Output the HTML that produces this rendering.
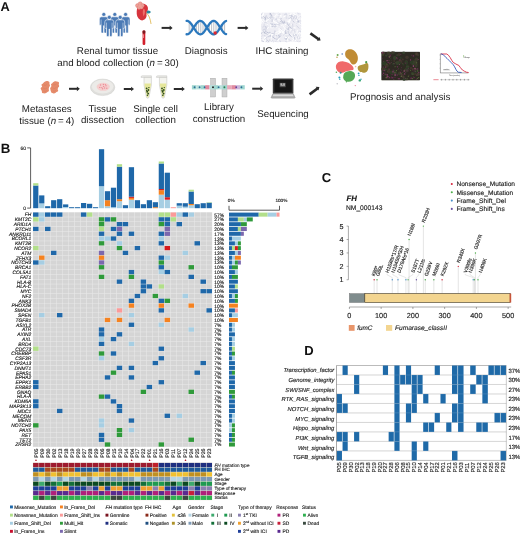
<!DOCTYPE html>
<html lang="en"><head><meta charset="utf-8"><title>Figure</title>
<style>html,body{margin:0;padding:0;background:#fff}svg{display:block}</style>
</head><body>
<svg width="520" height="535" viewBox="0 0 520 535" font-family='"Liberation Sans", sans-serif' text-rendering="geometricPrecision">
<rect x="0.00" y="0.00" width="520.00" height="535.00" fill="#ffffff"/>
<g id="panelA">
<text x="0.60" y="11.30" font-size="12.8" text-anchor="start" font-weight="bold" font-style="normal" fill="#111">A</text>
<g fill="#4b7ab5" stroke="#ffffff" stroke-width="0.55" stroke-linejoin="round">
<path d="M99.40 18.90 Q99.40 16.80 101.50 16.80 H106.10 Q108.20 16.80 108.20 18.90 V24.70 Q107.35 25.70 106.50 24.70 V32.50 Q105.30 33.70 104.05 32.50 V25.70 H103.55 V32.50 Q102.30 33.70 101.10 32.50 V24.70 Q100.25 25.70 99.40 24.70 Z"/>
<circle cx="103.80" cy="14.40" r="1.95"/>
</g>
<path d="M101.10 19.50 V24.90 M106.50 19.50 V24.90" stroke="#ffffff" stroke-width="0.45" fill="none"/>
<g fill="#4b7ab5" stroke="#ffffff" stroke-width="0.55" stroke-linejoin="round">
<path d="M110.40 18.90 Q110.40 16.80 112.50 16.80 H117.10 Q119.20 16.80 119.20 18.90 V24.70 Q118.35 25.70 117.50 24.70 V32.50 Q116.30 33.70 115.05 32.50 V25.70 H114.55 V32.50 Q113.30 33.70 112.10 32.50 V24.70 Q111.25 25.70 110.40 24.70 Z"/>
<circle cx="114.80" cy="14.40" r="1.95"/>
</g>
<path d="M112.10 19.50 V24.90 M117.50 19.50 V24.90" stroke="#ffffff" stroke-width="0.45" fill="none"/>
<g fill="#4b7ab5" stroke="#ffffff" stroke-width="0.55" stroke-linejoin="round">
<path d="M121.20 18.90 Q121.20 16.80 123.30 16.80 H127.90 Q130.00 16.80 130.00 18.90 V24.70 Q129.15 25.70 128.30 24.70 V32.50 Q127.10 33.70 125.85 32.50 V25.70 H125.35 V32.50 Q124.10 33.70 122.90 32.50 V24.70 Q122.05 25.70 121.20 24.70 Z"/>
<circle cx="125.60" cy="14.40" r="1.95"/>
</g>
<path d="M122.90 19.50 V24.90 M128.30 19.50 V24.90" stroke="#ffffff" stroke-width="0.45" fill="none"/>
<g fill="#4b7ab5" stroke="#ffffff" stroke-width="0.55" stroke-linejoin="round">
<path d="M104.77 21.99 Q104.77 19.83 106.93 19.83 H111.67 Q113.83 19.83 113.83 21.99 V27.97 Q112.96 29.00 112.08 27.97 V36.00 Q110.84 37.24 109.56 36.00 V29.00 H109.04 V36.00 Q107.75 37.24 106.52 36.00 V27.97 Q105.64 29.00 104.77 27.97 Z"/>
<circle cx="109.30" cy="17.36" r="2.01"/>
</g>
<path d="M106.52 22.61 V28.17 M112.08 22.61 V28.17" stroke="#ffffff" stroke-width="0.45" fill="none"/>
<g fill="#4b7ab5" stroke="#ffffff" stroke-width="0.55" stroke-linejoin="round">
<path d="M115.67 21.99 Q115.67 19.83 117.83 19.83 H122.57 Q124.73 19.83 124.73 21.99 V27.97 Q123.86 29.00 122.98 27.97 V36.00 Q121.75 37.24 120.46 36.00 V29.00 H119.94 V36.00 Q118.66 37.24 117.42 36.00 V27.97 Q116.54 29.00 115.67 27.97 Z"/>
<circle cx="120.20" cy="17.36" r="2.01"/>
</g>
<path d="M117.42 22.61 V28.17 M122.98 22.61 V28.17" stroke="#ffffff" stroke-width="0.45" fill="none"/>
<path d="M146.2 10.6 C149.6 9.8 151.4 11.4 150.6 12.6 C149.6 13.8 147.6 13.6 146.2 13.8 Z" fill="#2a8aa0"/>
<path d="M146.4 13.0 C148.8 14.6 150.2 18.4 151.0 23.6" fill="none" stroke="#e4c26a" stroke-width="1.0" stroke-linecap="round"/>
<path d="M140.0 4.5 C144.0 2.5 148.6 5.0 147.9 9.5 C147.5 11.0 146.3 11.6 146.3 12.8 C146.3 14.5 147.1 15.6 146.1 17.6 C145.0 20.0 142.5 21.0 140.5 20.0 C137.5 18.5 136.4 15.0 136.7 11.5 C137.0 8.0 137.5 5.5 140.0 4.5 Z" fill="#d6343c"/>
<path d="M143.6 8.6 C145.6 9.6 145.2 13.8 143.6 16.4 C142.6 14.6 142.4 10.6 143.6 8.6 Z" fill="#ee6f6a"/>
<g fill="#eda097" stroke="#d9706a" stroke-width="0.35">
<circle cx="137.6" cy="5.6" r="2.1"/>
<circle cx="140.2" cy="3.9" r="2.1"/>
<circle cx="142.4" cy="5.6" r="1.9"/>
<circle cx="139.0" cy="7.6" r="1.9"/>
<circle cx="141.4" cy="7.4" r="1.7"/>
</g>
<circle cx="140.0" cy="5.8" r="1.6" fill="#eda097"/>
<rect x="142.60" y="30.40" width="2.70" height="14.60" fill="#d3202c" rx="1.2"/>
<rect x="142.60" y="30.40" width="2.70" height="3.20" fill="#7a1a1f" rx="0.6"/>
<rect x="143.30" y="34.40" width="0.70" height="3.60" fill="#f4b6b6"/>
<line x1="161.60" y1="27.90" x2="170.20" y2="27.90" stroke="#2b2b2b" stroke-width="2.0"/>
<path d="M172.60 27.90 L169.70 30.25 L169.70 25.55 Z" fill="#2b2b2b"/>
<line x1="189.2" y1="22.38" x2="189.2" y2="32.82" stroke="#b4bac2" stroke-width="0.9"/>
<line x1="191.2" y1="24.54" x2="191.2" y2="30.66" stroke="#b4bac2" stroke-width="0.9"/>
<line x1="196.4" y1="24.15" x2="196.4" y2="31.05" stroke="#b4bac2" stroke-width="0.9"/>
<line x1="198.6" y1="22.03" x2="198.6" y2="33.17" stroke="#b4bac2" stroke-width="0.9"/>
<line x1="200.8" y1="21.55" x2="200.8" y2="33.65" stroke="#b4bac2" stroke-width="0.9"/>
<line x1="203.0" y1="22.82" x2="203.0" y2="32.38" stroke="#b4bac2" stroke-width="0.9"/>
<line x1="205.0" y1="25.22" x2="205.0" y2="29.98" stroke="#b4bac2" stroke-width="0.9"/>
<line x1="209.4" y1="24.54" x2="209.4" y2="30.66" stroke="#b4bac2" stroke-width="0.9"/>
<line x1="211.6" y1="22.23" x2="211.6" y2="32.97" stroke="#b4bac2" stroke-width="0.9"/>
<line x1="213.8" y1="21.51" x2="213.8" y2="33.69" stroke="#b4bac2" stroke-width="0.9"/>
<line x1="216.0" y1="22.55" x2="216.0" y2="32.65" stroke="#b4bac2" stroke-width="0.9"/>
<line x1="218.2" y1="25.08" x2="218.2" y2="30.12" stroke="#b4bac2" stroke-width="0.9"/>
<line x1="222.6" y1="24.67" x2="222.6" y2="30.53" stroke="#b4bac2" stroke-width="0.9"/>
<line x1="224.6" y1="22.46" x2="224.6" y2="32.74" stroke="#b4bac2" stroke-width="0.9"/>
<polyline points="186.60,34.27 187.10,34.30 187.60,34.23 188.10,34.08 188.60,33.83 189.10,33.49 189.60,33.08 190.10,32.58 190.60,32.02 191.10,31.40 191.60,30.72 192.10,30.00 192.60,29.24 193.10,28.47 193.60,27.68 194.10,26.89 194.60,26.11 195.10,25.35 195.60,24.62 196.10,23.94 196.60,23.30 197.10,22.72 197.60,22.22 198.10,21.78 198.60,21.43 199.10,21.17 199.60,20.99 200.10,20.91 200.60,20.92 201.10,21.02 201.60,21.21 202.10,21.50 202.60,21.86 203.10,22.31 203.60,22.83 204.10,23.42 204.60,24.07 205.10,24.76 205.60,25.50 206.10,26.26 206.60,27.05 207.10,27.84 207.60,28.62 208.10,29.40 208.60,30.15 209.10,30.86 209.60,31.53 210.10,32.14 210.60,32.69 211.10,33.17 211.60,33.57 212.10,33.88 212.60,34.11 213.10,34.25 213.60,34.30 214.10,34.25 214.60,34.11 215.10,33.88 215.60,33.57 216.10,33.17 216.60,32.69 217.10,32.14 217.60,31.53 218.10,30.86 218.60,30.15 219.10,29.40 219.60,28.62 220.10,27.84 220.60,27.05 221.10,26.26 221.60,25.50 222.10,24.76 222.60,24.07 223.10,23.42 223.60,22.83 224.10,22.31 224.60,21.86 225.10,21.50 225.60,21.21 226.10,21.02" fill="none" stroke="#2b78bd" stroke-width="2.3" stroke-linecap="round"/>
<polyline points="186.60,20.93 187.10,20.90 187.60,20.97 188.10,21.12 188.60,21.37 189.10,21.71 189.60,22.12 190.10,22.62 190.60,23.18 191.10,23.80 191.60,24.48 192.10,25.20 192.60,25.96 193.10,26.73 193.60,27.52 194.10,28.31 194.60,29.09 195.10,29.85 195.60,30.58 196.10,31.26 196.60,31.90 197.10,32.48 197.60,32.98 198.10,33.42 198.60,33.77 199.10,34.03 199.60,34.21 200.10,34.29 200.60,34.28 201.10,34.18 201.60,33.99 202.10,33.70 202.60,33.34 203.10,32.89 203.60,32.37 204.10,31.78 204.60,31.13 205.10,30.44 205.60,29.70 206.10,28.94 206.60,28.15 207.10,27.36 207.60,26.58 208.10,25.80 208.60,25.05 209.10,24.34 209.60,23.67 210.10,23.06 210.60,22.51 211.10,22.03 211.60,21.63 212.10,21.32 212.60,21.09 213.10,20.95 213.60,20.90 214.10,20.95 214.60,21.09 215.10,21.32 215.60,21.63 216.10,22.03 216.60,22.51 217.10,23.06 217.60,23.67 218.10,24.34 218.60,25.05 219.10,25.80 219.60,26.58 220.10,27.36 220.60,28.15 221.10,28.94 221.60,29.70 222.10,30.44 222.60,31.13 223.10,31.78 223.60,32.37 224.10,32.89 224.60,33.34 225.10,33.70 225.60,33.99 226.10,34.18" fill="none" stroke="#2b78bd" stroke-width="2.3" stroke-linecap="round"/>
<circle cx="215.2" cy="33.0" r="1.7" fill="#e0282e"/>
<line x1="237.60" y1="27.90" x2="246.00" y2="27.90" stroke="#2b2b2b" stroke-width="2.0"/>
<path d="M248.40 27.90 L245.50 30.25 L245.50 25.55 Z" fill="#2b2b2b"/>
<defs><clipPath id="ihc"><rect x="261.0" y="12.4" width="40.2" height="29.8" rx="1.5"/></clipPath></defs>
<g clip-path="url(#ihc)">
<rect x="261.00" y="12.40" width="40.20" height="29.80" fill="#eeeef4"/>
<line x1="273.6" y1="16.3" x2="272.8" y2="17.8" stroke="#ffffff" stroke-width="0.9"/>
<line x1="264.0" y1="29.7" x2="261.9" y2="30.3" stroke="#c7cadb" stroke-width="0.5"/>
<line x1="278.2" y1="13.8" x2="281.0" y2="14.6" stroke="#c7cadb" stroke-width="0.5"/>
<line x1="299.8" y1="31.1" x2="299.4" y2="32.7" stroke="#ffffff" stroke-width="0.9"/>
<line x1="262.1" y1="18.5" x2="261.7" y2="20.3" stroke="#ffffff" stroke-width="0.9"/>
<line x1="266.1" y1="15.3" x2="268.5" y2="18.8" stroke="#aab0c8" stroke-width="0.5"/>
<line x1="264.3" y1="29.3" x2="265.8" y2="30.3" stroke="#c7cadb" stroke-width="0.5"/>
<line x1="283.7" y1="30.8" x2="283.7" y2="34.1" stroke="#ffffff" stroke-width="0.9"/>
<line x1="279.6" y1="40.2" x2="280.5" y2="42.3" stroke="#aab0c8" stroke-width="0.5"/>
<line x1="289.4" y1="19.2" x2="288.6" y2="22.4" stroke="#ffffff" stroke-width="0.9"/>
<line x1="290.6" y1="20.5" x2="288.8" y2="20.6" stroke="#ffffff" stroke-width="0.9"/>
<line x1="266.9" y1="22.2" x2="264.1" y2="22.8" stroke="#c7cadb" stroke-width="0.5"/>
<line x1="292.1" y1="29.4" x2="289.8" y2="30.3" stroke="#ffffff" stroke-width="0.9"/>
<line x1="285.0" y1="29.6" x2="285.6" y2="34.0" stroke="#a0a6c0" stroke-width="0.5"/>
<line x1="279.9" y1="32.2" x2="283.8" y2="32.9" stroke="#f8f8fb" stroke-width="0.9"/>
<line x1="272.0" y1="23.6" x2="271.2" y2="24.8" stroke="#f8f8fb" stroke-width="0.9"/>
<line x1="274.9" y1="30.5" x2="275.0" y2="32.7" stroke="#a0a6c0" stroke-width="0.5"/>
<line x1="265.4" y1="19.3" x2="267.0" y2="23.5" stroke="#c7cadb" stroke-width="0.5"/>
<line x1="267.0" y1="24.1" x2="268.2" y2="25.5" stroke="#ffffff" stroke-width="0.9"/>
<line x1="296.3" y1="20.2" x2="297.0" y2="22.8" stroke="#ffffff" stroke-width="0.9"/>
<line x1="300.2" y1="16.3" x2="302.1" y2="17.5" stroke="#d3d5e2" stroke-width="0.5"/>
<line x1="260.5" y1="37.4" x2="262.5" y2="38.7" stroke="#aab0c8" stroke-width="0.5"/>
<line x1="277.6" y1="23.0" x2="276.6" y2="27.8" stroke="#ffffff" stroke-width="0.9"/>
<line x1="299.9" y1="31.9" x2="297.8" y2="34.1" stroke="#ffffff" stroke-width="0.9"/>
<line x1="276.5" y1="24.0" x2="280.0" y2="25.1" stroke="#b9bdd0" stroke-width="0.5"/>
<line x1="268.0" y1="42.1" x2="268.3" y2="43.9" stroke="#b9bdd0" stroke-width="0.5"/>
<line x1="264.3" y1="29.2" x2="263.7" y2="34.0" stroke="#b9bdd0" stroke-width="0.5"/>
<line x1="263.0" y1="18.0" x2="264.3" y2="21.5" stroke="#ffffff" stroke-width="0.9"/>
<line x1="285.3" y1="26.3" x2="288.2" y2="27.4" stroke="#f8f8fb" stroke-width="0.9"/>
<line x1="280.2" y1="21.3" x2="283.9" y2="23.1" stroke="#a0a6c0" stroke-width="0.5"/>
<line x1="280.1" y1="33.1" x2="280.0" y2="35.2" stroke="#ffffff" stroke-width="0.9"/>
<line x1="275.2" y1="33.0" x2="271.2" y2="34.1" stroke="#a0a6c0" stroke-width="0.5"/>
<line x1="301.1" y1="38.4" x2="299.7" y2="40.3" stroke="#ffffff" stroke-width="0.9"/>
<line x1="298.1" y1="22.6" x2="300.7" y2="24.8" stroke="#ffffff" stroke-width="0.9"/>
<line x1="273.8" y1="18.5" x2="269.7" y2="21.3" stroke="#d3d5e2" stroke-width="0.5"/>
<line x1="293.9" y1="37.0" x2="292.3" y2="38.6" stroke="#ffffff" stroke-width="0.9"/>
<line x1="280.7" y1="34.3" x2="276.5" y2="34.4" stroke="#f8f8fb" stroke-width="0.9"/>
<line x1="270.9" y1="33.1" x2="267.9" y2="33.5" stroke="#ffffff" stroke-width="0.9"/>
<line x1="300.1" y1="22.9" x2="301.8" y2="24.3" stroke="#d3d5e2" stroke-width="0.5"/>
<line x1="274.2" y1="26.6" x2="270.6" y2="26.7" stroke="#b9bdd0" stroke-width="0.5"/>
<line x1="280.1" y1="31.8" x2="278.8" y2="32.8" stroke="#c7cadb" stroke-width="0.5"/>
<line x1="298.2" y1="35.9" x2="296.0" y2="38.1" stroke="#aab0c8" stroke-width="0.5"/>
<line x1="278.2" y1="31.3" x2="282.9" y2="32.6" stroke="#ffffff" stroke-width="0.9"/>
<line x1="279.5" y1="34.6" x2="281.4" y2="35.2" stroke="#aab0c8" stroke-width="0.5"/>
<line x1="261.2" y1="29.9" x2="261.6" y2="33.7" stroke="#f8f8fb" stroke-width="0.9"/>
<line x1="287.6" y1="22.5" x2="287.3" y2="24.3" stroke="#b9bdd0" stroke-width="0.5"/>
<line x1="293.6" y1="34.1" x2="297.5" y2="35.4" stroke="#aab0c8" stroke-width="0.5"/>
<line x1="278.2" y1="38.6" x2="276.4" y2="39.7" stroke="#a0a6c0" stroke-width="0.5"/>
<line x1="268.9" y1="27.1" x2="267.0" y2="28.9" stroke="#ffffff" stroke-width="0.9"/>
<line x1="277.6" y1="15.7" x2="275.0" y2="16.4" stroke="#f8f8fb" stroke-width="0.9"/>
<line x1="287.8" y1="36.9" x2="287.6" y2="41.2" stroke="#ffffff" stroke-width="0.9"/>
<line x1="265.5" y1="16.3" x2="265.3" y2="20.8" stroke="#aab0c8" stroke-width="0.5"/>
<line x1="285.6" y1="35.7" x2="287.3" y2="36.5" stroke="#c7cadb" stroke-width="0.5"/>
<line x1="283.4" y1="21.7" x2="283.2" y2="25.1" stroke="#c7cadb" stroke-width="0.5"/>
<line x1="297.1" y1="13.4" x2="298.4" y2="14.2" stroke="#c7cadb" stroke-width="0.5"/>
<line x1="281.3" y1="29.0" x2="277.9" y2="32.2" stroke="#f8f8fb" stroke-width="0.9"/>
<line x1="273.7" y1="41.8" x2="273.0" y2="43.8" stroke="#a0a6c0" stroke-width="0.5"/>
<line x1="279.0" y1="28.1" x2="279.3" y2="32.9" stroke="#ffffff" stroke-width="0.9"/>
<line x1="296.8" y1="40.8" x2="299.2" y2="43.3" stroke="#d3d5e2" stroke-width="0.5"/>
<line x1="295.3" y1="15.9" x2="298.1" y2="17.0" stroke="#c7cadb" stroke-width="0.5"/>
<line x1="288.2" y1="24.9" x2="290.1" y2="26.4" stroke="#c7cadb" stroke-width="0.5"/>
<line x1="297.7" y1="16.4" x2="295.3" y2="19.3" stroke="#aab0c8" stroke-width="0.5"/>
<line x1="270.6" y1="15.9" x2="271.0" y2="19.9" stroke="#c7cadb" stroke-width="0.5"/>
<line x1="276.7" y1="26.7" x2="272.3" y2="26.8" stroke="#aab0c8" stroke-width="0.5"/>
<line x1="289.7" y1="42.4" x2="290.5" y2="45.2" stroke="#ffffff" stroke-width="0.9"/>
<line x1="273.4" y1="34.0" x2="276.8" y2="34.2" stroke="#f8f8fb" stroke-width="0.9"/>
<line x1="289.5" y1="23.5" x2="289.4" y2="26.0" stroke="#c7cadb" stroke-width="0.5"/>
<line x1="264.7" y1="40.1" x2="268.2" y2="43.1" stroke="#c7cadb" stroke-width="0.5"/>
<line x1="271.2" y1="12.8" x2="269.3" y2="14.3" stroke="#aab0c8" stroke-width="0.5"/>
<line x1="294.4" y1="37.9" x2="291.9" y2="42.0" stroke="#ffffff" stroke-width="0.9"/>
<line x1="266.3" y1="40.1" x2="265.4" y2="43.9" stroke="#c7cadb" stroke-width="0.5"/>
<line x1="271.7" y1="36.4" x2="275.6" y2="38.9" stroke="#a0a6c0" stroke-width="0.5"/>
<line x1="299.4" y1="31.3" x2="298.0" y2="32.3" stroke="#d3d5e2" stroke-width="0.5"/>
<line x1="262.8" y1="38.3" x2="263.2" y2="40.9" stroke="#ffffff" stroke-width="0.9"/>
<line x1="277.5" y1="40.0" x2="277.0" y2="41.4" stroke="#d3d5e2" stroke-width="0.5"/>
<line x1="299.4" y1="41.6" x2="300.8" y2="43.1" stroke="#a0a6c0" stroke-width="0.5"/>
<line x1="286.4" y1="28.1" x2="288.8" y2="29.9" stroke="#aab0c8" stroke-width="0.5"/>
<line x1="271.4" y1="36.5" x2="269.8" y2="36.5" stroke="#b9bdd0" stroke-width="0.5"/>
<line x1="290.8" y1="28.7" x2="293.4" y2="30.4" stroke="#f8f8fb" stroke-width="0.9"/>
<line x1="264.5" y1="37.0" x2="265.1" y2="40.1" stroke="#ffffff" stroke-width="0.9"/>
<line x1="300.8" y1="21.1" x2="302.5" y2="22.5" stroke="#d3d5e2" stroke-width="0.5"/>
<line x1="295.0" y1="33.5" x2="293.8" y2="36.1" stroke="#ffffff" stroke-width="0.9"/>
<line x1="301.2" y1="37.5" x2="304.9" y2="37.7" stroke="#a0a6c0" stroke-width="0.5"/>
<line x1="278.1" y1="13.3" x2="276.7" y2="15.7" stroke="#ffffff" stroke-width="0.9"/>
<line x1="288.2" y1="20.3" x2="289.9" y2="22.0" stroke="#f8f8fb" stroke-width="0.9"/>
<line x1="267.8" y1="19.9" x2="270.5" y2="20.0" stroke="#ffffff" stroke-width="0.9"/>
<line x1="300.9" y1="28.6" x2="304.4" y2="31.9" stroke="#a0a6c0" stroke-width="0.5"/>
<line x1="269.2" y1="17.3" x2="270.0" y2="18.8" stroke="#a0a6c0" stroke-width="0.5"/>
<line x1="281.1" y1="17.8" x2="281.1" y2="19.2" stroke="#a0a6c0" stroke-width="0.5"/>
<line x1="294.3" y1="16.1" x2="293.6" y2="18.8" stroke="#a0a6c0" stroke-width="0.5"/>
<line x1="272.8" y1="18.8" x2="271.9" y2="22.0" stroke="#aab0c8" stroke-width="0.5"/>
<line x1="287.6" y1="33.8" x2="285.0" y2="34.8" stroke="#ffffff" stroke-width="0.9"/>
<line x1="290.3" y1="26.9" x2="292.5" y2="29.7" stroke="#aab0c8" stroke-width="0.5"/>
<line x1="261.8" y1="37.5" x2="258.4" y2="38.7" stroke="#ffffff" stroke-width="0.9"/>
<line x1="265.9" y1="27.8" x2="265.8" y2="32.2" stroke="#b9bdd0" stroke-width="0.5"/>
<line x1="294.7" y1="29.7" x2="291.1" y2="31.0" stroke="#d3d5e2" stroke-width="0.5"/>
<line x1="263.6" y1="12.9" x2="261.5" y2="17.3" stroke="#ffffff" stroke-width="0.9"/>
<line x1="295.1" y1="28.9" x2="293.7" y2="32.3" stroke="#d3d5e2" stroke-width="0.5"/>
<line x1="280.6" y1="11.7" x2="277.3" y2="14.1" stroke="#ffffff" stroke-width="0.9"/>
<line x1="297.7" y1="14.5" x2="297.4" y2="18.5" stroke="#f8f8fb" stroke-width="0.9"/>
<line x1="270.6" y1="13.9" x2="273.3" y2="16.9" stroke="#d3d5e2" stroke-width="0.5"/>
<line x1="269.7" y1="31.7" x2="270.2" y2="36.2" stroke="#c7cadb" stroke-width="0.5"/>
<line x1="280.1" y1="32.8" x2="277.4" y2="35.2" stroke="#d3d5e2" stroke-width="0.5"/>
<line x1="263.3" y1="16.2" x2="266.1" y2="19.1" stroke="#a0a6c0" stroke-width="0.5"/>
<line x1="286.1" y1="15.7" x2="286.3" y2="18.9" stroke="#c7cadb" stroke-width="0.5"/>
<line x1="289.1" y1="32.5" x2="291.1" y2="35.1" stroke="#f8f8fb" stroke-width="0.9"/>
<line x1="279.6" y1="35.4" x2="276.2" y2="35.5" stroke="#a0a6c0" stroke-width="0.5"/>
<line x1="301.1" y1="40.6" x2="304.1" y2="40.8" stroke="#ffffff" stroke-width="0.9"/>
<line x1="300.7" y1="25.5" x2="302.1" y2="27.1" stroke="#d3d5e2" stroke-width="0.5"/>
<line x1="263.1" y1="14.4" x2="261.5" y2="16.1" stroke="#ffffff" stroke-width="0.9"/>
<line x1="265.6" y1="37.0" x2="265.4" y2="41.6" stroke="#ffffff" stroke-width="0.9"/>
<line x1="269.7" y1="39.4" x2="269.8" y2="40.9" stroke="#b9bdd0" stroke-width="0.5"/>
<line x1="299.9" y1="32.7" x2="301.1" y2="36.6" stroke="#ffffff" stroke-width="0.9"/>
<line x1="274.4" y1="21.4" x2="273.2" y2="22.1" stroke="#ffffff" stroke-width="0.9"/>
<line x1="295.2" y1="15.3" x2="291.4" y2="16.2" stroke="#a0a6c0" stroke-width="0.5"/>
<line x1="270.6" y1="13.6" x2="272.2" y2="17.9" stroke="#c7cadb" stroke-width="0.5"/>
<line x1="275.1" y1="24.9" x2="276.2" y2="26.1" stroke="#c7cadb" stroke-width="0.5"/>
<line x1="262.2" y1="32.1" x2="261.4" y2="33.9" stroke="#a0a6c0" stroke-width="0.5"/>
<line x1="278.3" y1="21.4" x2="275.1" y2="24.1" stroke="#ffffff" stroke-width="0.9"/>
<line x1="297.1" y1="36.8" x2="295.3" y2="41.1" stroke="#ffffff" stroke-width="0.9"/>
<line x1="283.1" y1="33.9" x2="287.1" y2="34.5" stroke="#f8f8fb" stroke-width="0.9"/>
<line x1="285.8" y1="15.9" x2="282.9" y2="17.2" stroke="#ffffff" stroke-width="0.9"/>
<line x1="265.3" y1="26.2" x2="266.5" y2="28.4" stroke="#a0a6c0" stroke-width="0.5"/>
<line x1="277.1" y1="19.0" x2="277.3" y2="22.8" stroke="#c7cadb" stroke-width="0.5"/>
<line x1="267.0" y1="16.6" x2="270.7" y2="19.4" stroke="#f8f8fb" stroke-width="0.9"/>
<line x1="283.1" y1="25.6" x2="285.2" y2="29.2" stroke="#ffffff" stroke-width="0.9"/>
<line x1="265.9" y1="17.6" x2="268.4" y2="18.3" stroke="#c7cadb" stroke-width="0.5"/>
<line x1="273.4" y1="23.0" x2="271.7" y2="24.2" stroke="#b9bdd0" stroke-width="0.5"/>
<line x1="291.5" y1="24.4" x2="292.4" y2="27.6" stroke="#ffffff" stroke-width="0.9"/>
<line x1="271.4" y1="34.9" x2="271.4" y2="38.4" stroke="#ffffff" stroke-width="0.9"/>
<line x1="265.3" y1="27.2" x2="263.5" y2="31.3" stroke="#d3d5e2" stroke-width="0.5"/>
<line x1="263.9" y1="39.4" x2="265.2" y2="42.9" stroke="#ffffff" stroke-width="0.9"/>
<line x1="300.1" y1="37.9" x2="298.7" y2="38.5" stroke="#b9bdd0" stroke-width="0.5"/>
<line x1="277.9" y1="35.3" x2="273.9" y2="38.1" stroke="#f8f8fb" stroke-width="0.9"/>
<line x1="260.0" y1="23.7" x2="255.8" y2="24.7" stroke="#f8f8fb" stroke-width="0.9"/>
<line x1="300.8" y1="19.3" x2="302.7" y2="20.0" stroke="#ffffff" stroke-width="0.9"/>
<line x1="300.8" y1="15.0" x2="297.5" y2="17.0" stroke="#f8f8fb" stroke-width="0.9"/>
<line x1="263.6" y1="35.7" x2="265.4" y2="35.7" stroke="#b9bdd0" stroke-width="0.5"/>
<line x1="287.1" y1="21.0" x2="289.2" y2="21.9" stroke="#ffffff" stroke-width="0.9"/>
<line x1="289.3" y1="15.1" x2="292.5" y2="15.8" stroke="#d3d5e2" stroke-width="0.5"/>
<line x1="276.3" y1="18.5" x2="275.9" y2="19.9" stroke="#a0a6c0" stroke-width="0.5"/>
<line x1="301.8" y1="20.2" x2="304.3" y2="23.9" stroke="#d3d5e2" stroke-width="0.5"/>
<line x1="280.0" y1="18.9" x2="283.4" y2="22.3" stroke="#a0a6c0" stroke-width="0.5"/>
<line x1="262.3" y1="17.6" x2="258.8" y2="18.9" stroke="#c7cadb" stroke-width="0.5"/>
<line x1="270.8" y1="32.3" x2="268.6" y2="32.8" stroke="#b9bdd0" stroke-width="0.5"/>
<line x1="289.2" y1="33.9" x2="290.4" y2="36.4" stroke="#b9bdd0" stroke-width="0.5"/>
<line x1="293.5" y1="34.5" x2="293.4" y2="36.7" stroke="#d3d5e2" stroke-width="0.5"/>
<line x1="273.1" y1="37.0" x2="274.7" y2="38.5" stroke="#a0a6c0" stroke-width="0.5"/>
<line x1="264.6" y1="30.9" x2="263.0" y2="35.3" stroke="#f8f8fb" stroke-width="0.9"/>
<line x1="277.5" y1="32.2" x2="275.6" y2="32.5" stroke="#ffffff" stroke-width="0.9"/>
<line x1="262.3" y1="12.3" x2="261.4" y2="15.1" stroke="#b9bdd0" stroke-width="0.5"/>
<line x1="267.7" y1="25.5" x2="266.2" y2="27.5" stroke="#c7cadb" stroke-width="0.5"/>
<line x1="301.9" y1="40.5" x2="303.0" y2="42.3" stroke="#ffffff" stroke-width="0.9"/>
<line x1="291.3" y1="12.6" x2="290.0" y2="15.0" stroke="#ffffff" stroke-width="0.9"/>
<line x1="301.4" y1="25.3" x2="303.0" y2="25.9" stroke="#c7cadb" stroke-width="0.5"/>
<line x1="274.8" y1="41.2" x2="279.3" y2="43.1" stroke="#d3d5e2" stroke-width="0.5"/>
<line x1="276.0" y1="35.4" x2="278.4" y2="39.0" stroke="#c7cadb" stroke-width="0.5"/>
<line x1="262.1" y1="26.3" x2="263.9" y2="30.6" stroke="#d3d5e2" stroke-width="0.5"/>
<line x1="273.6" y1="34.5" x2="273.9" y2="38.1" stroke="#d3d5e2" stroke-width="0.5"/>
<line x1="294.1" y1="35.4" x2="295.6" y2="35.6" stroke="#c7cadb" stroke-width="0.5"/>
<line x1="293.7" y1="13.5" x2="295.1" y2="14.5" stroke="#ffffff" stroke-width="0.9"/>
<line x1="275.2" y1="22.0" x2="273.7" y2="22.2" stroke="#ffffff" stroke-width="0.9"/>
<line x1="298.8" y1="20.8" x2="296.5" y2="23.5" stroke="#c7cadb" stroke-width="0.5"/>
<line x1="261.0" y1="18.8" x2="261.4" y2="23.7" stroke="#ffffff" stroke-width="0.9"/>
<line x1="293.2" y1="39.9" x2="291.6" y2="41.0" stroke="#f8f8fb" stroke-width="0.9"/>
<line x1="267.7" y1="36.5" x2="264.7" y2="39.7" stroke="#aab0c8" stroke-width="0.5"/>
<line x1="285.5" y1="21.8" x2="287.0" y2="24.0" stroke="#c7cadb" stroke-width="0.5"/>
<line x1="281.5" y1="23.7" x2="284.0" y2="25.1" stroke="#b9bdd0" stroke-width="0.5"/>
<line x1="280.2" y1="28.5" x2="282.8" y2="29.9" stroke="#c7cadb" stroke-width="0.5"/>
<line x1="301.5" y1="19.8" x2="303.2" y2="20.3" stroke="#f8f8fb" stroke-width="0.9"/>
<line x1="301.5" y1="41.7" x2="303.1" y2="42.7" stroke="#f8f8fb" stroke-width="0.9"/>
<line x1="286.1" y1="32.5" x2="282.9" y2="35.7" stroke="#c7cadb" stroke-width="0.5"/>
<line x1="292.7" y1="20.7" x2="294.3" y2="22.5" stroke="#a0a6c0" stroke-width="0.5"/>
<line x1="291.0" y1="17.8" x2="292.6" y2="19.4" stroke="#aab0c8" stroke-width="0.5"/>
<line x1="271.8" y1="39.7" x2="273.2" y2="40.6" stroke="#a0a6c0" stroke-width="0.5"/>
<line x1="301.7" y1="27.3" x2="304.9" y2="30.2" stroke="#f8f8fb" stroke-width="0.9"/>
<line x1="301.6" y1="14.8" x2="302.0" y2="19.1" stroke="#f8f8fb" stroke-width="0.9"/>
<line x1="298.4" y1="12.9" x2="299.5" y2="14.3" stroke="#d3d5e2" stroke-width="0.5"/>
<line x1="285.2" y1="37.3" x2="286.6" y2="38.2" stroke="#ffffff" stroke-width="0.9"/>
<line x1="296.4" y1="25.5" x2="299.3" y2="28.6" stroke="#b9bdd0" stroke-width="0.5"/>
<line x1="264.4" y1="30.1" x2="263.6" y2="32.1" stroke="#ffffff" stroke-width="0.9"/>
<line x1="274.3" y1="13.0" x2="272.7" y2="13.0" stroke="#d3d5e2" stroke-width="0.5"/>
<line x1="294.2" y1="37.0" x2="295.0" y2="39.6" stroke="#a0a6c0" stroke-width="0.5"/>
<line x1="263.3" y1="12.6" x2="263.3" y2="15.7" stroke="#ffffff" stroke-width="0.9"/>
<line x1="264.3" y1="23.9" x2="263.7" y2="27.5" stroke="#c7cadb" stroke-width="0.5"/>
<line x1="287.4" y1="23.9" x2="290.7" y2="27.7" stroke="#a0a6c0" stroke-width="0.5"/>
<line x1="277.5" y1="13.2" x2="274.4" y2="16.5" stroke="#ffffff" stroke-width="0.9"/>
<line x1="277.5" y1="38.4" x2="274.8" y2="38.4" stroke="#d3d5e2" stroke-width="0.5"/>
<line x1="276.4" y1="24.2" x2="273.5" y2="24.7" stroke="#aab0c8" stroke-width="0.5"/>
<line x1="277.8" y1="37.0" x2="279.1" y2="41.4" stroke="#f8f8fb" stroke-width="0.9"/>
<line x1="292.5" y1="15.6" x2="294.4" y2="15.9" stroke="#ffffff" stroke-width="0.9"/>
<line x1="263.7" y1="30.9" x2="265.0" y2="33.8" stroke="#aab0c8" stroke-width="0.5"/>
<line x1="274.6" y1="16.6" x2="276.0" y2="17.5" stroke="#ffffff" stroke-width="0.9"/>
<line x1="280.6" y1="36.5" x2="278.5" y2="36.8" stroke="#aab0c8" stroke-width="0.5"/>
<line x1="295.2" y1="12.9" x2="292.7" y2="13.6" stroke="#ffffff" stroke-width="0.9"/>
<line x1="263.6" y1="33.7" x2="261.1" y2="37.5" stroke="#d3d5e2" stroke-width="0.5"/>
<line x1="286.1" y1="30.7" x2="288.6" y2="32.4" stroke="#d3d5e2" stroke-width="0.5"/>
<line x1="261.8" y1="40.7" x2="264.1" y2="42.0" stroke="#aab0c8" stroke-width="0.5"/>
<line x1="270.4" y1="34.1" x2="268.9" y2="34.6" stroke="#ffffff" stroke-width="0.9"/>
<line x1="295.4" y1="32.4" x2="294.1" y2="34.7" stroke="#ffffff" stroke-width="0.9"/>
<line x1="285.2" y1="28.7" x2="284.2" y2="31.0" stroke="#ffffff" stroke-width="0.9"/>
<line x1="272.9" y1="19.3" x2="273.9" y2="21.9" stroke="#ffffff" stroke-width="0.9"/>
<line x1="278.4" y1="12.3" x2="277.3" y2="15.3" stroke="#d3d5e2" stroke-width="0.5"/>
<line x1="278.8" y1="30.8" x2="275.0" y2="33.2" stroke="#f8f8fb" stroke-width="0.9"/>
<line x1="276.8" y1="13.7" x2="278.0" y2="16.1" stroke="#f8f8fb" stroke-width="0.9"/>
<line x1="281.2" y1="32.0" x2="283.0" y2="32.2" stroke="#ffffff" stroke-width="0.9"/>
<line x1="292.7" y1="27.5" x2="295.8" y2="28.0" stroke="#ffffff" stroke-width="0.9"/>
<line x1="287.4" y1="35.9" x2="289.0" y2="36.0" stroke="#c7cadb" stroke-width="0.5"/>
<line x1="268.1" y1="42.0" x2="268.3" y2="46.9" stroke="#aab0c8" stroke-width="0.5"/>
<line x1="288.8" y1="34.0" x2="292.2" y2="36.8" stroke="#a0a6c0" stroke-width="0.5"/>
<line x1="266.7" y1="39.4" x2="269.5" y2="42.7" stroke="#aab0c8" stroke-width="0.5"/>
<line x1="270.7" y1="41.5" x2="270.9" y2="45.0" stroke="#ffffff" stroke-width="0.9"/>
<line x1="270.0" y1="23.1" x2="272.3" y2="24.8" stroke="#a0a6c0" stroke-width="0.5"/>
<line x1="288.5" y1="39.4" x2="292.2" y2="41.5" stroke="#c7cadb" stroke-width="0.5"/>
<line x1="292.3" y1="13.1" x2="287.9" y2="15.2" stroke="#f8f8fb" stroke-width="0.9"/>
<line x1="283.3" y1="29.6" x2="281.7" y2="30.2" stroke="#ffffff" stroke-width="0.9"/>
<line x1="286.5" y1="23.8" x2="284.6" y2="25.2" stroke="#ffffff" stroke-width="0.9"/>
<line x1="284.2" y1="22.8" x2="282.0" y2="24.8" stroke="#aab0c8" stroke-width="0.5"/>
<line x1="285.8" y1="41.3" x2="287.8" y2="43.9" stroke="#a0a6c0" stroke-width="0.5"/>
<line x1="286.8" y1="42.1" x2="285.8" y2="45.8" stroke="#ffffff" stroke-width="0.9"/>
<line x1="290.8" y1="34.8" x2="292.7" y2="36.3" stroke="#ffffff" stroke-width="0.9"/>
<line x1="277.5" y1="22.9" x2="280.7" y2="23.4" stroke="#b9bdd0" stroke-width="0.5"/>
<line x1="260.9" y1="11.7" x2="261.7" y2="13.3" stroke="#ffffff" stroke-width="0.9"/>
<line x1="282.4" y1="24.4" x2="283.5" y2="25.9" stroke="#ffffff" stroke-width="0.9"/>
<line x1="286.2" y1="26.3" x2="290.6" y2="28.3" stroke="#d3d5e2" stroke-width="0.5"/>
<line x1="289.7" y1="25.6" x2="291.6" y2="26.0" stroke="#a0a6c0" stroke-width="0.5"/>
<line x1="276.9" y1="19.8" x2="280.6" y2="19.9" stroke="#ffffff" stroke-width="0.9"/>
<line x1="297.5" y1="30.0" x2="296.6" y2="33.5" stroke="#ffffff" stroke-width="0.9"/>
<line x1="290.8" y1="19.3" x2="289.3" y2="19.8" stroke="#ffffff" stroke-width="0.9"/>
<line x1="261.1" y1="17.4" x2="265.2" y2="19.6" stroke="#c7cadb" stroke-width="0.5"/>
<line x1="260.5" y1="28.7" x2="258.6" y2="29.0" stroke="#d3d5e2" stroke-width="0.5"/>
<line x1="281.8" y1="31.5" x2="280.5" y2="34.1" stroke="#aab0c8" stroke-width="0.5"/>
<line x1="281.4" y1="13.6" x2="279.4" y2="18.2" stroke="#f8f8fb" stroke-width="0.9"/>
<line x1="290.0" y1="11.8" x2="286.4" y2="13.7" stroke="#f8f8fb" stroke-width="0.9"/>
<line x1="263.4" y1="31.9" x2="267.6" y2="34.5" stroke="#a0a6c0" stroke-width="0.5"/>
<line x1="269.8" y1="12.8" x2="271.8" y2="16.4" stroke="#a0a6c0" stroke-width="0.5"/>
<line x1="289.9" y1="19.8" x2="289.4" y2="22.8" stroke="#ffffff" stroke-width="0.9"/>
<line x1="300.8" y1="20.8" x2="296.3" y2="21.8" stroke="#c7cadb" stroke-width="0.5"/>
<line x1="297.0" y1="12.1" x2="298.5" y2="13.7" stroke="#d3d5e2" stroke-width="0.5"/>
<line x1="299.7" y1="34.7" x2="302.0" y2="38.6" stroke="#ffffff" stroke-width="0.9"/>
<line x1="285.3" y1="23.4" x2="281.0" y2="25.5" stroke="#ffffff" stroke-width="0.9"/>
<line x1="279.7" y1="37.6" x2="277.1" y2="41.3" stroke="#ffffff" stroke-width="0.9"/>
<line x1="300.1" y1="18.8" x2="296.2" y2="20.4" stroke="#ffffff" stroke-width="0.9"/>
<line x1="286.2" y1="14.0" x2="284.3" y2="14.5" stroke="#b9bdd0" stroke-width="0.5"/>
<line x1="264.7" y1="30.9" x2="269.0" y2="33.3" stroke="#b9bdd0" stroke-width="0.5"/>
<line x1="261.3" y1="15.9" x2="260.6" y2="17.3" stroke="#c7cadb" stroke-width="0.5"/>
<line x1="290.9" y1="13.6" x2="290.2" y2="16.2" stroke="#ffffff" stroke-width="0.9"/>
<line x1="297.4" y1="13.6" x2="293.1" y2="15.5" stroke="#ffffff" stroke-width="0.9"/>
<line x1="264.5" y1="18.0" x2="265.9" y2="18.5" stroke="#c7cadb" stroke-width="0.5"/>
<line x1="294.7" y1="31.2" x2="295.7" y2="32.6" stroke="#c7cadb" stroke-width="0.5"/>
<line x1="293.3" y1="31.6" x2="294.8" y2="33.7" stroke="#a0a6c0" stroke-width="0.5"/>
<line x1="260.9" y1="19.6" x2="263.4" y2="22.6" stroke="#ffffff" stroke-width="0.9"/>
<line x1="298.2" y1="35.4" x2="297.3" y2="38.4" stroke="#a0a6c0" stroke-width="0.5"/>
<line x1="286.0" y1="12.6" x2="286.8" y2="15.4" stroke="#c7cadb" stroke-width="0.5"/>
<line x1="274.6" y1="33.4" x2="274.3" y2="35.6" stroke="#c7cadb" stroke-width="0.5"/>
<line x1="284.1" y1="20.5" x2="284.8" y2="23.7" stroke="#a0a6c0" stroke-width="0.5"/>
<line x1="292.0" y1="41.9" x2="295.2" y2="42.0" stroke="#f8f8fb" stroke-width="0.9"/>
<line x1="289.2" y1="37.2" x2="285.7" y2="37.5" stroke="#ffffff" stroke-width="0.9"/>
<line x1="270.9" y1="40.9" x2="272.3" y2="42.6" stroke="#d3d5e2" stroke-width="0.5"/>
<line x1="280.9" y1="15.0" x2="280.2" y2="16.5" stroke="#ffffff" stroke-width="0.9"/>
<line x1="293.1" y1="31.1" x2="294.3" y2="33.6" stroke="#ffffff" stroke-width="0.9"/>
<line x1="297.5" y1="34.7" x2="298.4" y2="38.3" stroke="#ffffff" stroke-width="0.9"/>
<line x1="268.7" y1="19.8" x2="265.6" y2="20.7" stroke="#ffffff" stroke-width="0.9"/>
<line x1="301.3" y1="31.2" x2="299.4" y2="31.5" stroke="#b9bdd0" stroke-width="0.5"/>
<line x1="274.6" y1="21.7" x2="278.6" y2="23.8" stroke="#ffffff" stroke-width="0.9"/>
<line x1="291.2" y1="16.9" x2="292.0" y2="21.0" stroke="#d3d5e2" stroke-width="0.5"/>
<line x1="265.3" y1="25.9" x2="263.2" y2="26.7" stroke="#d3d5e2" stroke-width="0.5"/>
<line x1="271.2" y1="35.0" x2="268.1" y2="36.9" stroke="#aab0c8" stroke-width="0.5"/>
<line x1="300.9" y1="34.0" x2="300.1" y2="36.5" stroke="#d3d5e2" stroke-width="0.5"/>
<line x1="273.8" y1="17.5" x2="269.8" y2="17.8" stroke="#c7cadb" stroke-width="0.5"/>
<line x1="266.9" y1="32.0" x2="268.5" y2="33.1" stroke="#aab0c8" stroke-width="0.5"/>
<line x1="293.4" y1="34.3" x2="293.8" y2="36.4" stroke="#c7cadb" stroke-width="0.5"/>
<line x1="271.8" y1="39.0" x2="272.0" y2="40.5" stroke="#ffffff" stroke-width="0.9"/>
<line x1="289.1" y1="27.1" x2="287.9" y2="29.9" stroke="#aab0c8" stroke-width="0.5"/>
<line x1="270.8" y1="34.5" x2="273.1" y2="34.5" stroke="#ffffff" stroke-width="0.9"/>
<line x1="289.4" y1="29.8" x2="287.5" y2="33.8" stroke="#d3d5e2" stroke-width="0.5"/>
<line x1="288.5" y1="31.5" x2="288.9" y2="34.0" stroke="#c7cadb" stroke-width="0.5"/>
<line x1="297.6" y1="19.1" x2="298.8" y2="22.9" stroke="#aab0c8" stroke-width="0.5"/>
<line x1="270.5" y1="24.7" x2="271.0" y2="28.3" stroke="#ffffff" stroke-width="0.9"/>
<line x1="281.8" y1="32.1" x2="277.5" y2="33.9" stroke="#ffffff" stroke-width="0.9"/>
<line x1="292.7" y1="23.6" x2="292.8" y2="28.6" stroke="#b9bdd0" stroke-width="0.5"/>
<line x1="270.6" y1="18.4" x2="267.5" y2="22.1" stroke="#d3d5e2" stroke-width="0.5"/>
<line x1="281.8" y1="14.7" x2="281.0" y2="18.0" stroke="#f8f8fb" stroke-width="0.9"/>
<line x1="281.5" y1="31.4" x2="278.7" y2="33.1" stroke="#ffffff" stroke-width="0.9"/>
<line x1="291.2" y1="25.8" x2="289.1" y2="25.8" stroke="#ffffff" stroke-width="0.9"/>
<line x1="292.0" y1="15.4" x2="289.4" y2="15.5" stroke="#b9bdd0" stroke-width="0.5"/>
<line x1="270.6" y1="23.4" x2="272.2" y2="23.8" stroke="#ffffff" stroke-width="0.9"/>
<line x1="286.4" y1="32.5" x2="286.0" y2="34.3" stroke="#a0a6c0" stroke-width="0.5"/>
<line x1="291.1" y1="40.7" x2="291.0" y2="42.9" stroke="#ffffff" stroke-width="0.9"/>
<line x1="279.4" y1="16.7" x2="277.8" y2="17.1" stroke="#d3d5e2" stroke-width="0.5"/>
<line x1="279.7" y1="29.0" x2="283.4" y2="32.2" stroke="#ffffff" stroke-width="0.9"/>
<line x1="288.0" y1="37.4" x2="285.7" y2="39.1" stroke="#a0a6c0" stroke-width="0.5"/>
<line x1="291.9" y1="31.7" x2="289.5" y2="33.7" stroke="#d3d5e2" stroke-width="0.5"/>
<line x1="271.2" y1="23.3" x2="273.3" y2="25.4" stroke="#aab0c8" stroke-width="0.5"/>
<line x1="280.2" y1="36.6" x2="278.1" y2="38.2" stroke="#a0a6c0" stroke-width="0.5"/>
<line x1="273.5" y1="26.6" x2="272.8" y2="28.2" stroke="#ffffff" stroke-width="0.9"/>
<line x1="266.4" y1="21.0" x2="267.0" y2="22.6" stroke="#ffffff" stroke-width="0.9"/>
<line x1="292.9" y1="16.0" x2="289.8" y2="17.8" stroke="#b9bdd0" stroke-width="0.5"/>
<line x1="287.6" y1="18.1" x2="290.0" y2="18.7" stroke="#c7cadb" stroke-width="0.5"/>
<line x1="284.3" y1="38.1" x2="286.8" y2="39.7" stroke="#aab0c8" stroke-width="0.5"/>
</g>
<line x1="310.40" y1="33.40" x2="318.64" y2="39.22" stroke="#2b2b2b" stroke-width="2.6"/>
<path d="M320.60 40.60 L316.88 40.85 L319.59 37.01 Z" fill="#2b2b2b"/>
<text x="117.50" y="54.20" font-size="9.75" text-anchor="middle" font-weight="normal" font-style="normal" fill="#1c1c1c">Renal tumor tissue</text>
<text x="118.0" y="65.9" font-size="9.75" text-anchor="middle" fill="#1c1c1c">and blood collection (<tspan font-style="italic">n</tspan>&#8201;=&#8201;30)</text>
<text x="206.20" y="54.20" font-size="9.75" text-anchor="middle" font-weight="normal" font-style="normal" fill="#1c1c1c">Diagnosis</text>
<text x="282.00" y="54.20" font-size="9.75" text-anchor="middle" font-weight="normal" font-style="normal" fill="#1c1c1c">IHC staining</text>
<g fill="#e58b6b">
<path d="M43.0 83.6 C44.6 80.6 48.4 80.2 49.2 82.8 C50.4 85.0 48.8 87.0 48.6 89.6 C48.2 92.4 45.4 94.4 43.2 93.0 C40.8 91.6 41.4 88.4 42.0 86.8 C42.2 85.6 42.4 84.6 43.0 83.6 Z"/>
<path d="M52.4 83.0 C54.2 80.4 58.0 80.6 58.6 83.4 C59.4 85.8 57.8 87.6 57.4 90.0 C56.8 92.8 54.0 94.4 52.0 92.8 C49.8 91.2 50.6 88.4 51.2 86.6 C51.6 85.2 51.8 84.0 52.4 83.0 Z"/>
<circle cx="42.8" cy="85.0" r="1.3"/>
<circle cx="42.0" cy="88.6" r="1.3"/>
<circle cx="43.2" cy="92.0" r="1.3"/>
<circle cx="48.2" cy="82.6" r="1.2"/>
<circle cx="48.6" cy="85.6" r="1.2"/>
<circle cx="47.6" cy="90.4" r="1.3"/>
<circle cx="52.2" cy="84.6" r="1.2"/>
<circle cx="51.6" cy="88.4" r="1.3"/>
<circle cx="52.6" cy="91.8" r="1.3"/>
<circle cx="57.8" cy="83.0" r="1.2"/>
<circle cx="58.0" cy="86.0" r="1.2"/>
<circle cx="56.8" cy="90.6" r="1.3"/>
</g>
<g fill="none" stroke="#d4765a" stroke-width="0.4">
<path d="M44.0 85.0 q1.6 1.0 3.2 -0.6 M43.4 88.4 q1.8 1.2 3.8 -0.4 M44.2 91.2 q1.2 0.6 2.6 -0.6 M53.4 84.6 q1.6 1.0 3.2 -0.6 M52.6 88.0 q1.8 1.2 3.8 -0.4 M53.2 91.0 q1.2 0.6 2.6 -0.6"/>
</g>
<line x1="69.00" y1="88.80" x2="77.40" y2="88.80" stroke="#2b2b2b" stroke-width="2.0"/>
<path d="M79.80 88.80 L76.90 91.15 L76.90 86.45 Z" fill="#2b2b2b"/>
<ellipse cx="102.6" cy="87.3" rx="12.2" ry="8.3" fill="#dfdfdc" stroke="#cbcbc8" stroke-width="0.4"/>
<ellipse cx="102.6" cy="86.6" rx="10.8" ry="6.9" fill="#ecebe8"/>
<ellipse cx="103.2" cy="86.8" rx="6.6" ry="4.0" fill="#f7c6c6" opacity="0.75"/>
<circle cx="100.6" cy="85.0" r="0.7" fill="#ee8f98"/>
<circle cx="103.4" cy="84.4" r="0.7" fill="#ee8f98"/>
<circle cx="106.0" cy="85.8" r="0.7" fill="#ee8f98"/>
<circle cx="101.8" cy="87.6" r="0.7" fill="#ee8f98"/>
<circle cx="104.6" cy="88.0" r="0.7" fill="#ee8f98"/>
<circle cx="99.8" cy="87.4" r="0.7" fill="#ee8f98"/>
<circle cx="106.8" cy="88.2" r="0.7" fill="#ee8f98"/>
<circle cx="103.6" cy="86.4" r="0.7" fill="#ee8f98"/>
<circle cx="102.6" cy="88.8" r="0.7" fill="#ee8f98"/>
<circle cx="105.4" cy="84.6" r="0.7" fill="#ee8f98"/>
<line x1="123.80" y1="89.00" x2="131.60" y2="89.00" stroke="#2b2b2b" stroke-width="2.0"/>
<path d="M134.00 89.00 L131.10 91.35 L131.10 86.65 Z" fill="#2b2b2b"/>
<path d="M141.0 77.2 q0 -1.4 1.4 -1.4 h9.0 v1.6 h-10.4 Z" fill="#ededea" stroke="#bdbdb9" stroke-width="0.45"/>
<path d="M144.0 77.4 h7.4 v7.6 l-2.5 12.6 q-1.2 1.2 -2.4 0 l-2.5 -12.6 Z" fill="#f4f4ef" stroke="#bdbdb9" stroke-width="0.5"/>
<path d="M144.5 83.6 h6.4 v1.4 l-2.4 12.0 q-0.8 0.8 -1.6 0 l-2.4 -12.0 Z" fill="#e6e79a"/>
<circle cx="146.6" cy="88.4" r="0.9" fill="#2b4a1f"/>
<circle cx="148.4" cy="90.0" r="0.9" fill="#2b4a1f"/>
<circle cx="147.2" cy="91.8" r="1.0" fill="#2b4a1f"/>
<circle cx="148.2" cy="93.6" r="0.9" fill="#2b4a1f"/>
<circle cx="147.4" cy="95.2" r="0.8" fill="#2b4a1f"/>
<circle cx="148.9" cy="87.6" r="0.7" fill="#2b4a1f"/>
<circle cx="146.7" cy="90.4" r="0.7" fill="#2b4a1f"/>
<path d="M156.4 77.2 q0 -1.4 1.4 -1.4 h9.0 v1.6 h-10.4 Z" fill="#ededea" stroke="#bdbdb9" stroke-width="0.45"/>
<path d="M159.4 77.4 h7.4 v7.6 l-2.5 12.6 q-1.2 1.2 -2.4 0 l-2.5 -12.6 Z" fill="#f4f4ef" stroke="#bdbdb9" stroke-width="0.5"/>
<path d="M159.9 83.6 h6.4 v1.4 l-2.4 12.0 q-0.8 0.8 -1.6 0 l-2.4 -12.0 Z" fill="#e6e79a"/>
<circle cx="162.0" cy="88.4" r="0.9" fill="#2b4a1f"/>
<circle cx="163.8" cy="90.0" r="0.9" fill="#2b4a1f"/>
<circle cx="162.6" cy="91.8" r="1.0" fill="#2b4a1f"/>
<circle cx="163.6" cy="93.6" r="0.9" fill="#2b4a1f"/>
<circle cx="162.8" cy="95.2" r="0.8" fill="#2b4a1f"/>
<circle cx="164.3" cy="87.6" r="0.7" fill="#2b4a1f"/>
<circle cx="162.1" cy="90.4" r="0.7" fill="#2b4a1f"/>
<line x1="173.80" y1="89.00" x2="182.40" y2="89.00" stroke="#2b2b2b" stroke-width="2.0"/>
<path d="M184.80 89.00 L181.90 91.35 L181.90 86.65 Z" fill="#2b2b2b"/>
<rect x="210.60" y="78.20" width="5.00" height="18.80" fill="#cfcfcf" stroke="#a3a3a3" stroke-width="0.4"/>
<rect x="222.00" y="78.20" width="5.00" height="18.80" fill="#cfcfcf" stroke="#a3a3a3" stroke-width="0.4"/>
<rect x="191.90" y="85.20" width="4.45" height="4.20" fill="#9fd6cf"/>
<rect x="196.30" y="85.20" width="4.45" height="4.20" fill="#b9e0dc"/>
<rect x="200.70" y="85.20" width="4.45" height="4.20" fill="#9fd6cf"/>
<rect x="205.10" y="85.20" width="4.45" height="4.20" fill="#e08aa0"/>
<rect x="209.50" y="85.20" width="4.45" height="4.20" fill="#b9e0dc"/>
<rect x="213.90" y="85.20" width="4.45" height="4.20" fill="#9fd6cf"/>
<rect x="218.30" y="85.20" width="4.45" height="4.20" fill="#b9e0dc"/>
<rect x="222.70" y="85.20" width="4.45" height="4.20" fill="#9fd6cf"/>
<rect x="227.10" y="85.20" width="4.45" height="4.20" fill="#e8a7b9"/>
<rect x="231.50" y="85.20" width="4.45" height="4.20" fill="#e08aa0"/>
<rect x="235.90" y="85.20" width="4.45" height="4.20" fill="#c8b6da"/>
<rect x="240.30" y="85.20" width="4.45" height="4.20" fill="#9fd6cf"/>
<circle cx="194.6" cy="87.3" r="0.95" fill="#2a6f97"/>
<circle cx="199.6" cy="87.3" r="0.95" fill="#2a6f97"/>
<circle cx="204.6" cy="87.3" r="0.95" fill="#2a6f97"/>
<circle cx="213.0" cy="87.3" r="0.95" fill="#1a1a1a"/>
<circle cx="218.6" cy="87.3" r="0.95" fill="#2a6f97"/>
<circle cx="224.4" cy="87.3" r="0.95" fill="#2e7d4f"/>
<circle cx="236.2" cy="87.3" r="0.95" fill="#6a3d9a"/>
<circle cx="241.4" cy="87.3" r="0.95" fill="#2a6f97"/>
<line x1="252.20" y1="88.70" x2="260.80" y2="88.70" stroke="#2b2b2b" stroke-width="2.0"/>
<path d="M263.20 88.70 L260.30 91.05 L260.30 86.35 Z" fill="#2b2b2b"/>
<rect x="272.80" y="78.40" width="20.60" height="15.40" fill="#3a3a3a" rx="0.9"/>
<rect x="274.40" y="79.80" width="17.40" height="12.40" fill="#161616"/>
<rect x="279.60" y="82.80" width="6.20" height="4.40" fill="#4a4a4a"/>
<rect x="280.40" y="83.50" width="2.00" height="1.20" fill="#e6e6e6"/>
<rect x="283.00" y="83.50" width="2.00" height="1.20" fill="#cfcfcf"/>
<rect x="280.40" y="85.30" width="4.60" height="0.80" fill="#bdbdbd"/>
<path d="M272.4 93.8 h21.4 l1.5 3.4 q0 1.2 -1.2 1.2 h-22.0 q-1.2 0 -1.2 -1.2 Z" fill="#a9a9a9"/>
<path d="M273.4 94.5 h19.4 l0.8 1.8 h-21.0 Z" fill="#dcdcdc"/>
<line x1="309.60" y1="94.40" x2="317.48" y2="88.45" stroke="#2b2b2b" stroke-width="2.6"/>
<path d="M319.40 87.00 L318.50 90.62 L315.67 86.87 Z" fill="#2b2b2b"/>
<text x="46.80" y="111.70" font-size="9.75" text-anchor="middle" font-weight="normal" font-style="normal" fill="#1c1c1c">Metastases</text>
<text x="46.8" y="123.8" font-size="9.75" text-anchor="middle" fill="#1c1c1c">tissue (<tspan font-style="italic">n</tspan>&#8201;=&#8201;4)</text>
<text x="102.60" y="112.00" font-size="9.75" text-anchor="middle" font-weight="normal" font-style="normal" fill="#1c1c1c">Tissue</text>
<text x="102.60" y="123.40" font-size="9.75" text-anchor="middle" font-weight="normal" font-style="normal" fill="#1c1c1c">dissection</text>
<text x="155.60" y="112.00" font-size="9.75" text-anchor="middle" font-weight="normal" font-style="normal" fill="#1c1c1c">Single cell</text>
<text x="155.60" y="123.40" font-size="9.75" text-anchor="middle" font-weight="normal" font-style="normal" fill="#1c1c1c">collection</text>
<text x="219.00" y="109.80" font-size="9.75" text-anchor="middle" font-weight="normal" font-style="normal" fill="#1c1c1c">Library</text>
<text x="219.00" y="121.60" font-size="9.75" text-anchor="middle" font-weight="normal" font-style="normal" fill="#1c1c1c">construction</text>
<text x="283.00" y="117.00" font-size="9.75" text-anchor="middle" font-weight="normal" font-style="normal" fill="#1c1c1c">Sequencing</text>
<g stroke="none">
<path d="M345.6 51.4 C347.6 48.6 351.6 48.8 354.0 50.6 C357.0 52.8 358.6 57.0 357.6 60.6 C357.0 63.0 355.4 64.8 353.2 64.6 C351.4 64.4 350.6 62.6 349.8 61.0 C348.8 59.4 347.2 58.8 346.2 57.6 C345.0 56.0 344.8 53.0 345.6 51.4 Z" fill="#c08c35"/>
<path d="M336.0 65.6 C336.6 62.6 340.0 61.0 343.6 61.4 C347.0 61.6 350.0 63.2 352.0 65.4 C353.6 67.0 354.2 69.0 353.0 70.0 C350.6 70.6 347.6 70.6 345.6 71.6 C343.6 72.8 341.6 73.6 339.6 72.6 C337.0 71.4 335.4 68.4 336.0 65.6 Z" fill="#f06a6a"/>
<path d="M344.0 73.6 C345.6 71.0 349.6 70.4 352.4 71.4 C355.0 72.4 355.6 75.4 354.6 78.0 C353.6 80.6 350.6 82.2 347.6 81.8 C345.0 81.4 343.2 79.6 343.2 77.2 C343.2 75.8 343.4 74.6 344.0 73.6 Z" fill="#55a855"/>
<path d="M358.0 66.6 C359.6 64.6 362.6 65.0 364.6 64.0 C366.0 62.8 367.6 62.6 368.2 64.0 C368.8 66.6 368.4 70.0 367.0 71.6 C365.0 73.4 361.6 73.0 359.6 71.6 C357.8 70.4 357.2 68.0 358.0 66.6 Z" fill="#b0963c"/>
<circle cx="366.2" cy="62.2" r="1.1" fill="#4a9a4a"/>
<circle cx="337.6" cy="55.0" r="1.0" fill="#6aa84f"/>
<circle cx="337.0" cy="57.2" r="0.7" fill="#c08c35"/>
<circle cx="342.2" cy="54.0" r="0.8" fill="#5a7fb8"/>
<circle cx="340.6" cy="72.8" r="1.0" fill="#3a8a8a"/>
<circle cx="336.4" cy="72.2" r="0.8" fill="#55a855"/>
<circle cx="339.4" cy="77.4" r="1.0" fill="#2aa0b8"/>
<circle cx="339.8" cy="79.2" r="0.7" fill="#2aa0b8"/>
<circle cx="358.6" cy="73.4" r="0.9" fill="#2aa0b8"/>
<circle cx="358.9" cy="75.4" r="0.7" fill="#2aa0b8"/>
<circle cx="359.8" cy="80.4" r="1.2" fill="#3aa87a"/>
<circle cx="361.0" cy="79.2" r="0.7" fill="#2aa0b8"/>
<circle cx="355.3" cy="85.6" r="0.7" fill="#e88aa0"/>
<circle cx="337.2" cy="83.8" r="0.7" fill="#bdbdc4"/>
<circle cx="346.4" cy="81.8" r="0.7" fill="#55a855"/>
<circle cx="355.6" cy="66.6" r="0.8" fill="#f4b8a8"/>
</g>
<defs><clipPath id="fl"><rect x="381.2" y="51.6" width="38.8" height="29.0" rx="0.8"/></clipPath><filter id="b1" x="-5%" y="-5%" width="110%" height="110%"><feGaussianBlur stdDeviation="0.35"/></filter></defs>
<g filter="url(#b1)"><g clip-path="url(#fl)">
<rect x="381.20" y="51.60" width="38.80" height="29.00" fill="#2d2a24"/>
<circle cx="389.7" cy="63.4" r="1.04" fill="#463a30"/>
<circle cx="415.0" cy="69.1" r="1.74" fill="#3a3a2a"/>
<circle cx="415.1" cy="74.0" r="1.08" fill="#40342c"/>
<circle cx="407.6" cy="66.9" r="1.74" fill="#36402c"/>
<circle cx="386.3" cy="55.6" r="1.13" fill="#36402c"/>
<circle cx="387.2" cy="65.9" r="1.48" fill="#3a3a2a"/>
<circle cx="415.5" cy="71.6" r="1.50" fill="#2f3a28"/>
<circle cx="402.0" cy="76.0" r="1.02" fill="#3a3a2a"/>
<circle cx="393.9" cy="71.5" r="1.73" fill="#36402c"/>
<circle cx="413.1" cy="62.7" r="2.20" fill="#36402c"/>
<circle cx="407.0" cy="57.3" r="1.69" fill="#40342c"/>
<circle cx="383.1" cy="69.1" r="1.93" fill="#40342c"/>
<circle cx="385.5" cy="65.7" r="0.85" fill="#2f3a28"/>
<circle cx="408.6" cy="69.5" r="0.93" fill="#40342c"/>
<circle cx="406.4" cy="61.8" r="1.58" fill="#463a30"/>
<circle cx="415.8" cy="60.2" r="1.39" fill="#40342c"/>
<circle cx="402.5" cy="75.1" r="1.30" fill="#40342c"/>
<circle cx="400.3" cy="61.5" r="2.02" fill="#40342c"/>
<circle cx="394.8" cy="58.0" r="1.91" fill="#36402c"/>
<circle cx="394.2" cy="61.1" r="0.98" fill="#40342c"/>
<circle cx="418.0" cy="54.8" r="1.36" fill="#3a3a2a"/>
<circle cx="402.5" cy="63.5" r="0.87" fill="#463a30"/>
<circle cx="393.1" cy="52.6" r="1.95" fill="#2f3a28"/>
<circle cx="399.6" cy="73.4" r="1.90" fill="#3a3a2a"/>
<circle cx="415.7" cy="69.2" r="1.01" fill="#463a30"/>
<circle cx="406.9" cy="71.3" r="1.10" fill="#3a3a2a"/>
<circle cx="406.7" cy="64.9" r="0.94" fill="#2f3a28"/>
<circle cx="388.7" cy="53.4" r="2.08" fill="#3a3a2a"/>
<circle cx="406.3" cy="62.5" r="1.90" fill="#2f3a28"/>
<circle cx="402.8" cy="59.5" r="1.06" fill="#40342c"/>
<circle cx="383.3" cy="53.0" r="1.70" fill="#463a30"/>
<circle cx="416.6" cy="53.9" r="1.53" fill="#463a30"/>
<circle cx="412.5" cy="73.6" r="1.61" fill="#36402c"/>
<circle cx="416.0" cy="64.6" r="1.75" fill="#3a3a2a"/>
<circle cx="404.0" cy="79.6" r="1.47" fill="#2f3a28"/>
<circle cx="397.3" cy="55.2" r="1.10" fill="#36402c"/>
<circle cx="387.6" cy="52.8" r="0.81" fill="#3a3a2a"/>
<circle cx="406.8" cy="79.4" r="1.11" fill="#3a3a2a"/>
<circle cx="386.5" cy="65.3" r="1.81" fill="#40342c"/>
<circle cx="391.0" cy="72.5" r="2.09" fill="#2f3a28"/>
<circle cx="395.5" cy="72.9" r="1.82" fill="#2f3a28"/>
<circle cx="385.1" cy="69.6" r="1.44" fill="#36402c"/>
<circle cx="416.5" cy="59.4" r="1.80" fill="#3a3a2a"/>
<circle cx="382.4" cy="52.8" r="0.91" fill="#463a30"/>
<circle cx="393.5" cy="72.4" r="2.14" fill="#2f3a28"/>
<circle cx="412.9" cy="69.1" r="1.31" fill="#40342c"/>
<circle cx="403.3" cy="64.4" r="1.00" fill="#2f3a28"/>
<circle cx="411.5" cy="62.4" r="1.68" fill="#2f3a28"/>
<circle cx="397.5" cy="63.0" r="2.12" fill="#36402c"/>
<circle cx="411.0" cy="67.9" r="1.19" fill="#40342c"/>
<circle cx="405.0" cy="70.2" r="1.26" fill="#463a30"/>
<circle cx="404.4" cy="79.2" r="1.64" fill="#2f3a28"/>
<circle cx="393.4" cy="64.1" r="1.33" fill="#2f3a28"/>
<circle cx="407.3" cy="68.9" r="1.93" fill="#2f3a28"/>
<circle cx="392.5" cy="52.4" r="1.18" fill="#40342c"/>
<circle cx="387.8" cy="77.6" r="1.20" fill="#3a3a2a"/>
<circle cx="387.2" cy="76.8" r="1.01" fill="#463a30"/>
<circle cx="418.1" cy="74.2" r="1.76" fill="#463a30"/>
<circle cx="415.8" cy="61.9" r="1.56" fill="#3a3a2a"/>
<circle cx="399.9" cy="62.9" r="1.23" fill="#2f3a28"/>
<circle cx="384.1" cy="63.2" r="2.10" fill="#2f3a28"/>
<circle cx="403.7" cy="52.7" r="1.44" fill="#36402c"/>
<circle cx="385.2" cy="74.5" r="1.13" fill="#3a3a2a"/>
<circle cx="403.4" cy="77.0" r="1.25" fill="#463a30"/>
<circle cx="400.7" cy="57.9" r="1.07" fill="#2f3a28"/>
<circle cx="388.7" cy="71.6" r="1.61" fill="#40342c"/>
<circle cx="395.3" cy="73.8" r="1.14" fill="#2f3a28"/>
<circle cx="416.1" cy="65.9" r="1.32" fill="#3a3a2a"/>
<circle cx="399.1" cy="54.6" r="1.64" fill="#40342c"/>
<circle cx="394.8" cy="66.6" r="0.93" fill="#3a3a2a"/>
<circle cx="389.6" cy="77.3" r="0.59" fill="#7a3060"/>
<circle cx="389.9" cy="78.4" r="0.51" fill="#5a2a44"/>
<circle cx="417.0" cy="75.2" r="0.43" fill="#6a2a50"/>
<circle cx="383.4" cy="61.3" r="0.49" fill="#6a2a50"/>
<circle cx="383.0" cy="55.0" r="0.74" fill="#4a5a30"/>
<circle cx="399.0" cy="78.8" r="0.73" fill="#8f3a6e"/>
<circle cx="405.7" cy="78.3" r="0.43" fill="#8f3a6e"/>
<circle cx="402.9" cy="72.5" r="0.39" fill="#556a36"/>
<circle cx="413.4" cy="66.1" r="0.80" fill="#a04a7a"/>
<circle cx="390.2" cy="55.2" r="0.77" fill="#5a2a44"/>
<circle cx="384.2" cy="70.5" r="0.72" fill="#7a2f5f"/>
<circle cx="383.7" cy="75.6" r="0.33" fill="#7a3060"/>
<circle cx="387.4" cy="74.9" r="0.64" fill="#a04a7a"/>
<circle cx="393.1" cy="71.4" r="0.54" fill="#8f3a6e"/>
<circle cx="395.8" cy="66.6" r="0.54" fill="#4a5a30"/>
<circle cx="388.2" cy="62.4" r="0.76" fill="#6a2a50"/>
<circle cx="415.0" cy="68.5" r="0.70" fill="#a04a7a"/>
<circle cx="387.8" cy="76.5" r="0.77" fill="#8f3a6e"/>
<circle cx="414.1" cy="77.6" r="0.69" fill="#6a2a50"/>
<circle cx="417.4" cy="78.4" r="0.72" fill="#556a36"/>
<circle cx="405.2" cy="68.1" r="0.46" fill="#4a5a30"/>
<circle cx="390.7" cy="58.5" r="0.37" fill="#4a5a30"/>
<circle cx="390.2" cy="56.1" r="0.58" fill="#7a3060"/>
<circle cx="387.4" cy="77.3" r="0.51" fill="#5a2a44"/>
<circle cx="391.1" cy="54.5" r="0.47" fill="#5a2a44"/>
<circle cx="388.2" cy="69.1" r="0.53" fill="#4a5a30"/>
<circle cx="399.9" cy="59.8" r="0.62" fill="#7a2f5f"/>
<circle cx="411.1" cy="78.3" r="0.72" fill="#7a3060"/>
<circle cx="386.4" cy="74.9" r="0.52" fill="#4a5a30"/>
<circle cx="391.7" cy="62.5" r="0.35" fill="#a04a7a"/>
<circle cx="392.7" cy="77.8" r="0.72" fill="#7a2f5f"/>
<circle cx="418.2" cy="59.5" r="0.52" fill="#7a2f5f"/>
<circle cx="400.8" cy="69.5" r="0.30" fill="#7a3060"/>
<circle cx="412.8" cy="69.9" r="0.48" fill="#6a2a50"/>
<circle cx="383.5" cy="67.1" r="0.59" fill="#5a2a44"/>
<circle cx="387.1" cy="60.7" r="0.66" fill="#a04a7a"/>
<circle cx="389.3" cy="57.0" r="0.74" fill="#8f3a6e"/>
<circle cx="409.0" cy="75.0" r="0.40" fill="#6a2a50"/>
<circle cx="404.7" cy="73.9" r="0.59" fill="#a04a7a"/>
<circle cx="389.5" cy="56.5" r="0.72" fill="#556a36"/>
<circle cx="415.9" cy="69.7" r="0.47" fill="#4a5a30"/>
<circle cx="413.2" cy="77.1" r="0.35" fill="#7a3060"/>
<circle cx="397.2" cy="75.1" r="0.74" fill="#6a2a50"/>
<circle cx="391.9" cy="60.8" r="0.32" fill="#4a5a30"/>
<circle cx="408.0" cy="71.0" r="0.48" fill="#7a2f5f"/>
<circle cx="416.5" cy="79.2" r="0.36" fill="#8f3a6e"/>
<circle cx="408.4" cy="76.2" r="0.69" fill="#4a5a30"/>
<circle cx="414.1" cy="71.0" r="0.45" fill="#7a2f5f"/>
<circle cx="386.0" cy="74.4" r="0.56" fill="#7a3060"/>
<circle cx="401.6" cy="70.1" r="0.42" fill="#7a2f5f"/>
<circle cx="385.3" cy="72.0" r="0.35" fill="#6a2a50"/>
<circle cx="391.3" cy="76.2" r="0.31" fill="#7a2f5f"/>
<circle cx="416.3" cy="74.6" r="0.31" fill="#5a2a44"/>
<circle cx="404.2" cy="71.0" r="0.65" fill="#a04a7a"/>
<circle cx="385.8" cy="77.2" r="0.32" fill="#6a2a50"/>
<circle cx="386.6" cy="69.1" r="0.36" fill="#5a2a44"/>
<circle cx="386.5" cy="77.5" r="0.73" fill="#a04a7a"/>
<circle cx="387.4" cy="71.0" r="0.38" fill="#556a36"/>
<circle cx="412.6" cy="78.6" r="0.65" fill="#556a36"/>
<circle cx="404.1" cy="71.6" r="0.50" fill="#7a2f5f"/>
<circle cx="416.8" cy="75.4" r="0.50" fill="#4a5a30"/>
<circle cx="413.0" cy="74.1" r="0.71" fill="#4a5a30"/>
<circle cx="413.4" cy="55.9" r="0.78" fill="#6a2a50"/>
<circle cx="416.6" cy="62.8" r="0.63" fill="#556a36"/>
<circle cx="382.4" cy="58.2" r="0.33" fill="#6a2a50"/>
<circle cx="398.0" cy="69.4" r="0.41" fill="#7a2f5f"/>
<circle cx="397.6" cy="66.8" r="0.62" fill="#7a3060"/>
<circle cx="411.9" cy="77.5" r="0.32" fill="#7a2f5f"/>
<circle cx="405.7" cy="63.2" r="0.61" fill="#5a2a44"/>
<circle cx="411.8" cy="55.1" r="0.43" fill="#8f3a6e"/>
<circle cx="401.3" cy="67.7" r="0.44" fill="#7a2f5f"/>
<circle cx="393.3" cy="72.6" r="0.33" fill="#8f3a6e"/>
<circle cx="417.5" cy="78.3" r="0.34" fill="#5a2a44"/>
<circle cx="403.8" cy="78.5" r="0.36" fill="#7a3060"/>
<circle cx="386.9" cy="64.0" r="0.59" fill="#556a36"/>
<circle cx="392.1" cy="74.5" r="0.72" fill="#5a2a44"/>
<circle cx="404.6" cy="70.9" r="0.40" fill="#556a36"/>
<circle cx="408.3" cy="68.3" r="0.61" fill="#5a2a44"/>
<circle cx="399.4" cy="64.5" r="0.47" fill="#a04a7a"/>
<circle cx="389.0" cy="70.3" r="0.31" fill="#556a36"/>
<circle cx="395.0" cy="77.1" r="0.46" fill="#a04a7a"/>
<circle cx="394.0" cy="63.4" r="0.45" fill="#a04a7a"/>
<circle cx="410.6" cy="59.9" r="0.60" fill="#8f3a6e"/>
<circle cx="394.9" cy="72.8" r="0.72" fill="#556a36"/>
<circle cx="395.1" cy="75.1" r="0.79" fill="#a04a7a"/>
<circle cx="407.1" cy="78.5" r="0.47" fill="#556a36"/>
<circle cx="395.0" cy="73.2" r="0.71" fill="#5a2a44"/>
<circle cx="401.2" cy="74.6" r="0.43" fill="#7a3060"/>
<circle cx="405.3" cy="72.3" r="0.51" fill="#6a2a50"/>
<circle cx="385.8" cy="67.1" r="0.55" fill="#8f3a6e"/>
<circle cx="417.6" cy="70.9" r="0.72" fill="#556a36"/>
<circle cx="392.3" cy="72.0" r="0.49" fill="#8f3a6e"/>
<circle cx="398.7" cy="68.3" r="0.45" fill="#4a5a30"/>
<circle cx="396.5" cy="70.6" r="0.62" fill="#556a36"/>
<circle cx="382.3" cy="74.7" r="0.49" fill="#7a3060"/>
<circle cx="393.1" cy="70.1" r="0.52" fill="#6a2a50"/>
<circle cx="395.9" cy="62.3" r="0.46" fill="#4a5a30"/>
<circle cx="413.2" cy="76.6" r="0.40" fill="#4a5a30"/>
<circle cx="397.8" cy="78.1" r="0.31" fill="#7a2f5f"/>
<circle cx="391.5" cy="77.8" r="0.76" fill="#5a2a44"/>
<circle cx="410.6" cy="70.2" r="0.56" fill="#556a36"/>
<circle cx="401.1" cy="73.4" r="0.53" fill="#556a36"/>
<circle cx="383.5" cy="73.2" r="0.77" fill="#7a3060"/>
<circle cx="407.0" cy="69.9" r="0.50" fill="#8f3a6e"/>
<circle cx="400.5" cy="72.6" r="0.74" fill="#6a2a50"/>
<circle cx="417.7" cy="69.0" r="0.68" fill="#7a3060"/>
<circle cx="415.3" cy="71.3" r="0.39" fill="#8f3a6e"/>
<circle cx="393.8" cy="79.4" r="0.56" fill="#5a2a44"/>
<circle cx="386.1" cy="77.7" r="0.71" fill="#4a5a30"/>
<circle cx="418.6" cy="77.6" r="0.62" fill="#556a36"/>
<circle cx="401.4" cy="76.2" r="0.55" fill="#a04a7a"/>
<circle cx="389.0" cy="60.7" r="0.48" fill="#8f3a6e"/>
<circle cx="418.8" cy="72.4" r="0.65" fill="#7a2f5f"/>
<circle cx="382.4" cy="52.8" r="0.76" fill="#7a2f5f"/>
<circle cx="396.7" cy="57.8" r="0.63" fill="#7a2f5f"/>
<circle cx="389.3" cy="69.2" r="0.74" fill="#5a2a44"/>
<circle cx="415.1" cy="69.6" r="0.59" fill="#6a2a50"/>
<circle cx="397.2" cy="58.7" r="0.56" fill="#6a2a50"/>
<circle cx="400.9" cy="54.7" r="0.39" fill="#8f3a6e"/>
<circle cx="401.3" cy="76.3" r="0.70" fill="#556a36"/>
</g></g>
<line x1="440.40" y1="53.60" x2="440.40" y2="72.90" stroke="#444" stroke-width="0.45"/>
<line x1="440.20" y1="72.90" x2="468.40" y2="72.90" stroke="#444" stroke-width="0.45"/>
<path d="M440.8 54.0 H446.8 L448.4 55.2 L450.2 57.6 L451.8 60.4 L453.2 62.4 L455.2 63.6 L457.0 64.6 L458.8 65.4 L460.4 67.6 L462.4 70.0 L464.4 71.2 L466.4 72.2 L468.6 72.5" fill="none" stroke="#d7263d" stroke-width="0.85"/>
<path d="M440.8 54.0 H441.8 L443.4 55.0 L445.2 56.6 L447.0 58.4 L449.0 60.4 L451.0 62.4 L453.0 64.4 L454.6 66.8 L455.8 69.2 L457.0 71.2 L458.2 72.2 L461.6 72.5" fill="none" stroke="#2b4fb5" stroke-width="0.85"/>
<line x1="439.40" y1="55.00" x2="440.40" y2="55.00" stroke="#777" stroke-width="0.3"/>
<line x1="439.40" y1="59.40" x2="440.40" y2="59.40" stroke="#777" stroke-width="0.3"/>
<line x1="439.40" y1="63.80" x2="440.40" y2="63.80" stroke="#777" stroke-width="0.3"/>
<line x1="439.40" y1="68.20" x2="440.40" y2="68.20" stroke="#777" stroke-width="0.3"/>
<text x="443.40" y="69.60" font-size="1.8" text-anchor="start" font-weight="normal" font-style="normal" fill="#9a9a9a" stroke="#9a9a9a" stroke-width="0.14">median</text>
<line x1="443.20" y1="70.40" x2="450.20" y2="70.40" stroke="#b5b5b5" stroke-width="0.3"/>
<line x1="463.60" y1="55.00" x2="463.60" y2="57.60" stroke="#6aa84f" stroke-width="0.5"/>
<text x="464.40" y="57.60" font-size="1.9" text-anchor="start" font-weight="normal" font-style="normal" fill="#8a8a8a" stroke="#8a8a8a" stroke-width="0.14">Group</text>
<text x="454.40" y="75.60" font-size="1.7" text-anchor="middle" font-weight="normal" font-style="normal" fill="#9a9a9a" stroke="#9a9a9a" stroke-width="0.14">Time (months)</text>
<line x1="433.40" y1="79.70" x2="438.60" y2="79.70" stroke="#d7263d" stroke-width="0.55"/>
<line x1="440.40" y1="79.70" x2="469.40" y2="79.70" stroke="#555" stroke-width="0.4" stroke-dasharray="1.2 0.8"/>
<line x1="441.60" y1="78.90" x2="441.60" y2="80.50" stroke="#444" stroke-width="0.45"/>
<line x1="445.40" y1="78.90" x2="445.40" y2="80.50" stroke="#444" stroke-width="0.45"/>
<line x1="449.20" y1="78.90" x2="449.20" y2="80.50" stroke="#444" stroke-width="0.45"/>
<line x1="453.00" y1="78.90" x2="453.00" y2="80.50" stroke="#444" stroke-width="0.45"/>
<line x1="456.80" y1="78.90" x2="456.80" y2="80.50" stroke="#444" stroke-width="0.45"/>
<line x1="460.60" y1="78.90" x2="460.60" y2="80.50" stroke="#444" stroke-width="0.45"/>
<line x1="464.40" y1="78.90" x2="464.40" y2="80.50" stroke="#444" stroke-width="0.45"/>
<line x1="468.20" y1="78.90" x2="468.20" y2="80.50" stroke="#444" stroke-width="0.45"/>
<text x="400.20" y="99.60" font-size="9.75" text-anchor="middle" font-weight="normal" font-style="normal" fill="#1c1c1c">Prognosis and analysis</text>
</g>
<g id="panelB">
<text x="0.70" y="153.30" font-size="13.3" text-anchor="start" font-weight="bold" font-style="normal" fill="#111">B</text>
<path d="M27.2 147.9 H30.6 V208.1 H27.2" fill="none" stroke="#333" stroke-width="0.8"/>
<text x="26.00" y="149.90" font-size="5.0" text-anchor="end" font-weight="normal" font-style="normal" fill="#222" stroke="#222" stroke-width="0.14">60</text>
<text x="26.00" y="209.80" font-size="5.0" text-anchor="end" font-weight="normal" font-style="normal" fill="#222" stroke="#222" stroke-width="0.14">0</text>
<rect x="33.15" y="185.50" width="5.23" height="22.70" fill="#1f68a9"/>
<rect x="33.15" y="183.20" width="5.23" height="2.30" fill="#b2df8a"/>
<rect x="39.13" y="203.40" width="5.23" height="4.80" fill="#a6cee3"/>
<rect x="39.13" y="195.40" width="5.23" height="8.00" fill="#1f68a9"/>
<rect x="45.11" y="206.20" width="5.23" height="2.00" fill="#1f68a9"/>
<rect x="51.09" y="200.20" width="5.23" height="8.00" fill="#1f68a9"/>
<rect x="57.07" y="199.20" width="5.23" height="9.00" fill="#1f68a9"/>
<rect x="63.05" y="207.00" width="5.23" height="1.20" fill="#a6cee3"/>
<rect x="63.05" y="204.40" width="5.23" height="2.60" fill="#1f68a9"/>
<rect x="69.03" y="207.20" width="5.23" height="1.00" fill="#1f68a9"/>
<rect x="75.01" y="207.20" width="5.23" height="1.00" fill="#1f68a9"/>
<rect x="80.99" y="203.00" width="5.23" height="5.20" fill="#1f68a9"/>
<rect x="86.97" y="203.80" width="5.23" height="4.40" fill="#1f68a9"/>
<rect x="92.95" y="207.20" width="5.23" height="1.00" fill="#1f68a9"/>
<rect x="98.93" y="186.20" width="5.23" height="22.00" fill="#a6cee3"/>
<rect x="98.93" y="149.20" width="5.23" height="37.00" fill="#1f68a9"/>
<rect x="104.91" y="206.20" width="5.23" height="2.00" fill="#a6cee3"/>
<rect x="104.91" y="200.20" width="5.23" height="6.00" fill="#f58220"/>
<rect x="104.91" y="191.20" width="5.23" height="9.00" fill="#1f68a9"/>
<rect x="110.89" y="207.20" width="5.23" height="1.00" fill="#a6cee3"/>
<rect x="110.89" y="187.70" width="5.23" height="19.50" fill="#1f68a9"/>
<rect x="116.87" y="201.20" width="5.23" height="7.00" fill="#a6cee3"/>
<rect x="116.87" y="199.20" width="5.23" height="2.00" fill="#f58220"/>
<rect x="116.87" y="166.70" width="5.23" height="32.50" fill="#1f68a9"/>
<rect x="116.87" y="164.20" width="5.23" height="2.50" fill="#b2df8a"/>
<rect x="122.85" y="205.20" width="5.23" height="3.00" fill="#1f68a9"/>
<rect x="128.83" y="199.70" width="5.23" height="8.50" fill="#a6cee3"/>
<rect x="128.83" y="197.90" width="5.23" height="1.80" fill="#f58220"/>
<rect x="128.83" y="196.70" width="5.23" height="1.20" fill="#d7191c"/>
<rect x="128.83" y="167.20" width="5.23" height="29.50" fill="#1f68a9"/>
<rect x="134.81" y="200.20" width="5.23" height="8.00" fill="#1f68a9"/>
<rect x="140.79" y="204.20" width="5.23" height="4.00" fill="#1f68a9"/>
<rect x="146.77" y="200.20" width="5.23" height="8.00" fill="#1f68a9"/>
<rect x="152.75" y="207.20" width="5.23" height="1.00" fill="#f58220"/>
<rect x="152.75" y="202.20" width="5.23" height="5.00" fill="#1f68a9"/>
<rect x="158.73" y="194.70" width="5.23" height="13.50" fill="#a6cee3"/>
<rect x="158.73" y="190.20" width="5.23" height="4.50" fill="#f58220"/>
<rect x="158.73" y="189.00" width="5.23" height="1.20" fill="#d7191c"/>
<rect x="158.73" y="163.50" width="5.23" height="25.50" fill="#1f68a9"/>
<rect x="158.73" y="161.50" width="5.23" height="2.00" fill="#b2df8a"/>
<rect x="164.71" y="199.70" width="5.23" height="8.50" fill="#a6cee3"/>
<rect x="164.71" y="197.20" width="5.23" height="2.50" fill="#d7191c"/>
<rect x="164.71" y="172.70" width="5.23" height="24.50" fill="#1f68a9"/>
<rect x="170.69" y="207.20" width="5.23" height="1.00" fill="#fb9a99"/>
<rect x="176.67" y="205.70" width="5.23" height="2.50" fill="#a6cee3"/>
<rect x="176.67" y="203.20" width="5.23" height="2.50" fill="#1f68a9"/>
<rect x="182.65" y="206.70" width="5.23" height="1.50" fill="#a6cee3"/>
<rect x="182.65" y="203.20" width="5.23" height="3.50" fill="#1f68a9"/>
<rect x="188.63" y="205.20" width="5.23" height="3.00" fill="#a6cee3"/>
<rect x="188.63" y="204.00" width="5.23" height="1.20" fill="#f58220"/>
<rect x="188.63" y="191.50" width="5.23" height="12.50" fill="#1f68a9"/>
<rect x="188.63" y="189.70" width="5.23" height="1.80" fill="#b2df8a"/>
<rect x="194.61" y="204.20" width="5.23" height="4.00" fill="#1f68a9"/>
<rect x="200.59" y="203.20" width="5.23" height="5.00" fill="#1f68a9"/>
<rect x="206.57" y="202.70" width="5.23" height="5.50" fill="#1f68a9"/>
<rect x="206.57" y="202.20" width="5.23" height="0.50" fill="#b2df8a"/>
<rect x="32.80" y="212.20" width="179.50" height="234.81" fill="#ebebeb"/>
<rect x="33.03" y="212.43" width="5.52" height="4.33" fill="#1f68a9"/>
<rect x="39.01" y="212.43" width="5.52" height="4.33" fill="#a6cee3"/>
<rect x="44.99" y="212.43" width="5.52" height="4.33" fill="#1f68a9"/>
<rect x="50.97" y="212.43" width="5.52" height="4.33" fill="#1f68a9"/>
<rect x="56.95" y="212.43" width="5.52" height="4.33" fill="#1f68a9"/>
<rect x="62.93" y="212.43" width="5.52" height="4.33" fill="#d5d5d5"/>
<rect x="68.91" y="212.43" width="5.52" height="4.33" fill="#d5d5d5"/>
<rect x="74.89" y="212.43" width="5.52" height="4.33" fill="#d5d5d5"/>
<rect x="80.87" y="212.43" width="5.52" height="4.33" fill="#1f68a9"/>
<rect x="86.85" y="212.43" width="5.52" height="4.33" fill="#b2df8a"/>
<rect x="92.83" y="212.43" width="5.52" height="4.33" fill="#d5d5d5"/>
<rect x="98.81" y="212.43" width="5.52" height="4.33" fill="#d5d5d5"/>
<rect x="104.79" y="212.43" width="5.52" height="4.33" fill="#d5d5d5"/>
<rect x="110.77" y="212.43" width="5.52" height="4.33" fill="#d5d5d5"/>
<rect x="116.75" y="212.43" width="5.52" height="4.33" fill="#d5d5d5"/>
<rect x="122.73" y="212.43" width="5.52" height="4.33" fill="#d5d5d5"/>
<rect x="128.71" y="212.43" width="5.52" height="4.33" fill="#d5d5d5"/>
<rect x="134.69" y="212.43" width="5.52" height="4.33" fill="#d5d5d5"/>
<rect x="140.67" y="212.43" width="5.52" height="4.33" fill="#d5d5d5"/>
<rect x="146.65" y="212.43" width="5.52" height="4.33" fill="#d5d5d5"/>
<rect x="152.63" y="212.43" width="5.52" height="4.33" fill="#d5d5d5"/>
<rect x="158.61" y="212.43" width="5.52" height="4.33" fill="#b2df8a"/>
<rect x="164.59" y="212.43" width="5.52" height="4.33" fill="#b2df8a"/>
<rect x="170.57" y="212.43" width="5.52" height="4.33" fill="#fb9a99"/>
<rect x="176.55" y="212.43" width="5.52" height="4.33" fill="#a6cee3"/>
<rect x="182.53" y="212.43" width="5.52" height="4.33" fill="#1f68a9"/>
<rect x="188.51" y="212.43" width="5.52" height="4.33" fill="#a6cee3"/>
<rect x="194.49" y="212.43" width="5.52" height="4.33" fill="#d5d5d5"/>
<rect x="200.47" y="212.43" width="5.52" height="4.33" fill="#d5d5d5"/>
<rect x="206.45" y="212.43" width="5.52" height="4.33" fill="#d5d5d5"/>
<rect x="33.03" y="217.22" width="5.52" height="4.33" fill="#b2df8a"/>
<rect x="39.01" y="217.22" width="5.52" height="4.33" fill="#a6cee3"/>
<rect x="44.99" y="217.22" width="5.52" height="4.33" fill="#d5d5d5"/>
<rect x="50.97" y="217.22" width="5.52" height="4.33" fill="#d5d5d5"/>
<rect x="56.95" y="217.22" width="5.52" height="4.33" fill="#d5d5d5"/>
<rect x="62.93" y="217.22" width="5.52" height="4.33" fill="#d5d5d5"/>
<rect x="68.91" y="217.22" width="5.52" height="4.33" fill="#d5d5d5"/>
<rect x="74.89" y="217.22" width="5.52" height="4.33" fill="#d5d5d5"/>
<rect x="80.87" y="217.22" width="5.52" height="4.33" fill="#d5d5d5"/>
<rect x="86.85" y="217.22" width="5.52" height="4.33" fill="#d5d5d5"/>
<rect x="92.83" y="217.22" width="5.52" height="4.33" fill="#d5d5d5"/>
<rect x="98.81" y="217.22" width="5.52" height="4.33" fill="#2f9a3a"/>
<rect x="104.79" y="217.22" width="5.52" height="4.33" fill="#1f68a9"/>
<rect x="110.77" y="217.22" width="5.52" height="4.33" fill="#2f9a3a"/>
<rect x="116.75" y="217.22" width="5.52" height="4.33" fill="#d5d5d5"/>
<rect x="122.73" y="217.22" width="5.52" height="4.33" fill="#d5d5d5"/>
<rect x="128.71" y="217.22" width="5.52" height="4.33" fill="#d5d5d5"/>
<rect x="134.69" y="217.22" width="5.52" height="4.33" fill="#d5d5d5"/>
<rect x="140.67" y="217.22" width="5.52" height="4.33" fill="#d5d5d5"/>
<rect x="146.65" y="217.22" width="5.52" height="4.33" fill="#d5d5d5"/>
<rect x="152.63" y="217.22" width="5.52" height="4.33" fill="#d5d5d5"/>
<rect x="158.61" y="217.22" width="5.52" height="4.33" fill="#1f68a9"/>
<rect x="164.59" y="217.22" width="5.52" height="4.33" fill="#1f68a9"/>
<rect x="170.57" y="217.22" width="5.52" height="4.33" fill="#b2df8a"/>
<rect x="176.55" y="217.22" width="5.52" height="4.33" fill="#d5d5d5"/>
<rect x="182.53" y="217.22" width="5.52" height="4.33" fill="#d5d5d5"/>
<rect x="188.51" y="217.22" width="5.52" height="4.33" fill="#d5d5d5"/>
<rect x="194.49" y="217.22" width="5.52" height="4.33" fill="#d5d5d5"/>
<rect x="200.47" y="217.22" width="5.52" height="4.33" fill="#d5d5d5"/>
<rect x="206.45" y="217.22" width="5.52" height="4.33" fill="#d5d5d5"/>
<rect x="33.03" y="222.01" width="5.52" height="4.33" fill="#d5d5d5"/>
<rect x="39.01" y="222.01" width="5.52" height="4.33" fill="#d5d5d5"/>
<rect x="44.99" y="222.01" width="5.52" height="4.33" fill="#d5d5d5"/>
<rect x="50.97" y="222.01" width="5.52" height="4.33" fill="#d5d5d5"/>
<rect x="56.95" y="222.01" width="5.52" height="4.33" fill="#d5d5d5"/>
<rect x="62.93" y="222.01" width="5.52" height="4.33" fill="#d5d5d5"/>
<rect x="68.91" y="222.01" width="5.52" height="4.33" fill="#d5d5d5"/>
<rect x="74.89" y="222.01" width="5.52" height="4.33" fill="#d5d5d5"/>
<rect x="80.87" y="222.01" width="5.52" height="4.33" fill="#d5d5d5"/>
<rect x="86.85" y="222.01" width="5.52" height="4.33" fill="#d5d5d5"/>
<rect x="92.83" y="222.01" width="5.52" height="4.33" fill="#d5d5d5"/>
<rect x="98.81" y="222.01" width="5.52" height="4.33" fill="#2f9a3a"/>
<rect x="104.79" y="222.01" width="5.52" height="4.33" fill="#d5d5d5"/>
<rect x="110.77" y="222.01" width="5.52" height="4.33" fill="#d5d5d5"/>
<rect x="116.75" y="222.01" width="5.52" height="4.33" fill="#1f68a9"/>
<rect x="122.73" y="222.01" width="5.52" height="4.33" fill="#1f68a9"/>
<rect x="128.71" y="222.01" width="5.52" height="4.33" fill="#d5d5d5"/>
<rect x="134.69" y="222.01" width="5.52" height="4.33" fill="#d5d5d5"/>
<rect x="140.67" y="222.01" width="5.52" height="4.33" fill="#d5d5d5"/>
<rect x="146.65" y="222.01" width="5.52" height="4.33" fill="#d5d5d5"/>
<rect x="152.63" y="222.01" width="5.52" height="4.33" fill="#d5d5d5"/>
<rect x="158.61" y="222.01" width="5.52" height="4.33" fill="#2f9a3a"/>
<rect x="164.59" y="222.01" width="5.52" height="4.33" fill="#1f68a9"/>
<rect x="170.57" y="222.01" width="5.52" height="4.33" fill="#d5d5d5"/>
<rect x="176.55" y="222.01" width="5.52" height="4.33" fill="#1f68a9"/>
<rect x="182.53" y="222.01" width="5.52" height="4.33" fill="#d5d5d5"/>
<rect x="188.51" y="222.01" width="5.52" height="4.33" fill="#d5d5d5"/>
<rect x="194.49" y="222.01" width="5.52" height="4.33" fill="#d5d5d5"/>
<rect x="200.47" y="222.01" width="5.52" height="4.33" fill="#d5d5d5"/>
<rect x="206.45" y="222.01" width="5.52" height="4.33" fill="#d5d5d5"/>
<rect x="33.03" y="226.80" width="5.52" height="4.33" fill="#1f68a9"/>
<rect x="39.01" y="226.80" width="5.52" height="4.33" fill="#d5d5d5"/>
<rect x="44.99" y="226.80" width="5.52" height="4.33" fill="#1f68a9"/>
<rect x="50.97" y="226.80" width="5.52" height="4.33" fill="#d5d5d5"/>
<rect x="56.95" y="226.80" width="5.52" height="4.33" fill="#d5d5d5"/>
<rect x="62.93" y="226.80" width="5.52" height="4.33" fill="#d5d5d5"/>
<rect x="68.91" y="226.80" width="5.52" height="4.33" fill="#d5d5d5"/>
<rect x="74.89" y="226.80" width="5.52" height="4.33" fill="#d5d5d5"/>
<rect x="80.87" y="226.80" width="5.52" height="4.33" fill="#d5d5d5"/>
<rect x="86.85" y="226.80" width="5.52" height="4.33" fill="#d5d5d5"/>
<rect x="92.83" y="226.80" width="5.52" height="4.33" fill="#d5d5d5"/>
<rect x="98.81" y="226.80" width="5.52" height="4.33" fill="#b2df8a"/>
<rect x="104.79" y="226.80" width="5.52" height="4.33" fill="#d5d5d5"/>
<rect x="110.77" y="226.80" width="5.52" height="4.33" fill="#1f68a9"/>
<rect x="116.75" y="226.80" width="5.52" height="4.33" fill="#7b68ae"/>
<rect x="122.73" y="226.80" width="5.52" height="4.33" fill="#d5d5d5"/>
<rect x="128.71" y="226.80" width="5.52" height="4.33" fill="#d5d5d5"/>
<rect x="134.69" y="226.80" width="5.52" height="4.33" fill="#d5d5d5"/>
<rect x="140.67" y="226.80" width="5.52" height="4.33" fill="#d5d5d5"/>
<rect x="146.65" y="226.80" width="5.52" height="4.33" fill="#d5d5d5"/>
<rect x="152.63" y="226.80" width="5.52" height="4.33" fill="#d5d5d5"/>
<rect x="158.61" y="226.80" width="5.52" height="4.33" fill="#d5d5d5"/>
<rect x="164.59" y="226.80" width="5.52" height="4.33" fill="#7b68ae"/>
<rect x="170.57" y="226.80" width="5.52" height="4.33" fill="#d5d5d5"/>
<rect x="176.55" y="226.80" width="5.52" height="4.33" fill="#d5d5d5"/>
<rect x="182.53" y="226.80" width="5.52" height="4.33" fill="#d5d5d5"/>
<rect x="188.51" y="226.80" width="5.52" height="4.33" fill="#d5d5d5"/>
<rect x="194.49" y="226.80" width="5.52" height="4.33" fill="#d5d5d5"/>
<rect x="200.47" y="226.80" width="5.52" height="4.33" fill="#d5d5d5"/>
<rect x="206.45" y="226.80" width="5.52" height="4.33" fill="#d5d5d5"/>
<rect x="33.03" y="231.59" width="5.52" height="4.33" fill="#d5d5d5"/>
<rect x="39.01" y="231.59" width="5.52" height="4.33" fill="#d5d5d5"/>
<rect x="44.99" y="231.59" width="5.52" height="4.33" fill="#d5d5d5"/>
<rect x="50.97" y="231.59" width="5.52" height="4.33" fill="#d5d5d5"/>
<rect x="56.95" y="231.59" width="5.52" height="4.33" fill="#d5d5d5"/>
<rect x="62.93" y="231.59" width="5.52" height="4.33" fill="#d5d5d5"/>
<rect x="68.91" y="231.59" width="5.52" height="4.33" fill="#d5d5d5"/>
<rect x="74.89" y="231.59" width="5.52" height="4.33" fill="#d5d5d5"/>
<rect x="80.87" y="231.59" width="5.52" height="4.33" fill="#d5d5d5"/>
<rect x="86.85" y="231.59" width="5.52" height="4.33" fill="#d5d5d5"/>
<rect x="92.83" y="231.59" width="5.52" height="4.33" fill="#d5d5d5"/>
<rect x="98.81" y="231.59" width="5.52" height="4.33" fill="#1f68a9"/>
<rect x="104.79" y="231.59" width="5.52" height="4.33" fill="#d5d5d5"/>
<rect x="110.77" y="231.59" width="5.52" height="4.33" fill="#d5d5d5"/>
<rect x="116.75" y="231.59" width="5.52" height="4.33" fill="#1f68a9"/>
<rect x="122.73" y="231.59" width="5.52" height="4.33" fill="#d5d5d5"/>
<rect x="128.71" y="231.59" width="5.52" height="4.33" fill="#1f68a9"/>
<rect x="134.69" y="231.59" width="5.52" height="4.33" fill="#d5d5d5"/>
<rect x="140.67" y="231.59" width="5.52" height="4.33" fill="#d5d5d5"/>
<rect x="146.65" y="231.59" width="5.52" height="4.33" fill="#d5d5d5"/>
<rect x="152.63" y="231.59" width="5.52" height="4.33" fill="#d5d5d5"/>
<rect x="158.61" y="231.59" width="5.52" height="4.33" fill="#1f68a9"/>
<rect x="164.59" y="231.59" width="5.52" height="4.33" fill="#7b68ae"/>
<rect x="170.57" y="231.59" width="5.52" height="4.33" fill="#d5d5d5"/>
<rect x="176.55" y="231.59" width="5.52" height="4.33" fill="#d5d5d5"/>
<rect x="182.53" y="231.59" width="5.52" height="4.33" fill="#d5d5d5"/>
<rect x="188.51" y="231.59" width="5.52" height="4.33" fill="#d5d5d5"/>
<rect x="194.49" y="231.59" width="5.52" height="4.33" fill="#d5d5d5"/>
<rect x="200.47" y="231.59" width="5.52" height="4.33" fill="#d5d5d5"/>
<rect x="206.45" y="231.59" width="5.52" height="4.33" fill="#d5d5d5"/>
<rect x="33.03" y="236.38" width="5.52" height="4.33" fill="#d5d5d5"/>
<rect x="39.01" y="236.38" width="5.52" height="4.33" fill="#d5d5d5"/>
<rect x="44.99" y="236.38" width="5.52" height="4.33" fill="#d5d5d5"/>
<rect x="50.97" y="236.38" width="5.52" height="4.33" fill="#d5d5d5"/>
<rect x="56.95" y="236.38" width="5.52" height="4.33" fill="#d5d5d5"/>
<rect x="62.93" y="236.38" width="5.52" height="4.33" fill="#d5d5d5"/>
<rect x="68.91" y="236.38" width="5.52" height="4.33" fill="#d5d5d5"/>
<rect x="74.89" y="236.38" width="5.52" height="4.33" fill="#d5d5d5"/>
<rect x="80.87" y="236.38" width="5.52" height="4.33" fill="#d5d5d5"/>
<rect x="86.85" y="236.38" width="5.52" height="4.33" fill="#d5d5d5"/>
<rect x="92.83" y="236.38" width="5.52" height="4.33" fill="#d5d5d5"/>
<rect x="98.81" y="236.38" width="5.52" height="4.33" fill="#a6cee3"/>
<rect x="104.79" y="236.38" width="5.52" height="4.33" fill="#a6cee3"/>
<rect x="110.77" y="236.38" width="5.52" height="4.33" fill="#1f68a9"/>
<rect x="116.75" y="236.38" width="5.52" height="4.33" fill="#d5d5d5"/>
<rect x="122.73" y="236.38" width="5.52" height="4.33" fill="#d5d5d5"/>
<rect x="128.71" y="236.38" width="5.52" height="4.33" fill="#d5d5d5"/>
<rect x="134.69" y="236.38" width="5.52" height="4.33" fill="#d5d5d5"/>
<rect x="140.67" y="236.38" width="5.52" height="4.33" fill="#d5d5d5"/>
<rect x="146.65" y="236.38" width="5.52" height="4.33" fill="#d5d5d5"/>
<rect x="152.63" y="236.38" width="5.52" height="4.33" fill="#d5d5d5"/>
<rect x="158.61" y="236.38" width="5.52" height="4.33" fill="#a6cee3"/>
<rect x="164.59" y="236.38" width="5.52" height="4.33" fill="#d5d5d5"/>
<rect x="170.57" y="236.38" width="5.52" height="4.33" fill="#d5d5d5"/>
<rect x="176.55" y="236.38" width="5.52" height="4.33" fill="#d5d5d5"/>
<rect x="182.53" y="236.38" width="5.52" height="4.33" fill="#d5d5d5"/>
<rect x="188.51" y="236.38" width="5.52" height="4.33" fill="#d5d5d5"/>
<rect x="194.49" y="236.38" width="5.52" height="4.33" fill="#d5d5d5"/>
<rect x="200.47" y="236.38" width="5.52" height="4.33" fill="#d5d5d5"/>
<rect x="206.45" y="236.38" width="5.52" height="4.33" fill="#d5d5d5"/>
<rect x="33.03" y="241.17" width="5.52" height="4.33" fill="#d5d5d5"/>
<rect x="39.01" y="241.17" width="5.52" height="4.33" fill="#d5d5d5"/>
<rect x="44.99" y="241.17" width="5.52" height="4.33" fill="#d5d5d5"/>
<rect x="50.97" y="241.17" width="5.52" height="4.33" fill="#d5d5d5"/>
<rect x="56.95" y="241.17" width="5.52" height="4.33" fill="#d5d5d5"/>
<rect x="62.93" y="241.17" width="5.52" height="4.33" fill="#d5d5d5"/>
<rect x="68.91" y="241.17" width="5.52" height="4.33" fill="#d5d5d5"/>
<rect x="74.89" y="241.17" width="5.52" height="4.33" fill="#d5d5d5"/>
<rect x="80.87" y="241.17" width="5.52" height="4.33" fill="#d5d5d5"/>
<rect x="86.85" y="241.17" width="5.52" height="4.33" fill="#d5d5d5"/>
<rect x="92.83" y="241.17" width="5.52" height="4.33" fill="#d5d5d5"/>
<rect x="98.81" y="241.17" width="5.52" height="4.33" fill="#2f9a3a"/>
<rect x="104.79" y="241.17" width="5.52" height="4.33" fill="#d5d5d5"/>
<rect x="110.77" y="241.17" width="5.52" height="4.33" fill="#d5d5d5"/>
<rect x="116.75" y="241.17" width="5.52" height="4.33" fill="#a6cee3"/>
<rect x="122.73" y="241.17" width="5.52" height="4.33" fill="#d5d5d5"/>
<rect x="128.71" y="241.17" width="5.52" height="4.33" fill="#d5d5d5"/>
<rect x="134.69" y="241.17" width="5.52" height="4.33" fill="#d5d5d5"/>
<rect x="140.67" y="241.17" width="5.52" height="4.33" fill="#d5d5d5"/>
<rect x="146.65" y="241.17" width="5.52" height="4.33" fill="#d5d5d5"/>
<rect x="152.63" y="241.17" width="5.52" height="4.33" fill="#d5d5d5"/>
<rect x="158.61" y="241.17" width="5.52" height="4.33" fill="#1f68a9"/>
<rect x="164.59" y="241.17" width="5.52" height="4.33" fill="#d5d5d5"/>
<rect x="170.57" y="241.17" width="5.52" height="4.33" fill="#d5d5d5"/>
<rect x="176.55" y="241.17" width="5.52" height="4.33" fill="#d5d5d5"/>
<rect x="182.53" y="241.17" width="5.52" height="4.33" fill="#d5d5d5"/>
<rect x="188.51" y="241.17" width="5.52" height="4.33" fill="#d5d5d5"/>
<rect x="194.49" y="241.17" width="5.52" height="4.33" fill="#1f68a9"/>
<rect x="200.47" y="241.17" width="5.52" height="4.33" fill="#d5d5d5"/>
<rect x="206.45" y="241.17" width="5.52" height="4.33" fill="#d5d5d5"/>
<rect x="33.03" y="245.96" width="5.52" height="4.33" fill="#b2df8a"/>
<rect x="39.01" y="245.96" width="5.52" height="4.33" fill="#d5d5d5"/>
<rect x="44.99" y="245.96" width="5.52" height="4.33" fill="#d5d5d5"/>
<rect x="50.97" y="245.96" width="5.52" height="4.33" fill="#d5d5d5"/>
<rect x="56.95" y="245.96" width="5.52" height="4.33" fill="#d5d5d5"/>
<rect x="62.93" y="245.96" width="5.52" height="4.33" fill="#d5d5d5"/>
<rect x="68.91" y="245.96" width="5.52" height="4.33" fill="#d5d5d5"/>
<rect x="74.89" y="245.96" width="5.52" height="4.33" fill="#d5d5d5"/>
<rect x="80.87" y="245.96" width="5.52" height="4.33" fill="#d5d5d5"/>
<rect x="86.85" y="245.96" width="5.52" height="4.33" fill="#d5d5d5"/>
<rect x="92.83" y="245.96" width="5.52" height="4.33" fill="#d5d5d5"/>
<rect x="98.81" y="245.96" width="5.52" height="4.33" fill="#d5d5d5"/>
<rect x="104.79" y="245.96" width="5.52" height="4.33" fill="#d5d5d5"/>
<rect x="110.77" y="245.96" width="5.52" height="4.33" fill="#d5d5d5"/>
<rect x="116.75" y="245.96" width="5.52" height="4.33" fill="#2f9a3a"/>
<rect x="122.73" y="245.96" width="5.52" height="4.33" fill="#d5d5d5"/>
<rect x="128.71" y="245.96" width="5.52" height="4.33" fill="#d5d5d5"/>
<rect x="134.69" y="245.96" width="5.52" height="4.33" fill="#1f68a9"/>
<rect x="140.67" y="245.96" width="5.52" height="4.33" fill="#d5d5d5"/>
<rect x="146.65" y="245.96" width="5.52" height="4.33" fill="#d5d5d5"/>
<rect x="152.63" y="245.96" width="5.52" height="4.33" fill="#d5d5d5"/>
<rect x="158.61" y="245.96" width="5.52" height="4.33" fill="#d5d5d5"/>
<rect x="164.59" y="245.96" width="5.52" height="4.33" fill="#d7191c"/>
<rect x="170.57" y="245.96" width="5.52" height="4.33" fill="#d5d5d5"/>
<rect x="176.55" y="245.96" width="5.52" height="4.33" fill="#d5d5d5"/>
<rect x="182.53" y="245.96" width="5.52" height="4.33" fill="#d5d5d5"/>
<rect x="188.51" y="245.96" width="5.52" height="4.33" fill="#d5d5d5"/>
<rect x="194.49" y="245.96" width="5.52" height="4.33" fill="#d5d5d5"/>
<rect x="200.47" y="245.96" width="5.52" height="4.33" fill="#d5d5d5"/>
<rect x="206.45" y="245.96" width="5.52" height="4.33" fill="#d5d5d5"/>
<rect x="33.03" y="250.75" width="5.52" height="4.33" fill="#d5d5d5"/>
<rect x="39.01" y="250.75" width="5.52" height="4.33" fill="#d5d5d5"/>
<rect x="44.99" y="250.75" width="5.52" height="4.33" fill="#d5d5d5"/>
<rect x="50.97" y="250.75" width="5.52" height="4.33" fill="#1f68a9"/>
<rect x="56.95" y="250.75" width="5.52" height="4.33" fill="#d5d5d5"/>
<rect x="62.93" y="250.75" width="5.52" height="4.33" fill="#d5d5d5"/>
<rect x="68.91" y="250.75" width="5.52" height="4.33" fill="#d5d5d5"/>
<rect x="74.89" y="250.75" width="5.52" height="4.33" fill="#d5d5d5"/>
<rect x="80.87" y="250.75" width="5.52" height="4.33" fill="#d5d5d5"/>
<rect x="86.85" y="250.75" width="5.52" height="4.33" fill="#d5d5d5"/>
<rect x="92.83" y="250.75" width="5.52" height="4.33" fill="#d5d5d5"/>
<rect x="98.81" y="250.75" width="5.52" height="4.33" fill="#7b68ae"/>
<rect x="104.79" y="250.75" width="5.52" height="4.33" fill="#d5d5d5"/>
<rect x="110.77" y="250.75" width="5.52" height="4.33" fill="#d5d5d5"/>
<rect x="116.75" y="250.75" width="5.52" height="4.33" fill="#d5d5d5"/>
<rect x="122.73" y="250.75" width="5.52" height="4.33" fill="#1f68a9"/>
<rect x="128.71" y="250.75" width="5.52" height="4.33" fill="#d5d5d5"/>
<rect x="134.69" y="250.75" width="5.52" height="4.33" fill="#d5d5d5"/>
<rect x="140.67" y="250.75" width="5.52" height="4.33" fill="#d5d5d5"/>
<rect x="146.65" y="250.75" width="5.52" height="4.33" fill="#d5d5d5"/>
<rect x="152.63" y="250.75" width="5.52" height="4.33" fill="#d5d5d5"/>
<rect x="158.61" y="250.75" width="5.52" height="4.33" fill="#d5d5d5"/>
<rect x="164.59" y="250.75" width="5.52" height="4.33" fill="#d5d5d5"/>
<rect x="170.57" y="250.75" width="5.52" height="4.33" fill="#d5d5d5"/>
<rect x="176.55" y="250.75" width="5.52" height="4.33" fill="#d5d5d5"/>
<rect x="182.53" y="250.75" width="5.52" height="4.33" fill="#a6cee3"/>
<rect x="188.51" y="250.75" width="5.52" height="4.33" fill="#d5d5d5"/>
<rect x="194.49" y="250.75" width="5.52" height="4.33" fill="#d5d5d5"/>
<rect x="200.47" y="250.75" width="5.52" height="4.33" fill="#d5d5d5"/>
<rect x="206.45" y="250.75" width="5.52" height="4.33" fill="#d5d5d5"/>
<rect x="33.03" y="255.54" width="5.52" height="4.33" fill="#d5d5d5"/>
<rect x="39.01" y="255.54" width="5.52" height="4.33" fill="#f58220"/>
<rect x="44.99" y="255.54" width="5.52" height="4.33" fill="#d5d5d5"/>
<rect x="50.97" y="255.54" width="5.52" height="4.33" fill="#d5d5d5"/>
<rect x="56.95" y="255.54" width="5.52" height="4.33" fill="#d5d5d5"/>
<rect x="62.93" y="255.54" width="5.52" height="4.33" fill="#d5d5d5"/>
<rect x="68.91" y="255.54" width="5.52" height="4.33" fill="#d5d5d5"/>
<rect x="74.89" y="255.54" width="5.52" height="4.33" fill="#d5d5d5"/>
<rect x="80.87" y="255.54" width="5.52" height="4.33" fill="#d5d5d5"/>
<rect x="86.85" y="255.54" width="5.52" height="4.33" fill="#d5d5d5"/>
<rect x="92.83" y="255.54" width="5.52" height="4.33" fill="#d5d5d5"/>
<rect x="98.81" y="255.54" width="5.52" height="4.33" fill="#f58220"/>
<rect x="104.79" y="255.54" width="5.52" height="4.33" fill="#d5d5d5"/>
<rect x="110.77" y="255.54" width="5.52" height="4.33" fill="#d5d5d5"/>
<rect x="116.75" y="255.54" width="5.52" height="4.33" fill="#d5d5d5"/>
<rect x="122.73" y="255.54" width="5.52" height="4.33" fill="#d5d5d5"/>
<rect x="128.71" y="255.54" width="5.52" height="4.33" fill="#d5d5d5"/>
<rect x="134.69" y="255.54" width="5.52" height="4.33" fill="#d5d5d5"/>
<rect x="140.67" y="255.54" width="5.52" height="4.33" fill="#d5d5d5"/>
<rect x="146.65" y="255.54" width="5.52" height="4.33" fill="#d5d5d5"/>
<rect x="152.63" y="255.54" width="5.52" height="4.33" fill="#d5d5d5"/>
<rect x="158.61" y="255.54" width="5.52" height="4.33" fill="#1f68a9"/>
<rect x="164.59" y="255.54" width="5.52" height="4.33" fill="#a6cee3"/>
<rect x="170.57" y="255.54" width="5.52" height="4.33" fill="#d5d5d5"/>
<rect x="176.55" y="255.54" width="5.52" height="4.33" fill="#d5d5d5"/>
<rect x="182.53" y="255.54" width="5.52" height="4.33" fill="#d5d5d5"/>
<rect x="188.51" y="255.54" width="5.52" height="4.33" fill="#d5d5d5"/>
<rect x="194.49" y="255.54" width="5.52" height="4.33" fill="#d5d5d5"/>
<rect x="200.47" y="255.54" width="5.52" height="4.33" fill="#d5d5d5"/>
<rect x="206.45" y="255.54" width="5.52" height="4.33" fill="#d5d5d5"/>
<rect x="33.03" y="260.33" width="5.52" height="4.33" fill="#1f68a9"/>
<rect x="39.01" y="260.33" width="5.52" height="4.33" fill="#a6cee3"/>
<rect x="44.99" y="260.33" width="5.52" height="4.33" fill="#d5d5d5"/>
<rect x="50.97" y="260.33" width="5.52" height="4.33" fill="#d5d5d5"/>
<rect x="56.95" y="260.33" width="5.52" height="4.33" fill="#d5d5d5"/>
<rect x="62.93" y="260.33" width="5.52" height="4.33" fill="#d5d5d5"/>
<rect x="68.91" y="260.33" width="5.52" height="4.33" fill="#d5d5d5"/>
<rect x="74.89" y="260.33" width="5.52" height="4.33" fill="#d5d5d5"/>
<rect x="80.87" y="260.33" width="5.52" height="4.33" fill="#d5d5d5"/>
<rect x="86.85" y="260.33" width="5.52" height="4.33" fill="#d5d5d5"/>
<rect x="92.83" y="260.33" width="5.52" height="4.33" fill="#d5d5d5"/>
<rect x="98.81" y="260.33" width="5.52" height="4.33" fill="#7b68ae"/>
<rect x="104.79" y="260.33" width="5.52" height="4.33" fill="#d5d5d5"/>
<rect x="110.77" y="260.33" width="5.52" height="4.33" fill="#d5d5d5"/>
<rect x="116.75" y="260.33" width="5.52" height="4.33" fill="#d5d5d5"/>
<rect x="122.73" y="260.33" width="5.52" height="4.33" fill="#d5d5d5"/>
<rect x="128.71" y="260.33" width="5.52" height="4.33" fill="#d5d5d5"/>
<rect x="134.69" y="260.33" width="5.52" height="4.33" fill="#d5d5d5"/>
<rect x="140.67" y="260.33" width="5.52" height="4.33" fill="#d5d5d5"/>
<rect x="146.65" y="260.33" width="5.52" height="4.33" fill="#d5d5d5"/>
<rect x="152.63" y="260.33" width="5.52" height="4.33" fill="#d5d5d5"/>
<rect x="158.61" y="260.33" width="5.52" height="4.33" fill="#2f9a3a"/>
<rect x="164.59" y="260.33" width="5.52" height="4.33" fill="#d5d5d5"/>
<rect x="170.57" y="260.33" width="5.52" height="4.33" fill="#d5d5d5"/>
<rect x="176.55" y="260.33" width="5.52" height="4.33" fill="#d5d5d5"/>
<rect x="182.53" y="260.33" width="5.52" height="4.33" fill="#d5d5d5"/>
<rect x="188.51" y="260.33" width="5.52" height="4.33" fill="#d5d5d5"/>
<rect x="194.49" y="260.33" width="5.52" height="4.33" fill="#d5d5d5"/>
<rect x="200.47" y="260.33" width="5.52" height="4.33" fill="#d5d5d5"/>
<rect x="206.45" y="260.33" width="5.52" height="4.33" fill="#d5d5d5"/>
<rect x="33.03" y="265.12" width="5.52" height="4.33" fill="#d5d5d5"/>
<rect x="39.01" y="265.12" width="5.52" height="4.33" fill="#d5d5d5"/>
<rect x="44.99" y="265.12" width="5.52" height="4.33" fill="#d5d5d5"/>
<rect x="50.97" y="265.12" width="5.52" height="4.33" fill="#d5d5d5"/>
<rect x="56.95" y="265.12" width="5.52" height="4.33" fill="#d5d5d5"/>
<rect x="62.93" y="265.12" width="5.52" height="4.33" fill="#d5d5d5"/>
<rect x="68.91" y="265.12" width="5.52" height="4.33" fill="#d5d5d5"/>
<rect x="74.89" y="265.12" width="5.52" height="4.33" fill="#d5d5d5"/>
<rect x="80.87" y="265.12" width="5.52" height="4.33" fill="#d5d5d5"/>
<rect x="86.85" y="265.12" width="5.52" height="4.33" fill="#d5d5d5"/>
<rect x="92.83" y="265.12" width="5.52" height="4.33" fill="#d5d5d5"/>
<rect x="98.81" y="265.12" width="5.52" height="4.33" fill="#2f9a3a"/>
<rect x="104.79" y="265.12" width="5.52" height="4.33" fill="#d5d5d5"/>
<rect x="110.77" y="265.12" width="5.52" height="4.33" fill="#d5d5d5"/>
<rect x="116.75" y="265.12" width="5.52" height="4.33" fill="#d5d5d5"/>
<rect x="122.73" y="265.12" width="5.52" height="4.33" fill="#d5d5d5"/>
<rect x="128.71" y="265.12" width="5.52" height="4.33" fill="#d5d5d5"/>
<rect x="134.69" y="265.12" width="5.52" height="4.33" fill="#d5d5d5"/>
<rect x="140.67" y="265.12" width="5.52" height="4.33" fill="#d5d5d5"/>
<rect x="146.65" y="265.12" width="5.52" height="4.33" fill="#d5d5d5"/>
<rect x="152.63" y="265.12" width="5.52" height="4.33" fill="#d5d5d5"/>
<rect x="158.61" y="265.12" width="5.52" height="4.33" fill="#1f68a9"/>
<rect x="164.59" y="265.12" width="5.52" height="4.33" fill="#d5d5d5"/>
<rect x="170.57" y="265.12" width="5.52" height="4.33" fill="#d5d5d5"/>
<rect x="176.55" y="265.12" width="5.52" height="4.33" fill="#d5d5d5"/>
<rect x="182.53" y="265.12" width="5.52" height="4.33" fill="#d5d5d5"/>
<rect x="188.51" y="265.12" width="5.52" height="4.33" fill="#2f9a3a"/>
<rect x="194.49" y="265.12" width="5.52" height="4.33" fill="#d5d5d5"/>
<rect x="200.47" y="265.12" width="5.52" height="4.33" fill="#d5d5d5"/>
<rect x="206.45" y="265.12" width="5.52" height="4.33" fill="#d5d5d5"/>
<rect x="33.03" y="269.91" width="5.52" height="4.33" fill="#d5d5d5"/>
<rect x="39.01" y="269.91" width="5.52" height="4.33" fill="#d5d5d5"/>
<rect x="44.99" y="269.91" width="5.52" height="4.33" fill="#d5d5d5"/>
<rect x="50.97" y="269.91" width="5.52" height="4.33" fill="#d5d5d5"/>
<rect x="56.95" y="269.91" width="5.52" height="4.33" fill="#d5d5d5"/>
<rect x="62.93" y="269.91" width="5.52" height="4.33" fill="#d5d5d5"/>
<rect x="68.91" y="269.91" width="5.52" height="4.33" fill="#d5d5d5"/>
<rect x="74.89" y="269.91" width="5.52" height="4.33" fill="#d5d5d5"/>
<rect x="80.87" y="269.91" width="5.52" height="4.33" fill="#d5d5d5"/>
<rect x="86.85" y="269.91" width="5.52" height="4.33" fill="#d5d5d5"/>
<rect x="92.83" y="269.91" width="5.52" height="4.33" fill="#d5d5d5"/>
<rect x="98.81" y="269.91" width="5.52" height="4.33" fill="#d5d5d5"/>
<rect x="104.79" y="269.91" width="5.52" height="4.33" fill="#d5d5d5"/>
<rect x="110.77" y="269.91" width="5.52" height="4.33" fill="#d5d5d5"/>
<rect x="116.75" y="269.91" width="5.52" height="4.33" fill="#d5d5d5"/>
<rect x="122.73" y="269.91" width="5.52" height="4.33" fill="#d5d5d5"/>
<rect x="128.71" y="269.91" width="5.52" height="4.33" fill="#1f68a9"/>
<rect x="134.69" y="269.91" width="5.52" height="4.33" fill="#d5d5d5"/>
<rect x="140.67" y="269.91" width="5.52" height="4.33" fill="#d5d5d5"/>
<rect x="146.65" y="269.91" width="5.52" height="4.33" fill="#d5d5d5"/>
<rect x="152.63" y="269.91" width="5.52" height="4.33" fill="#d5d5d5"/>
<rect x="158.61" y="269.91" width="5.52" height="4.33" fill="#a6cee3"/>
<rect x="164.59" y="269.91" width="5.52" height="4.33" fill="#1f68a9"/>
<rect x="170.57" y="269.91" width="5.52" height="4.33" fill="#d5d5d5"/>
<rect x="176.55" y="269.91" width="5.52" height="4.33" fill="#d5d5d5"/>
<rect x="182.53" y="269.91" width="5.52" height="4.33" fill="#d5d5d5"/>
<rect x="188.51" y="269.91" width="5.52" height="4.33" fill="#d5d5d5"/>
<rect x="194.49" y="269.91" width="5.52" height="4.33" fill="#d5d5d5"/>
<rect x="200.47" y="269.91" width="5.52" height="4.33" fill="#d5d5d5"/>
<rect x="206.45" y="269.91" width="5.52" height="4.33" fill="#d5d5d5"/>
<rect x="33.03" y="274.70" width="5.52" height="4.33" fill="#d5d5d5"/>
<rect x="39.01" y="274.70" width="5.52" height="4.33" fill="#d5d5d5"/>
<rect x="44.99" y="274.70" width="5.52" height="4.33" fill="#d5d5d5"/>
<rect x="50.97" y="274.70" width="5.52" height="4.33" fill="#d5d5d5"/>
<rect x="56.95" y="274.70" width="5.52" height="4.33" fill="#d5d5d5"/>
<rect x="62.93" y="274.70" width="5.52" height="4.33" fill="#d5d5d5"/>
<rect x="68.91" y="274.70" width="5.52" height="4.33" fill="#d5d5d5"/>
<rect x="74.89" y="274.70" width="5.52" height="4.33" fill="#d5d5d5"/>
<rect x="80.87" y="274.70" width="5.52" height="4.33" fill="#d5d5d5"/>
<rect x="86.85" y="274.70" width="5.52" height="4.33" fill="#d5d5d5"/>
<rect x="92.83" y="274.70" width="5.52" height="4.33" fill="#d5d5d5"/>
<rect x="98.81" y="274.70" width="5.52" height="4.33" fill="#2f9a3a"/>
<rect x="104.79" y="274.70" width="5.52" height="4.33" fill="#d5d5d5"/>
<rect x="110.77" y="274.70" width="5.52" height="4.33" fill="#d5d5d5"/>
<rect x="116.75" y="274.70" width="5.52" height="4.33" fill="#d5d5d5"/>
<rect x="122.73" y="274.70" width="5.52" height="4.33" fill="#d5d5d5"/>
<rect x="128.71" y="274.70" width="5.52" height="4.33" fill="#2f9a3a"/>
<rect x="134.69" y="274.70" width="5.52" height="4.33" fill="#d5d5d5"/>
<rect x="140.67" y="274.70" width="5.52" height="4.33" fill="#d5d5d5"/>
<rect x="146.65" y="274.70" width="5.52" height="4.33" fill="#d5d5d5"/>
<rect x="152.63" y="274.70" width="5.52" height="4.33" fill="#d5d5d5"/>
<rect x="158.61" y="274.70" width="5.52" height="4.33" fill="#d5d5d5"/>
<rect x="164.59" y="274.70" width="5.52" height="4.33" fill="#d5d5d5"/>
<rect x="170.57" y="274.70" width="5.52" height="4.33" fill="#d5d5d5"/>
<rect x="176.55" y="274.70" width="5.52" height="4.33" fill="#d5d5d5"/>
<rect x="182.53" y="274.70" width="5.52" height="4.33" fill="#d5d5d5"/>
<rect x="188.51" y="274.70" width="5.52" height="4.33" fill="#1f68a9"/>
<rect x="194.49" y="274.70" width="5.52" height="4.33" fill="#d5d5d5"/>
<rect x="200.47" y="274.70" width="5.52" height="4.33" fill="#d5d5d5"/>
<rect x="206.45" y="274.70" width="5.52" height="4.33" fill="#d5d5d5"/>
<rect x="33.03" y="279.49" width="5.52" height="4.33" fill="#d5d5d5"/>
<rect x="39.01" y="279.49" width="5.52" height="4.33" fill="#d5d5d5"/>
<rect x="44.99" y="279.49" width="5.52" height="4.33" fill="#d5d5d5"/>
<rect x="50.97" y="279.49" width="5.52" height="4.33" fill="#d5d5d5"/>
<rect x="56.95" y="279.49" width="5.52" height="4.33" fill="#d5d5d5"/>
<rect x="62.93" y="279.49" width="5.52" height="4.33" fill="#d5d5d5"/>
<rect x="68.91" y="279.49" width="5.52" height="4.33" fill="#d5d5d5"/>
<rect x="74.89" y="279.49" width="5.52" height="4.33" fill="#d5d5d5"/>
<rect x="80.87" y="279.49" width="5.52" height="4.33" fill="#d5d5d5"/>
<rect x="86.85" y="279.49" width="5.52" height="4.33" fill="#d5d5d5"/>
<rect x="92.83" y="279.49" width="5.52" height="4.33" fill="#d5d5d5"/>
<rect x="98.81" y="279.49" width="5.52" height="4.33" fill="#d5d5d5"/>
<rect x="104.79" y="279.49" width="5.52" height="4.33" fill="#d5d5d5"/>
<rect x="110.77" y="279.49" width="5.52" height="4.33" fill="#d5d5d5"/>
<rect x="116.75" y="279.49" width="5.52" height="4.33" fill="#1f68a9"/>
<rect x="122.73" y="279.49" width="5.52" height="4.33" fill="#d5d5d5"/>
<rect x="128.71" y="279.49" width="5.52" height="4.33" fill="#d5d5d5"/>
<rect x="134.69" y="279.49" width="5.52" height="4.33" fill="#d5d5d5"/>
<rect x="140.67" y="279.49" width="5.52" height="4.33" fill="#1f68a9"/>
<rect x="146.65" y="279.49" width="5.52" height="4.33" fill="#d5d5d5"/>
<rect x="152.63" y="279.49" width="5.52" height="4.33" fill="#d5d5d5"/>
<rect x="158.61" y="279.49" width="5.52" height="4.33" fill="#d5d5d5"/>
<rect x="164.59" y="279.49" width="5.52" height="4.33" fill="#d5d5d5"/>
<rect x="170.57" y="279.49" width="5.52" height="4.33" fill="#d5d5d5"/>
<rect x="176.55" y="279.49" width="5.52" height="4.33" fill="#d5d5d5"/>
<rect x="182.53" y="279.49" width="5.52" height="4.33" fill="#d5d5d5"/>
<rect x="188.51" y="279.49" width="5.52" height="4.33" fill="#d5d5d5"/>
<rect x="194.49" y="279.49" width="5.52" height="4.33" fill="#d5d5d5"/>
<rect x="200.47" y="279.49" width="5.52" height="4.33" fill="#1f68a9"/>
<rect x="206.45" y="279.49" width="5.52" height="4.33" fill="#d5d5d5"/>
<rect x="33.03" y="284.28" width="5.52" height="4.33" fill="#d5d5d5"/>
<rect x="39.01" y="284.28" width="5.52" height="4.33" fill="#d5d5d5"/>
<rect x="44.99" y="284.28" width="5.52" height="4.33" fill="#d5d5d5"/>
<rect x="50.97" y="284.28" width="5.52" height="4.33" fill="#d5d5d5"/>
<rect x="56.95" y="284.28" width="5.52" height="4.33" fill="#d5d5d5"/>
<rect x="62.93" y="284.28" width="5.52" height="4.33" fill="#d5d5d5"/>
<rect x="68.91" y="284.28" width="5.52" height="4.33" fill="#d5d5d5"/>
<rect x="74.89" y="284.28" width="5.52" height="4.33" fill="#d5d5d5"/>
<rect x="80.87" y="284.28" width="5.52" height="4.33" fill="#d5d5d5"/>
<rect x="86.85" y="284.28" width="5.52" height="4.33" fill="#d5d5d5"/>
<rect x="92.83" y="284.28" width="5.52" height="4.33" fill="#d5d5d5"/>
<rect x="98.81" y="284.28" width="5.52" height="4.33" fill="#d5d5d5"/>
<rect x="104.79" y="284.28" width="5.52" height="4.33" fill="#d5d5d5"/>
<rect x="110.77" y="284.28" width="5.52" height="4.33" fill="#d5d5d5"/>
<rect x="116.75" y="284.28" width="5.52" height="4.33" fill="#d5d5d5"/>
<rect x="122.73" y="284.28" width="5.52" height="4.33" fill="#d5d5d5"/>
<rect x="128.71" y="284.28" width="5.52" height="4.33" fill="#d5d5d5"/>
<rect x="134.69" y="284.28" width="5.52" height="4.33" fill="#d5d5d5"/>
<rect x="140.67" y="284.28" width="5.52" height="4.33" fill="#1f68a9"/>
<rect x="146.65" y="284.28" width="5.52" height="4.33" fill="#1f68a9"/>
<rect x="152.63" y="284.28" width="5.52" height="4.33" fill="#d5d5d5"/>
<rect x="158.61" y="284.28" width="5.52" height="4.33" fill="#b2df8a"/>
<rect x="164.59" y="284.28" width="5.52" height="4.33" fill="#d5d5d5"/>
<rect x="170.57" y="284.28" width="5.52" height="4.33" fill="#d5d5d5"/>
<rect x="176.55" y="284.28" width="5.52" height="4.33" fill="#d5d5d5"/>
<rect x="182.53" y="284.28" width="5.52" height="4.33" fill="#d5d5d5"/>
<rect x="188.51" y="284.28" width="5.52" height="4.33" fill="#d5d5d5"/>
<rect x="194.49" y="284.28" width="5.52" height="4.33" fill="#d5d5d5"/>
<rect x="200.47" y="284.28" width="5.52" height="4.33" fill="#d5d5d5"/>
<rect x="206.45" y="284.28" width="5.52" height="4.33" fill="#d5d5d5"/>
<rect x="33.03" y="289.07" width="5.52" height="4.33" fill="#d5d5d5"/>
<rect x="39.01" y="289.07" width="5.52" height="4.33" fill="#d5d5d5"/>
<rect x="44.99" y="289.07" width="5.52" height="4.33" fill="#d5d5d5"/>
<rect x="50.97" y="289.07" width="5.52" height="4.33" fill="#d5d5d5"/>
<rect x="56.95" y="289.07" width="5.52" height="4.33" fill="#d5d5d5"/>
<rect x="62.93" y="289.07" width="5.52" height="4.33" fill="#d5d5d5"/>
<rect x="68.91" y="289.07" width="5.52" height="4.33" fill="#d5d5d5"/>
<rect x="74.89" y="289.07" width="5.52" height="4.33" fill="#d5d5d5"/>
<rect x="80.87" y="289.07" width="5.52" height="4.33" fill="#d5d5d5"/>
<rect x="86.85" y="289.07" width="5.52" height="4.33" fill="#d5d5d5"/>
<rect x="92.83" y="289.07" width="5.52" height="4.33" fill="#d5d5d5"/>
<rect x="98.81" y="289.07" width="5.52" height="4.33" fill="#d5d5d5"/>
<rect x="104.79" y="289.07" width="5.52" height="4.33" fill="#d5d5d5"/>
<rect x="110.77" y="289.07" width="5.52" height="4.33" fill="#d5d5d5"/>
<rect x="116.75" y="289.07" width="5.52" height="4.33" fill="#d5d5d5"/>
<rect x="122.73" y="289.07" width="5.52" height="4.33" fill="#d5d5d5"/>
<rect x="128.71" y="289.07" width="5.52" height="4.33" fill="#d5d5d5"/>
<rect x="134.69" y="289.07" width="5.52" height="4.33" fill="#d5d5d5"/>
<rect x="140.67" y="289.07" width="5.52" height="4.33" fill="#1f68a9"/>
<rect x="146.65" y="289.07" width="5.52" height="4.33" fill="#d5d5d5"/>
<rect x="152.63" y="289.07" width="5.52" height="4.33" fill="#d5d5d5"/>
<rect x="158.61" y="289.07" width="5.52" height="4.33" fill="#d5d5d5"/>
<rect x="164.59" y="289.07" width="5.52" height="4.33" fill="#d5d5d5"/>
<rect x="170.57" y="289.07" width="5.52" height="4.33" fill="#d5d5d5"/>
<rect x="176.55" y="289.07" width="5.52" height="4.33" fill="#d5d5d5"/>
<rect x="182.53" y="289.07" width="5.52" height="4.33" fill="#d5d5d5"/>
<rect x="188.51" y="289.07" width="5.52" height="4.33" fill="#d5d5d5"/>
<rect x="194.49" y="289.07" width="5.52" height="4.33" fill="#d5d5d5"/>
<rect x="200.47" y="289.07" width="5.52" height="4.33" fill="#1f68a9"/>
<rect x="206.45" y="289.07" width="5.52" height="4.33" fill="#1f68a9"/>
<rect x="33.03" y="293.86" width="5.52" height="4.33" fill="#d5d5d5"/>
<rect x="39.01" y="293.86" width="5.52" height="4.33" fill="#d5d5d5"/>
<rect x="44.99" y="293.86" width="5.52" height="4.33" fill="#d5d5d5"/>
<rect x="50.97" y="293.86" width="5.52" height="4.33" fill="#d5d5d5"/>
<rect x="56.95" y="293.86" width="5.52" height="4.33" fill="#d5d5d5"/>
<rect x="62.93" y="293.86" width="5.52" height="4.33" fill="#d5d5d5"/>
<rect x="68.91" y="293.86" width="5.52" height="4.33" fill="#d5d5d5"/>
<rect x="74.89" y="293.86" width="5.52" height="4.33" fill="#d5d5d5"/>
<rect x="80.87" y="293.86" width="5.52" height="4.33" fill="#d5d5d5"/>
<rect x="86.85" y="293.86" width="5.52" height="4.33" fill="#d5d5d5"/>
<rect x="92.83" y="293.86" width="5.52" height="4.33" fill="#d5d5d5"/>
<rect x="98.81" y="293.86" width="5.52" height="4.33" fill="#d5d5d5"/>
<rect x="104.79" y="293.86" width="5.52" height="4.33" fill="#d5d5d5"/>
<rect x="110.77" y="293.86" width="5.52" height="4.33" fill="#d5d5d5"/>
<rect x="116.75" y="293.86" width="5.52" height="4.33" fill="#d5d5d5"/>
<rect x="122.73" y="293.86" width="5.52" height="4.33" fill="#d5d5d5"/>
<rect x="128.71" y="293.86" width="5.52" height="4.33" fill="#d5d5d5"/>
<rect x="134.69" y="293.86" width="5.52" height="4.33" fill="#1f68a9"/>
<rect x="140.67" y="293.86" width="5.52" height="4.33" fill="#d5d5d5"/>
<rect x="146.65" y="293.86" width="5.52" height="4.33" fill="#d5d5d5"/>
<rect x="152.63" y="293.86" width="5.52" height="4.33" fill="#2f9a3a"/>
<rect x="158.61" y="293.86" width="5.52" height="4.33" fill="#d5d5d5"/>
<rect x="164.59" y="293.86" width="5.52" height="4.33" fill="#d5d5d5"/>
<rect x="170.57" y="293.86" width="5.52" height="4.33" fill="#d5d5d5"/>
<rect x="176.55" y="293.86" width="5.52" height="4.33" fill="#d5d5d5"/>
<rect x="182.53" y="293.86" width="5.52" height="4.33" fill="#a6cee3"/>
<rect x="188.51" y="293.86" width="5.52" height="4.33" fill="#d5d5d5"/>
<rect x="194.49" y="293.86" width="5.52" height="4.33" fill="#d5d5d5"/>
<rect x="200.47" y="293.86" width="5.52" height="4.33" fill="#d5d5d5"/>
<rect x="206.45" y="293.86" width="5.52" height="4.33" fill="#d5d5d5"/>
<rect x="33.03" y="298.65" width="5.52" height="4.33" fill="#d5d5d5"/>
<rect x="39.01" y="298.65" width="5.52" height="4.33" fill="#d5d5d5"/>
<rect x="44.99" y="298.65" width="5.52" height="4.33" fill="#d5d5d5"/>
<rect x="50.97" y="298.65" width="5.52" height="4.33" fill="#d5d5d5"/>
<rect x="56.95" y="298.65" width="5.52" height="4.33" fill="#d5d5d5"/>
<rect x="62.93" y="298.65" width="5.52" height="4.33" fill="#d5d5d5"/>
<rect x="68.91" y="298.65" width="5.52" height="4.33" fill="#d5d5d5"/>
<rect x="74.89" y="298.65" width="5.52" height="4.33" fill="#d5d5d5"/>
<rect x="80.87" y="298.65" width="5.52" height="4.33" fill="#d5d5d5"/>
<rect x="86.85" y="298.65" width="5.52" height="4.33" fill="#d5d5d5"/>
<rect x="92.83" y="298.65" width="5.52" height="4.33" fill="#d5d5d5"/>
<rect x="98.81" y="298.65" width="5.52" height="4.33" fill="#d5d5d5"/>
<rect x="104.79" y="298.65" width="5.52" height="4.33" fill="#d5d5d5"/>
<rect x="110.77" y="298.65" width="5.52" height="4.33" fill="#d5d5d5"/>
<rect x="116.75" y="298.65" width="5.52" height="4.33" fill="#d5d5d5"/>
<rect x="122.73" y="298.65" width="5.52" height="4.33" fill="#d5d5d5"/>
<rect x="128.71" y="298.65" width="5.52" height="4.33" fill="#1f68a9"/>
<rect x="134.69" y="298.65" width="5.52" height="4.33" fill="#d5d5d5"/>
<rect x="140.67" y="298.65" width="5.52" height="4.33" fill="#d5d5d5"/>
<rect x="146.65" y="298.65" width="5.52" height="4.33" fill="#d5d5d5"/>
<rect x="152.63" y="298.65" width="5.52" height="4.33" fill="#d5d5d5"/>
<rect x="158.61" y="298.65" width="5.52" height="4.33" fill="#1f68a9"/>
<rect x="164.59" y="298.65" width="5.52" height="4.33" fill="#2f9a3a"/>
<rect x="170.57" y="298.65" width="5.52" height="4.33" fill="#d5d5d5"/>
<rect x="176.55" y="298.65" width="5.52" height="4.33" fill="#d5d5d5"/>
<rect x="182.53" y="298.65" width="5.52" height="4.33" fill="#d5d5d5"/>
<rect x="188.51" y="298.65" width="5.52" height="4.33" fill="#d5d5d5"/>
<rect x="194.49" y="298.65" width="5.52" height="4.33" fill="#d5d5d5"/>
<rect x="200.47" y="298.65" width="5.52" height="4.33" fill="#d5d5d5"/>
<rect x="206.45" y="298.65" width="5.52" height="4.33" fill="#d5d5d5"/>
<rect x="33.03" y="303.44" width="5.52" height="4.33" fill="#d5d5d5"/>
<rect x="39.01" y="303.44" width="5.52" height="4.33" fill="#d5d5d5"/>
<rect x="44.99" y="303.44" width="5.52" height="4.33" fill="#d5d5d5"/>
<rect x="50.97" y="303.44" width="5.52" height="4.33" fill="#d5d5d5"/>
<rect x="56.95" y="303.44" width="5.52" height="4.33" fill="#d5d5d5"/>
<rect x="62.93" y="303.44" width="5.52" height="4.33" fill="#d5d5d5"/>
<rect x="68.91" y="303.44" width="5.52" height="4.33" fill="#d5d5d5"/>
<rect x="74.89" y="303.44" width="5.52" height="4.33" fill="#d5d5d5"/>
<rect x="80.87" y="303.44" width="5.52" height="4.33" fill="#d5d5d5"/>
<rect x="86.85" y="303.44" width="5.52" height="4.33" fill="#d5d5d5"/>
<rect x="92.83" y="303.44" width="5.52" height="4.33" fill="#d5d5d5"/>
<rect x="98.81" y="303.44" width="5.52" height="4.33" fill="#d5d5d5"/>
<rect x="104.79" y="303.44" width="5.52" height="4.33" fill="#d5d5d5"/>
<rect x="110.77" y="303.44" width="5.52" height="4.33" fill="#d5d5d5"/>
<rect x="116.75" y="303.44" width="5.52" height="4.33" fill="#d5d5d5"/>
<rect x="122.73" y="303.44" width="5.52" height="4.33" fill="#d5d5d5"/>
<rect x="128.71" y="303.44" width="5.52" height="4.33" fill="#f58220"/>
<rect x="134.69" y="303.44" width="5.52" height="4.33" fill="#d5d5d5"/>
<rect x="140.67" y="303.44" width="5.52" height="4.33" fill="#d5d5d5"/>
<rect x="146.65" y="303.44" width="5.52" height="4.33" fill="#d5d5d5"/>
<rect x="152.63" y="303.44" width="5.52" height="4.33" fill="#d5d5d5"/>
<rect x="158.61" y="303.44" width="5.52" height="4.33" fill="#f58220"/>
<rect x="164.59" y="303.44" width="5.52" height="4.33" fill="#d5d5d5"/>
<rect x="170.57" y="303.44" width="5.52" height="4.33" fill="#d5d5d5"/>
<rect x="176.55" y="303.44" width="5.52" height="4.33" fill="#d5d5d5"/>
<rect x="182.53" y="303.44" width="5.52" height="4.33" fill="#d5d5d5"/>
<rect x="188.51" y="303.44" width="5.52" height="4.33" fill="#f58220"/>
<rect x="194.49" y="303.44" width="5.52" height="4.33" fill="#d5d5d5"/>
<rect x="200.47" y="303.44" width="5.52" height="4.33" fill="#d5d5d5"/>
<rect x="206.45" y="303.44" width="5.52" height="4.33" fill="#d5d5d5"/>
<rect x="33.03" y="308.23" width="5.52" height="4.33" fill="#d5d5d5"/>
<rect x="39.01" y="308.23" width="5.52" height="4.33" fill="#d5d5d5"/>
<rect x="44.99" y="308.23" width="5.52" height="4.33" fill="#d5d5d5"/>
<rect x="50.97" y="308.23" width="5.52" height="4.33" fill="#d5d5d5"/>
<rect x="56.95" y="308.23" width="5.52" height="4.33" fill="#d5d5d5"/>
<rect x="62.93" y="308.23" width="5.52" height="4.33" fill="#d5d5d5"/>
<rect x="68.91" y="308.23" width="5.52" height="4.33" fill="#d5d5d5"/>
<rect x="74.89" y="308.23" width="5.52" height="4.33" fill="#d5d5d5"/>
<rect x="80.87" y="308.23" width="5.52" height="4.33" fill="#d5d5d5"/>
<rect x="86.85" y="308.23" width="5.52" height="4.33" fill="#d5d5d5"/>
<rect x="92.83" y="308.23" width="5.52" height="4.33" fill="#d5d5d5"/>
<rect x="98.81" y="308.23" width="5.52" height="4.33" fill="#d5d5d5"/>
<rect x="104.79" y="308.23" width="5.52" height="4.33" fill="#d5d5d5"/>
<rect x="110.77" y="308.23" width="5.52" height="4.33" fill="#d5d5d5"/>
<rect x="116.75" y="308.23" width="5.52" height="4.33" fill="#fb9a99"/>
<rect x="122.73" y="308.23" width="5.52" height="4.33" fill="#d5d5d5"/>
<rect x="128.71" y="308.23" width="5.52" height="4.33" fill="#d5d5d5"/>
<rect x="134.69" y="308.23" width="5.52" height="4.33" fill="#d5d5d5"/>
<rect x="140.67" y="308.23" width="5.52" height="4.33" fill="#d5d5d5"/>
<rect x="146.65" y="308.23" width="5.52" height="4.33" fill="#d5d5d5"/>
<rect x="152.63" y="308.23" width="5.52" height="4.33" fill="#d5d5d5"/>
<rect x="158.61" y="308.23" width="5.52" height="4.33" fill="#1f68a9"/>
<rect x="164.59" y="308.23" width="5.52" height="4.33" fill="#d5d5d5"/>
<rect x="170.57" y="308.23" width="5.52" height="4.33" fill="#d5d5d5"/>
<rect x="176.55" y="308.23" width="5.52" height="4.33" fill="#d5d5d5"/>
<rect x="182.53" y="308.23" width="5.52" height="4.33" fill="#d5d5d5"/>
<rect x="188.51" y="308.23" width="5.52" height="4.33" fill="#d5d5d5"/>
<rect x="194.49" y="308.23" width="5.52" height="4.33" fill="#d5d5d5"/>
<rect x="200.47" y="308.23" width="5.52" height="4.33" fill="#d5d5d5"/>
<rect x="206.45" y="308.23" width="5.52" height="4.33" fill="#1f68a9"/>
<rect x="33.03" y="313.02" width="5.52" height="4.33" fill="#d5d5d5"/>
<rect x="39.01" y="313.02" width="5.52" height="4.33" fill="#a6cee3"/>
<rect x="44.99" y="313.02" width="5.52" height="4.33" fill="#d5d5d5"/>
<rect x="50.97" y="313.02" width="5.52" height="4.33" fill="#d5d5d5"/>
<rect x="56.95" y="313.02" width="5.52" height="4.33" fill="#1f68a9"/>
<rect x="62.93" y="313.02" width="5.52" height="4.33" fill="#d5d5d5"/>
<rect x="68.91" y="313.02" width="5.52" height="4.33" fill="#d5d5d5"/>
<rect x="74.89" y="313.02" width="5.52" height="4.33" fill="#d5d5d5"/>
<rect x="80.87" y="313.02" width="5.52" height="4.33" fill="#d5d5d5"/>
<rect x="86.85" y="313.02" width="5.52" height="4.33" fill="#d5d5d5"/>
<rect x="92.83" y="313.02" width="5.52" height="4.33" fill="#d5d5d5"/>
<rect x="98.81" y="313.02" width="5.52" height="4.33" fill="#d5d5d5"/>
<rect x="104.79" y="313.02" width="5.52" height="4.33" fill="#d5d5d5"/>
<rect x="110.77" y="313.02" width="5.52" height="4.33" fill="#d5d5d5"/>
<rect x="116.75" y="313.02" width="5.52" height="4.33" fill="#d5d5d5"/>
<rect x="122.73" y="313.02" width="5.52" height="4.33" fill="#d5d5d5"/>
<rect x="128.71" y="313.02" width="5.52" height="4.33" fill="#a6cee3"/>
<rect x="134.69" y="313.02" width="5.52" height="4.33" fill="#d5d5d5"/>
<rect x="140.67" y="313.02" width="5.52" height="4.33" fill="#d5d5d5"/>
<rect x="146.65" y="313.02" width="5.52" height="4.33" fill="#d5d5d5"/>
<rect x="152.63" y="313.02" width="5.52" height="4.33" fill="#d5d5d5"/>
<rect x="158.61" y="313.02" width="5.52" height="4.33" fill="#d5d5d5"/>
<rect x="164.59" y="313.02" width="5.52" height="4.33" fill="#d5d5d5"/>
<rect x="170.57" y="313.02" width="5.52" height="4.33" fill="#d5d5d5"/>
<rect x="176.55" y="313.02" width="5.52" height="4.33" fill="#d5d5d5"/>
<rect x="182.53" y="313.02" width="5.52" height="4.33" fill="#d5d5d5"/>
<rect x="188.51" y="313.02" width="5.52" height="4.33" fill="#d5d5d5"/>
<rect x="194.49" y="313.02" width="5.52" height="4.33" fill="#d5d5d5"/>
<rect x="200.47" y="313.02" width="5.52" height="4.33" fill="#d5d5d5"/>
<rect x="206.45" y="313.02" width="5.52" height="4.33" fill="#d5d5d5"/>
<rect x="33.03" y="317.81" width="5.52" height="4.33" fill="#d5d5d5"/>
<rect x="39.01" y="317.81" width="5.52" height="4.33" fill="#d5d5d5"/>
<rect x="44.99" y="317.81" width="5.52" height="4.33" fill="#d5d5d5"/>
<rect x="50.97" y="317.81" width="5.52" height="4.33" fill="#d5d5d5"/>
<rect x="56.95" y="317.81" width="5.52" height="4.33" fill="#d5d5d5"/>
<rect x="62.93" y="317.81" width="5.52" height="4.33" fill="#d5d5d5"/>
<rect x="68.91" y="317.81" width="5.52" height="4.33" fill="#d5d5d5"/>
<rect x="74.89" y="317.81" width="5.52" height="4.33" fill="#d5d5d5"/>
<rect x="80.87" y="317.81" width="5.52" height="4.33" fill="#d5d5d5"/>
<rect x="86.85" y="317.81" width="5.52" height="4.33" fill="#d5d5d5"/>
<rect x="92.83" y="317.81" width="5.52" height="4.33" fill="#d5d5d5"/>
<rect x="98.81" y="317.81" width="5.52" height="4.33" fill="#d5d5d5"/>
<rect x="104.79" y="317.81" width="5.52" height="4.33" fill="#f58220"/>
<rect x="110.77" y="317.81" width="5.52" height="4.33" fill="#d5d5d5"/>
<rect x="116.75" y="317.81" width="5.52" height="4.33" fill="#f58220"/>
<rect x="122.73" y="317.81" width="5.52" height="4.33" fill="#d5d5d5"/>
<rect x="128.71" y="317.81" width="5.52" height="4.33" fill="#d5d5d5"/>
<rect x="134.69" y="317.81" width="5.52" height="4.33" fill="#d5d5d5"/>
<rect x="140.67" y="317.81" width="5.52" height="4.33" fill="#d5d5d5"/>
<rect x="146.65" y="317.81" width="5.52" height="4.33" fill="#d5d5d5"/>
<rect x="152.63" y="317.81" width="5.52" height="4.33" fill="#d5d5d5"/>
<rect x="158.61" y="317.81" width="5.52" height="4.33" fill="#d5d5d5"/>
<rect x="164.59" y="317.81" width="5.52" height="4.33" fill="#f58220"/>
<rect x="170.57" y="317.81" width="5.52" height="4.33" fill="#d5d5d5"/>
<rect x="176.55" y="317.81" width="5.52" height="4.33" fill="#d5d5d5"/>
<rect x="182.53" y="317.81" width="5.52" height="4.33" fill="#d5d5d5"/>
<rect x="188.51" y="317.81" width="5.52" height="4.33" fill="#d5d5d5"/>
<rect x="194.49" y="317.81" width="5.52" height="4.33" fill="#d5d5d5"/>
<rect x="200.47" y="317.81" width="5.52" height="4.33" fill="#d5d5d5"/>
<rect x="206.45" y="317.81" width="5.52" height="4.33" fill="#d5d5d5"/>
<rect x="33.03" y="322.60" width="5.52" height="4.33" fill="#d5d5d5"/>
<rect x="39.01" y="322.60" width="5.52" height="4.33" fill="#d5d5d5"/>
<rect x="44.99" y="322.60" width="5.52" height="4.33" fill="#d5d5d5"/>
<rect x="50.97" y="322.60" width="5.52" height="4.33" fill="#d5d5d5"/>
<rect x="56.95" y="322.60" width="5.52" height="4.33" fill="#d5d5d5"/>
<rect x="62.93" y="322.60" width="5.52" height="4.33" fill="#d5d5d5"/>
<rect x="68.91" y="322.60" width="5.52" height="4.33" fill="#d5d5d5"/>
<rect x="74.89" y="322.60" width="5.52" height="4.33" fill="#d5d5d5"/>
<rect x="80.87" y="322.60" width="5.52" height="4.33" fill="#d5d5d5"/>
<rect x="86.85" y="322.60" width="5.52" height="4.33" fill="#d5d5d5"/>
<rect x="92.83" y="322.60" width="5.52" height="4.33" fill="#d5d5d5"/>
<rect x="98.81" y="322.60" width="5.52" height="4.33" fill="#d5d5d5"/>
<rect x="104.79" y="322.60" width="5.52" height="4.33" fill="#d5d5d5"/>
<rect x="110.77" y="322.60" width="5.52" height="4.33" fill="#d5d5d5"/>
<rect x="116.75" y="322.60" width="5.52" height="4.33" fill="#d5d5d5"/>
<rect x="122.73" y="322.60" width="5.52" height="4.33" fill="#d5d5d5"/>
<rect x="128.71" y="322.60" width="5.52" height="4.33" fill="#1f68a9"/>
<rect x="134.69" y="322.60" width="5.52" height="4.33" fill="#d5d5d5"/>
<rect x="140.67" y="322.60" width="5.52" height="4.33" fill="#d5d5d5"/>
<rect x="146.65" y="322.60" width="5.52" height="4.33" fill="#d5d5d5"/>
<rect x="152.63" y="322.60" width="5.52" height="4.33" fill="#d5d5d5"/>
<rect x="158.61" y="322.60" width="5.52" height="4.33" fill="#a6cee3"/>
<rect x="164.59" y="322.60" width="5.52" height="4.33" fill="#d5d5d5"/>
<rect x="170.57" y="322.60" width="5.52" height="4.33" fill="#d5d5d5"/>
<rect x="176.55" y="322.60" width="5.52" height="4.33" fill="#d5d5d5"/>
<rect x="182.53" y="322.60" width="5.52" height="4.33" fill="#d5d5d5"/>
<rect x="188.51" y="322.60" width="5.52" height="4.33" fill="#d5d5d5"/>
<rect x="194.49" y="322.60" width="5.52" height="4.33" fill="#d5d5d5"/>
<rect x="200.47" y="322.60" width="5.52" height="4.33" fill="#d5d5d5"/>
<rect x="206.45" y="322.60" width="5.52" height="4.33" fill="#d5d5d5"/>
<rect x="33.03" y="327.39" width="5.52" height="4.33" fill="#d5d5d5"/>
<rect x="39.01" y="327.39" width="5.52" height="4.33" fill="#d5d5d5"/>
<rect x="44.99" y="327.39" width="5.52" height="4.33" fill="#d5d5d5"/>
<rect x="50.97" y="327.39" width="5.52" height="4.33" fill="#d5d5d5"/>
<rect x="56.95" y="327.39" width="5.52" height="4.33" fill="#d5d5d5"/>
<rect x="62.93" y="327.39" width="5.52" height="4.33" fill="#d5d5d5"/>
<rect x="68.91" y="327.39" width="5.52" height="4.33" fill="#d5d5d5"/>
<rect x="74.89" y="327.39" width="5.52" height="4.33" fill="#d5d5d5"/>
<rect x="80.87" y="327.39" width="5.52" height="4.33" fill="#d5d5d5"/>
<rect x="86.85" y="327.39" width="5.52" height="4.33" fill="#d5d5d5"/>
<rect x="92.83" y="327.39" width="5.52" height="4.33" fill="#d5d5d5"/>
<rect x="98.81" y="327.39" width="5.52" height="4.33" fill="#1f68a9"/>
<rect x="104.79" y="327.39" width="5.52" height="4.33" fill="#d5d5d5"/>
<rect x="110.77" y="327.39" width="5.52" height="4.33" fill="#d5d5d5"/>
<rect x="116.75" y="327.39" width="5.52" height="4.33" fill="#d5d5d5"/>
<rect x="122.73" y="327.39" width="5.52" height="4.33" fill="#d5d5d5"/>
<rect x="128.71" y="327.39" width="5.52" height="4.33" fill="#d5d5d5"/>
<rect x="134.69" y="327.39" width="5.52" height="4.33" fill="#d5d5d5"/>
<rect x="140.67" y="327.39" width="5.52" height="4.33" fill="#d5d5d5"/>
<rect x="146.65" y="327.39" width="5.52" height="4.33" fill="#d5d5d5"/>
<rect x="152.63" y="327.39" width="5.52" height="4.33" fill="#d5d5d5"/>
<rect x="158.61" y="327.39" width="5.52" height="4.33" fill="#d5d5d5"/>
<rect x="164.59" y="327.39" width="5.52" height="4.33" fill="#d5d5d5"/>
<rect x="170.57" y="327.39" width="5.52" height="4.33" fill="#d5d5d5"/>
<rect x="176.55" y="327.39" width="5.52" height="4.33" fill="#d5d5d5"/>
<rect x="182.53" y="327.39" width="5.52" height="4.33" fill="#d5d5d5"/>
<rect x="188.51" y="327.39" width="5.52" height="4.33" fill="#a6cee3"/>
<rect x="194.49" y="327.39" width="5.52" height="4.33" fill="#d5d5d5"/>
<rect x="200.47" y="327.39" width="5.52" height="4.33" fill="#d5d5d5"/>
<rect x="206.45" y="327.39" width="5.52" height="4.33" fill="#d5d5d5"/>
<rect x="33.03" y="332.18" width="5.52" height="4.33" fill="#d5d5d5"/>
<rect x="39.01" y="332.18" width="5.52" height="4.33" fill="#d5d5d5"/>
<rect x="44.99" y="332.18" width="5.52" height="4.33" fill="#d5d5d5"/>
<rect x="50.97" y="332.18" width="5.52" height="4.33" fill="#d5d5d5"/>
<rect x="56.95" y="332.18" width="5.52" height="4.33" fill="#d5d5d5"/>
<rect x="62.93" y="332.18" width="5.52" height="4.33" fill="#d5d5d5"/>
<rect x="68.91" y="332.18" width="5.52" height="4.33" fill="#d5d5d5"/>
<rect x="74.89" y="332.18" width="5.52" height="4.33" fill="#d5d5d5"/>
<rect x="80.87" y="332.18" width="5.52" height="4.33" fill="#d5d5d5"/>
<rect x="86.85" y="332.18" width="5.52" height="4.33" fill="#d5d5d5"/>
<rect x="92.83" y="332.18" width="5.52" height="4.33" fill="#d5d5d5"/>
<rect x="98.81" y="332.18" width="5.52" height="4.33" fill="#1f68a9"/>
<rect x="104.79" y="332.18" width="5.52" height="4.33" fill="#d5d5d5"/>
<rect x="110.77" y="332.18" width="5.52" height="4.33" fill="#d5d5d5"/>
<rect x="116.75" y="332.18" width="5.52" height="4.33" fill="#1f68a9"/>
<rect x="122.73" y="332.18" width="5.52" height="4.33" fill="#d5d5d5"/>
<rect x="128.71" y="332.18" width="5.52" height="4.33" fill="#d5d5d5"/>
<rect x="134.69" y="332.18" width="5.52" height="4.33" fill="#d5d5d5"/>
<rect x="140.67" y="332.18" width="5.52" height="4.33" fill="#d5d5d5"/>
<rect x="146.65" y="332.18" width="5.52" height="4.33" fill="#d5d5d5"/>
<rect x="152.63" y="332.18" width="5.52" height="4.33" fill="#d5d5d5"/>
<rect x="158.61" y="332.18" width="5.52" height="4.33" fill="#d5d5d5"/>
<rect x="164.59" y="332.18" width="5.52" height="4.33" fill="#d5d5d5"/>
<rect x="170.57" y="332.18" width="5.52" height="4.33" fill="#d5d5d5"/>
<rect x="176.55" y="332.18" width="5.52" height="4.33" fill="#d5d5d5"/>
<rect x="182.53" y="332.18" width="5.52" height="4.33" fill="#d5d5d5"/>
<rect x="188.51" y="332.18" width="5.52" height="4.33" fill="#d5d5d5"/>
<rect x="194.49" y="332.18" width="5.52" height="4.33" fill="#d5d5d5"/>
<rect x="200.47" y="332.18" width="5.52" height="4.33" fill="#d5d5d5"/>
<rect x="206.45" y="332.18" width="5.52" height="4.33" fill="#d5d5d5"/>
<rect x="33.03" y="336.97" width="5.52" height="4.33" fill="#d5d5d5"/>
<rect x="39.01" y="336.97" width="5.52" height="4.33" fill="#d5d5d5"/>
<rect x="44.99" y="336.97" width="5.52" height="4.33" fill="#d5d5d5"/>
<rect x="50.97" y="336.97" width="5.52" height="4.33" fill="#d5d5d5"/>
<rect x="56.95" y="336.97" width="5.52" height="4.33" fill="#d5d5d5"/>
<rect x="62.93" y="336.97" width="5.52" height="4.33" fill="#d5d5d5"/>
<rect x="68.91" y="336.97" width="5.52" height="4.33" fill="#d5d5d5"/>
<rect x="74.89" y="336.97" width="5.52" height="4.33" fill="#d5d5d5"/>
<rect x="80.87" y="336.97" width="5.52" height="4.33" fill="#d5d5d5"/>
<rect x="86.85" y="336.97" width="5.52" height="4.33" fill="#d5d5d5"/>
<rect x="92.83" y="336.97" width="5.52" height="4.33" fill="#d5d5d5"/>
<rect x="98.81" y="336.97" width="5.52" height="4.33" fill="#a6cee3"/>
<rect x="104.79" y="336.97" width="5.52" height="4.33" fill="#d5d5d5"/>
<rect x="110.77" y="336.97" width="5.52" height="4.33" fill="#1f68a9"/>
<rect x="116.75" y="336.97" width="5.52" height="4.33" fill="#d5d5d5"/>
<rect x="122.73" y="336.97" width="5.52" height="4.33" fill="#d5d5d5"/>
<rect x="128.71" y="336.97" width="5.52" height="4.33" fill="#d5d5d5"/>
<rect x="134.69" y="336.97" width="5.52" height="4.33" fill="#d5d5d5"/>
<rect x="140.67" y="336.97" width="5.52" height="4.33" fill="#d5d5d5"/>
<rect x="146.65" y="336.97" width="5.52" height="4.33" fill="#d5d5d5"/>
<rect x="152.63" y="336.97" width="5.52" height="4.33" fill="#d5d5d5"/>
<rect x="158.61" y="336.97" width="5.52" height="4.33" fill="#d5d5d5"/>
<rect x="164.59" y="336.97" width="5.52" height="4.33" fill="#d5d5d5"/>
<rect x="170.57" y="336.97" width="5.52" height="4.33" fill="#d5d5d5"/>
<rect x="176.55" y="336.97" width="5.52" height="4.33" fill="#d5d5d5"/>
<rect x="182.53" y="336.97" width="5.52" height="4.33" fill="#d5d5d5"/>
<rect x="188.51" y="336.97" width="5.52" height="4.33" fill="#d5d5d5"/>
<rect x="194.49" y="336.97" width="5.52" height="4.33" fill="#d5d5d5"/>
<rect x="200.47" y="336.97" width="5.52" height="4.33" fill="#d5d5d5"/>
<rect x="206.45" y="336.97" width="5.52" height="4.33" fill="#d5d5d5"/>
<rect x="33.03" y="341.76" width="5.52" height="4.33" fill="#d5d5d5"/>
<rect x="39.01" y="341.76" width="5.52" height="4.33" fill="#d5d5d5"/>
<rect x="44.99" y="341.76" width="5.52" height="4.33" fill="#d5d5d5"/>
<rect x="50.97" y="341.76" width="5.52" height="4.33" fill="#d5d5d5"/>
<rect x="56.95" y="341.76" width="5.52" height="4.33" fill="#d5d5d5"/>
<rect x="62.93" y="341.76" width="5.52" height="4.33" fill="#d5d5d5"/>
<rect x="68.91" y="341.76" width="5.52" height="4.33" fill="#d5d5d5"/>
<rect x="74.89" y="341.76" width="5.52" height="4.33" fill="#d5d5d5"/>
<rect x="80.87" y="341.76" width="5.52" height="4.33" fill="#d5d5d5"/>
<rect x="86.85" y="341.76" width="5.52" height="4.33" fill="#d5d5d5"/>
<rect x="92.83" y="341.76" width="5.52" height="4.33" fill="#d5d5d5"/>
<rect x="98.81" y="341.76" width="5.52" height="4.33" fill="#1f68a9"/>
<rect x="104.79" y="341.76" width="5.52" height="4.33" fill="#d5d5d5"/>
<rect x="110.77" y="341.76" width="5.52" height="4.33" fill="#d5d5d5"/>
<rect x="116.75" y="341.76" width="5.52" height="4.33" fill="#d5d5d5"/>
<rect x="122.73" y="341.76" width="5.52" height="4.33" fill="#d5d5d5"/>
<rect x="128.71" y="341.76" width="5.52" height="4.33" fill="#a6cee3"/>
<rect x="134.69" y="341.76" width="5.52" height="4.33" fill="#d5d5d5"/>
<rect x="140.67" y="341.76" width="5.52" height="4.33" fill="#d5d5d5"/>
<rect x="146.65" y="341.76" width="5.52" height="4.33" fill="#d5d5d5"/>
<rect x="152.63" y="341.76" width="5.52" height="4.33" fill="#d5d5d5"/>
<rect x="158.61" y="341.76" width="5.52" height="4.33" fill="#d5d5d5"/>
<rect x="164.59" y="341.76" width="5.52" height="4.33" fill="#d5d5d5"/>
<rect x="170.57" y="341.76" width="5.52" height="4.33" fill="#d5d5d5"/>
<rect x="176.55" y="341.76" width="5.52" height="4.33" fill="#d5d5d5"/>
<rect x="182.53" y="341.76" width="5.52" height="4.33" fill="#d5d5d5"/>
<rect x="188.51" y="341.76" width="5.52" height="4.33" fill="#d5d5d5"/>
<rect x="194.49" y="341.76" width="5.52" height="4.33" fill="#d5d5d5"/>
<rect x="200.47" y="341.76" width="5.52" height="4.33" fill="#d5d5d5"/>
<rect x="206.45" y="341.76" width="5.52" height="4.33" fill="#d5d5d5"/>
<rect x="33.03" y="346.55" width="5.52" height="4.33" fill="#b2df8a"/>
<rect x="39.01" y="346.55" width="5.52" height="4.33" fill="#d5d5d5"/>
<rect x="44.99" y="346.55" width="5.52" height="4.33" fill="#d5d5d5"/>
<rect x="50.97" y="346.55" width="5.52" height="4.33" fill="#d5d5d5"/>
<rect x="56.95" y="346.55" width="5.52" height="4.33" fill="#d5d5d5"/>
<rect x="62.93" y="346.55" width="5.52" height="4.33" fill="#d5d5d5"/>
<rect x="68.91" y="346.55" width="5.52" height="4.33" fill="#d5d5d5"/>
<rect x="74.89" y="346.55" width="5.52" height="4.33" fill="#d5d5d5"/>
<rect x="80.87" y="346.55" width="5.52" height="4.33" fill="#d5d5d5"/>
<rect x="86.85" y="346.55" width="5.52" height="4.33" fill="#d5d5d5"/>
<rect x="92.83" y="346.55" width="5.52" height="4.33" fill="#d5d5d5"/>
<rect x="98.81" y="346.55" width="5.52" height="4.33" fill="#d5d5d5"/>
<rect x="104.79" y="346.55" width="5.52" height="4.33" fill="#d5d5d5"/>
<rect x="110.77" y="346.55" width="5.52" height="4.33" fill="#d5d5d5"/>
<rect x="116.75" y="346.55" width="5.52" height="4.33" fill="#d5d5d5"/>
<rect x="122.73" y="346.55" width="5.52" height="4.33" fill="#d5d5d5"/>
<rect x="128.71" y="346.55" width="5.52" height="4.33" fill="#d5d5d5"/>
<rect x="134.69" y="346.55" width="5.52" height="4.33" fill="#d5d5d5"/>
<rect x="140.67" y="346.55" width="5.52" height="4.33" fill="#d5d5d5"/>
<rect x="146.65" y="346.55" width="5.52" height="4.33" fill="#d5d5d5"/>
<rect x="152.63" y="346.55" width="5.52" height="4.33" fill="#d5d5d5"/>
<rect x="158.61" y="346.55" width="5.52" height="4.33" fill="#1f68a9"/>
<rect x="164.59" y="346.55" width="5.52" height="4.33" fill="#d5d5d5"/>
<rect x="170.57" y="346.55" width="5.52" height="4.33" fill="#d5d5d5"/>
<rect x="176.55" y="346.55" width="5.52" height="4.33" fill="#d5d5d5"/>
<rect x="182.53" y="346.55" width="5.52" height="4.33" fill="#d5d5d5"/>
<rect x="188.51" y="346.55" width="5.52" height="4.33" fill="#d5d5d5"/>
<rect x="194.49" y="346.55" width="5.52" height="4.33" fill="#d5d5d5"/>
<rect x="200.47" y="346.55" width="5.52" height="4.33" fill="#d5d5d5"/>
<rect x="206.45" y="346.55" width="5.52" height="4.33" fill="#d5d5d5"/>
<rect x="33.03" y="351.34" width="5.52" height="4.33" fill="#d5d5d5"/>
<rect x="39.01" y="351.34" width="5.52" height="4.33" fill="#d5d5d5"/>
<rect x="44.99" y="351.34" width="5.52" height="4.33" fill="#d5d5d5"/>
<rect x="50.97" y="351.34" width="5.52" height="4.33" fill="#d5d5d5"/>
<rect x="56.95" y="351.34" width="5.52" height="4.33" fill="#d5d5d5"/>
<rect x="62.93" y="351.34" width="5.52" height="4.33" fill="#d5d5d5"/>
<rect x="68.91" y="351.34" width="5.52" height="4.33" fill="#d5d5d5"/>
<rect x="74.89" y="351.34" width="5.52" height="4.33" fill="#d5d5d5"/>
<rect x="80.87" y="351.34" width="5.52" height="4.33" fill="#d5d5d5"/>
<rect x="86.85" y="351.34" width="5.52" height="4.33" fill="#d5d5d5"/>
<rect x="92.83" y="351.34" width="5.52" height="4.33" fill="#d5d5d5"/>
<rect x="98.81" y="351.34" width="5.52" height="4.33" fill="#2f9a3a"/>
<rect x="104.79" y="351.34" width="5.52" height="4.33" fill="#d5d5d5"/>
<rect x="110.77" y="351.34" width="5.52" height="4.33" fill="#1f68a9"/>
<rect x="116.75" y="351.34" width="5.52" height="4.33" fill="#d5d5d5"/>
<rect x="122.73" y="351.34" width="5.52" height="4.33" fill="#d5d5d5"/>
<rect x="128.71" y="351.34" width="5.52" height="4.33" fill="#d5d5d5"/>
<rect x="134.69" y="351.34" width="5.52" height="4.33" fill="#d5d5d5"/>
<rect x="140.67" y="351.34" width="5.52" height="4.33" fill="#d5d5d5"/>
<rect x="146.65" y="351.34" width="5.52" height="4.33" fill="#d5d5d5"/>
<rect x="152.63" y="351.34" width="5.52" height="4.33" fill="#d5d5d5"/>
<rect x="158.61" y="351.34" width="5.52" height="4.33" fill="#d5d5d5"/>
<rect x="164.59" y="351.34" width="5.52" height="4.33" fill="#d5d5d5"/>
<rect x="170.57" y="351.34" width="5.52" height="4.33" fill="#d5d5d5"/>
<rect x="176.55" y="351.34" width="5.52" height="4.33" fill="#d5d5d5"/>
<rect x="182.53" y="351.34" width="5.52" height="4.33" fill="#d5d5d5"/>
<rect x="188.51" y="351.34" width="5.52" height="4.33" fill="#d5d5d5"/>
<rect x="194.49" y="351.34" width="5.52" height="4.33" fill="#d5d5d5"/>
<rect x="200.47" y="351.34" width="5.52" height="4.33" fill="#d5d5d5"/>
<rect x="206.45" y="351.34" width="5.52" height="4.33" fill="#d5d5d5"/>
<rect x="33.03" y="356.13" width="5.52" height="4.33" fill="#d5d5d5"/>
<rect x="39.01" y="356.13" width="5.52" height="4.33" fill="#d5d5d5"/>
<rect x="44.99" y="356.13" width="5.52" height="4.33" fill="#d5d5d5"/>
<rect x="50.97" y="356.13" width="5.52" height="4.33" fill="#d5d5d5"/>
<rect x="56.95" y="356.13" width="5.52" height="4.33" fill="#d5d5d5"/>
<rect x="62.93" y="356.13" width="5.52" height="4.33" fill="#d5d5d5"/>
<rect x="68.91" y="356.13" width="5.52" height="4.33" fill="#d5d5d5"/>
<rect x="74.89" y="356.13" width="5.52" height="4.33" fill="#d5d5d5"/>
<rect x="80.87" y="356.13" width="5.52" height="4.33" fill="#d5d5d5"/>
<rect x="86.85" y="356.13" width="5.52" height="4.33" fill="#d5d5d5"/>
<rect x="92.83" y="356.13" width="5.52" height="4.33" fill="#d5d5d5"/>
<rect x="98.81" y="356.13" width="5.52" height="4.33" fill="#a6cee3"/>
<rect x="104.79" y="356.13" width="5.52" height="4.33" fill="#d5d5d5"/>
<rect x="110.77" y="356.13" width="5.52" height="4.33" fill="#d5d5d5"/>
<rect x="116.75" y="356.13" width="5.52" height="4.33" fill="#d5d5d5"/>
<rect x="122.73" y="356.13" width="5.52" height="4.33" fill="#d5d5d5"/>
<rect x="128.71" y="356.13" width="5.52" height="4.33" fill="#d5d5d5"/>
<rect x="134.69" y="356.13" width="5.52" height="4.33" fill="#d5d5d5"/>
<rect x="140.67" y="356.13" width="5.52" height="4.33" fill="#d5d5d5"/>
<rect x="146.65" y="356.13" width="5.52" height="4.33" fill="#d5d5d5"/>
<rect x="152.63" y="356.13" width="5.52" height="4.33" fill="#d5d5d5"/>
<rect x="158.61" y="356.13" width="5.52" height="4.33" fill="#1f68a9"/>
<rect x="164.59" y="356.13" width="5.52" height="4.33" fill="#d5d5d5"/>
<rect x="170.57" y="356.13" width="5.52" height="4.33" fill="#d5d5d5"/>
<rect x="176.55" y="356.13" width="5.52" height="4.33" fill="#d5d5d5"/>
<rect x="182.53" y="356.13" width="5.52" height="4.33" fill="#d5d5d5"/>
<rect x="188.51" y="356.13" width="5.52" height="4.33" fill="#d5d5d5"/>
<rect x="194.49" y="356.13" width="5.52" height="4.33" fill="#d5d5d5"/>
<rect x="200.47" y="356.13" width="5.52" height="4.33" fill="#d5d5d5"/>
<rect x="206.45" y="356.13" width="5.52" height="4.33" fill="#d5d5d5"/>
<rect x="33.03" y="360.92" width="5.52" height="4.33" fill="#d5d5d5"/>
<rect x="39.01" y="360.92" width="5.52" height="4.33" fill="#d5d5d5"/>
<rect x="44.99" y="360.92" width="5.52" height="4.33" fill="#d5d5d5"/>
<rect x="50.97" y="360.92" width="5.52" height="4.33" fill="#d5d5d5"/>
<rect x="56.95" y="360.92" width="5.52" height="4.33" fill="#d5d5d5"/>
<rect x="62.93" y="360.92" width="5.52" height="4.33" fill="#d5d5d5"/>
<rect x="68.91" y="360.92" width="5.52" height="4.33" fill="#d5d5d5"/>
<rect x="74.89" y="360.92" width="5.52" height="4.33" fill="#d5d5d5"/>
<rect x="80.87" y="360.92" width="5.52" height="4.33" fill="#d5d5d5"/>
<rect x="86.85" y="360.92" width="5.52" height="4.33" fill="#d5d5d5"/>
<rect x="92.83" y="360.92" width="5.52" height="4.33" fill="#d5d5d5"/>
<rect x="98.81" y="360.92" width="5.52" height="4.33" fill="#d5d5d5"/>
<rect x="104.79" y="360.92" width="5.52" height="4.33" fill="#d5d5d5"/>
<rect x="110.77" y="360.92" width="5.52" height="4.33" fill="#d5d5d5"/>
<rect x="116.75" y="360.92" width="5.52" height="4.33" fill="#d5d5d5"/>
<rect x="122.73" y="360.92" width="5.52" height="4.33" fill="#d5d5d5"/>
<rect x="128.71" y="360.92" width="5.52" height="4.33" fill="#d5d5d5"/>
<rect x="134.69" y="360.92" width="5.52" height="4.33" fill="#d5d5d5"/>
<rect x="140.67" y="360.92" width="5.52" height="4.33" fill="#d5d5d5"/>
<rect x="146.65" y="360.92" width="5.52" height="4.33" fill="#d5d5d5"/>
<rect x="152.63" y="360.92" width="5.52" height="4.33" fill="#1f68a9"/>
<rect x="158.61" y="360.92" width="5.52" height="4.33" fill="#d5d5d5"/>
<rect x="164.59" y="360.92" width="5.52" height="4.33" fill="#d5d5d5"/>
<rect x="170.57" y="360.92" width="5.52" height="4.33" fill="#d5d5d5"/>
<rect x="176.55" y="360.92" width="5.52" height="4.33" fill="#d5d5d5"/>
<rect x="182.53" y="360.92" width="5.52" height="4.33" fill="#d5d5d5"/>
<rect x="188.51" y="360.92" width="5.52" height="4.33" fill="#d5d5d5"/>
<rect x="194.49" y="360.92" width="5.52" height="4.33" fill="#d5d5d5"/>
<rect x="200.47" y="360.92" width="5.52" height="4.33" fill="#1f68a9"/>
<rect x="206.45" y="360.92" width="5.52" height="4.33" fill="#d5d5d5"/>
<rect x="33.03" y="365.71" width="5.52" height="4.33" fill="#d5d5d5"/>
<rect x="39.01" y="365.71" width="5.52" height="4.33" fill="#d5d5d5"/>
<rect x="44.99" y="365.71" width="5.52" height="4.33" fill="#d5d5d5"/>
<rect x="50.97" y="365.71" width="5.52" height="4.33" fill="#d5d5d5"/>
<rect x="56.95" y="365.71" width="5.52" height="4.33" fill="#d5d5d5"/>
<rect x="62.93" y="365.71" width="5.52" height="4.33" fill="#d5d5d5"/>
<rect x="68.91" y="365.71" width="5.52" height="4.33" fill="#d5d5d5"/>
<rect x="74.89" y="365.71" width="5.52" height="4.33" fill="#d5d5d5"/>
<rect x="80.87" y="365.71" width="5.52" height="4.33" fill="#d5d5d5"/>
<rect x="86.85" y="365.71" width="5.52" height="4.33" fill="#d5d5d5"/>
<rect x="92.83" y="365.71" width="5.52" height="4.33" fill="#d5d5d5"/>
<rect x="98.81" y="365.71" width="5.52" height="4.33" fill="#d5d5d5"/>
<rect x="104.79" y="365.71" width="5.52" height="4.33" fill="#d5d5d5"/>
<rect x="110.77" y="365.71" width="5.52" height="4.33" fill="#d5d5d5"/>
<rect x="116.75" y="365.71" width="5.52" height="4.33" fill="#1f68a9"/>
<rect x="122.73" y="365.71" width="5.52" height="4.33" fill="#d5d5d5"/>
<rect x="128.71" y="365.71" width="5.52" height="4.33" fill="#1f68a9"/>
<rect x="134.69" y="365.71" width="5.52" height="4.33" fill="#d5d5d5"/>
<rect x="140.67" y="365.71" width="5.52" height="4.33" fill="#d5d5d5"/>
<rect x="146.65" y="365.71" width="5.52" height="4.33" fill="#d5d5d5"/>
<rect x="152.63" y="365.71" width="5.52" height="4.33" fill="#d5d5d5"/>
<rect x="158.61" y="365.71" width="5.52" height="4.33" fill="#d5d5d5"/>
<rect x="164.59" y="365.71" width="5.52" height="4.33" fill="#d5d5d5"/>
<rect x="170.57" y="365.71" width="5.52" height="4.33" fill="#d5d5d5"/>
<rect x="176.55" y="365.71" width="5.52" height="4.33" fill="#d5d5d5"/>
<rect x="182.53" y="365.71" width="5.52" height="4.33" fill="#d5d5d5"/>
<rect x="188.51" y="365.71" width="5.52" height="4.33" fill="#d5d5d5"/>
<rect x="194.49" y="365.71" width="5.52" height="4.33" fill="#d5d5d5"/>
<rect x="200.47" y="365.71" width="5.52" height="4.33" fill="#d5d5d5"/>
<rect x="206.45" y="365.71" width="5.52" height="4.33" fill="#d5d5d5"/>
<rect x="33.03" y="370.50" width="5.52" height="4.33" fill="#d5d5d5"/>
<rect x="39.01" y="370.50" width="5.52" height="4.33" fill="#d5d5d5"/>
<rect x="44.99" y="370.50" width="5.52" height="4.33" fill="#d5d5d5"/>
<rect x="50.97" y="370.50" width="5.52" height="4.33" fill="#d5d5d5"/>
<rect x="56.95" y="370.50" width="5.52" height="4.33" fill="#d5d5d5"/>
<rect x="62.93" y="370.50" width="5.52" height="4.33" fill="#d5d5d5"/>
<rect x="68.91" y="370.50" width="5.52" height="4.33" fill="#d5d5d5"/>
<rect x="74.89" y="370.50" width="5.52" height="4.33" fill="#d5d5d5"/>
<rect x="80.87" y="370.50" width="5.52" height="4.33" fill="#d5d5d5"/>
<rect x="86.85" y="370.50" width="5.52" height="4.33" fill="#d5d5d5"/>
<rect x="92.83" y="370.50" width="5.52" height="4.33" fill="#d5d5d5"/>
<rect x="98.81" y="370.50" width="5.52" height="4.33" fill="#d5d5d5"/>
<rect x="104.79" y="370.50" width="5.52" height="4.33" fill="#d5d5d5"/>
<rect x="110.77" y="370.50" width="5.52" height="4.33" fill="#2f9a3a"/>
<rect x="116.75" y="370.50" width="5.52" height="4.33" fill="#d5d5d5"/>
<rect x="122.73" y="370.50" width="5.52" height="4.33" fill="#d5d5d5"/>
<rect x="128.71" y="370.50" width="5.52" height="4.33" fill="#d5d5d5"/>
<rect x="134.69" y="370.50" width="5.52" height="4.33" fill="#d5d5d5"/>
<rect x="140.67" y="370.50" width="5.52" height="4.33" fill="#d5d5d5"/>
<rect x="146.65" y="370.50" width="5.52" height="4.33" fill="#d5d5d5"/>
<rect x="152.63" y="370.50" width="5.52" height="4.33" fill="#d5d5d5"/>
<rect x="158.61" y="370.50" width="5.52" height="4.33" fill="#d5d5d5"/>
<rect x="164.59" y="370.50" width="5.52" height="4.33" fill="#d5d5d5"/>
<rect x="170.57" y="370.50" width="5.52" height="4.33" fill="#d5d5d5"/>
<rect x="176.55" y="370.50" width="5.52" height="4.33" fill="#d5d5d5"/>
<rect x="182.53" y="370.50" width="5.52" height="4.33" fill="#d5d5d5"/>
<rect x="188.51" y="370.50" width="5.52" height="4.33" fill="#d5d5d5"/>
<rect x="194.49" y="370.50" width="5.52" height="4.33" fill="#1f68a9"/>
<rect x="200.47" y="370.50" width="5.52" height="4.33" fill="#d5d5d5"/>
<rect x="206.45" y="370.50" width="5.52" height="4.33" fill="#d5d5d5"/>
<rect x="33.03" y="375.29" width="5.52" height="4.33" fill="#d5d5d5"/>
<rect x="39.01" y="375.29" width="5.52" height="4.33" fill="#d5d5d5"/>
<rect x="44.99" y="375.29" width="5.52" height="4.33" fill="#d5d5d5"/>
<rect x="50.97" y="375.29" width="5.52" height="4.33" fill="#d5d5d5"/>
<rect x="56.95" y="375.29" width="5.52" height="4.33" fill="#d5d5d5"/>
<rect x="62.93" y="375.29" width="5.52" height="4.33" fill="#d5d5d5"/>
<rect x="68.91" y="375.29" width="5.52" height="4.33" fill="#d5d5d5"/>
<rect x="74.89" y="375.29" width="5.52" height="4.33" fill="#d5d5d5"/>
<rect x="80.87" y="375.29" width="5.52" height="4.33" fill="#d5d5d5"/>
<rect x="86.85" y="375.29" width="5.52" height="4.33" fill="#d5d5d5"/>
<rect x="92.83" y="375.29" width="5.52" height="4.33" fill="#d5d5d5"/>
<rect x="98.81" y="375.29" width="5.52" height="4.33" fill="#d5d5d5"/>
<rect x="104.79" y="375.29" width="5.52" height="4.33" fill="#1f68a9"/>
<rect x="110.77" y="375.29" width="5.52" height="4.33" fill="#d5d5d5"/>
<rect x="116.75" y="375.29" width="5.52" height="4.33" fill="#d5d5d5"/>
<rect x="122.73" y="375.29" width="5.52" height="4.33" fill="#d5d5d5"/>
<rect x="128.71" y="375.29" width="5.52" height="4.33" fill="#1f68a9"/>
<rect x="134.69" y="375.29" width="5.52" height="4.33" fill="#d5d5d5"/>
<rect x="140.67" y="375.29" width="5.52" height="4.33" fill="#d5d5d5"/>
<rect x="146.65" y="375.29" width="5.52" height="4.33" fill="#d5d5d5"/>
<rect x="152.63" y="375.29" width="5.52" height="4.33" fill="#d5d5d5"/>
<rect x="158.61" y="375.29" width="5.52" height="4.33" fill="#d5d5d5"/>
<rect x="164.59" y="375.29" width="5.52" height="4.33" fill="#d5d5d5"/>
<rect x="170.57" y="375.29" width="5.52" height="4.33" fill="#d5d5d5"/>
<rect x="176.55" y="375.29" width="5.52" height="4.33" fill="#d5d5d5"/>
<rect x="182.53" y="375.29" width="5.52" height="4.33" fill="#d5d5d5"/>
<rect x="188.51" y="375.29" width="5.52" height="4.33" fill="#d5d5d5"/>
<rect x="194.49" y="375.29" width="5.52" height="4.33" fill="#d5d5d5"/>
<rect x="200.47" y="375.29" width="5.52" height="4.33" fill="#d5d5d5"/>
<rect x="206.45" y="375.29" width="5.52" height="4.33" fill="#d5d5d5"/>
<rect x="33.03" y="380.08" width="5.52" height="4.33" fill="#1f68a9"/>
<rect x="39.01" y="380.08" width="5.52" height="4.33" fill="#d5d5d5"/>
<rect x="44.99" y="380.08" width="5.52" height="4.33" fill="#d5d5d5"/>
<rect x="50.97" y="380.08" width="5.52" height="4.33" fill="#d5d5d5"/>
<rect x="56.95" y="380.08" width="5.52" height="4.33" fill="#d5d5d5"/>
<rect x="62.93" y="380.08" width="5.52" height="4.33" fill="#d5d5d5"/>
<rect x="68.91" y="380.08" width="5.52" height="4.33" fill="#d5d5d5"/>
<rect x="74.89" y="380.08" width="5.52" height="4.33" fill="#d5d5d5"/>
<rect x="80.87" y="380.08" width="5.52" height="4.33" fill="#d5d5d5"/>
<rect x="86.85" y="380.08" width="5.52" height="4.33" fill="#d5d5d5"/>
<rect x="92.83" y="380.08" width="5.52" height="4.33" fill="#d5d5d5"/>
<rect x="98.81" y="380.08" width="5.52" height="4.33" fill="#d5d5d5"/>
<rect x="104.79" y="380.08" width="5.52" height="4.33" fill="#d5d5d5"/>
<rect x="110.77" y="380.08" width="5.52" height="4.33" fill="#d5d5d5"/>
<rect x="116.75" y="380.08" width="5.52" height="4.33" fill="#d5d5d5"/>
<rect x="122.73" y="380.08" width="5.52" height="4.33" fill="#d5d5d5"/>
<rect x="128.71" y="380.08" width="5.52" height="4.33" fill="#d5d5d5"/>
<rect x="134.69" y="380.08" width="5.52" height="4.33" fill="#d5d5d5"/>
<rect x="140.67" y="380.08" width="5.52" height="4.33" fill="#d5d5d5"/>
<rect x="146.65" y="380.08" width="5.52" height="4.33" fill="#d5d5d5"/>
<rect x="152.63" y="380.08" width="5.52" height="4.33" fill="#d5d5d5"/>
<rect x="158.61" y="380.08" width="5.52" height="4.33" fill="#1f68a9"/>
<rect x="164.59" y="380.08" width="5.52" height="4.33" fill="#d5d5d5"/>
<rect x="170.57" y="380.08" width="5.52" height="4.33" fill="#d5d5d5"/>
<rect x="176.55" y="380.08" width="5.52" height="4.33" fill="#d5d5d5"/>
<rect x="182.53" y="380.08" width="5.52" height="4.33" fill="#d5d5d5"/>
<rect x="188.51" y="380.08" width="5.52" height="4.33" fill="#d5d5d5"/>
<rect x="194.49" y="380.08" width="5.52" height="4.33" fill="#d5d5d5"/>
<rect x="200.47" y="380.08" width="5.52" height="4.33" fill="#d5d5d5"/>
<rect x="206.45" y="380.08" width="5.52" height="4.33" fill="#d5d5d5"/>
<rect x="33.03" y="384.87" width="5.52" height="4.33" fill="#1f68a9"/>
<rect x="39.01" y="384.87" width="5.52" height="4.33" fill="#d5d5d5"/>
<rect x="44.99" y="384.87" width="5.52" height="4.33" fill="#d5d5d5"/>
<rect x="50.97" y="384.87" width="5.52" height="4.33" fill="#d5d5d5"/>
<rect x="56.95" y="384.87" width="5.52" height="4.33" fill="#d5d5d5"/>
<rect x="62.93" y="384.87" width="5.52" height="4.33" fill="#d5d5d5"/>
<rect x="68.91" y="384.87" width="5.52" height="4.33" fill="#d5d5d5"/>
<rect x="74.89" y="384.87" width="5.52" height="4.33" fill="#d5d5d5"/>
<rect x="80.87" y="384.87" width="5.52" height="4.33" fill="#d5d5d5"/>
<rect x="86.85" y="384.87" width="5.52" height="4.33" fill="#d5d5d5"/>
<rect x="92.83" y="384.87" width="5.52" height="4.33" fill="#d5d5d5"/>
<rect x="98.81" y="384.87" width="5.52" height="4.33" fill="#d5d5d5"/>
<rect x="104.79" y="384.87" width="5.52" height="4.33" fill="#d5d5d5"/>
<rect x="110.77" y="384.87" width="5.52" height="4.33" fill="#d5d5d5"/>
<rect x="116.75" y="384.87" width="5.52" height="4.33" fill="#d5d5d5"/>
<rect x="122.73" y="384.87" width="5.52" height="4.33" fill="#d5d5d5"/>
<rect x="128.71" y="384.87" width="5.52" height="4.33" fill="#d5d5d5"/>
<rect x="134.69" y="384.87" width="5.52" height="4.33" fill="#d5d5d5"/>
<rect x="140.67" y="384.87" width="5.52" height="4.33" fill="#d5d5d5"/>
<rect x="146.65" y="384.87" width="5.52" height="4.33" fill="#1f68a9"/>
<rect x="152.63" y="384.87" width="5.52" height="4.33" fill="#d5d5d5"/>
<rect x="158.61" y="384.87" width="5.52" height="4.33" fill="#d5d5d5"/>
<rect x="164.59" y="384.87" width="5.52" height="4.33" fill="#d5d5d5"/>
<rect x="170.57" y="384.87" width="5.52" height="4.33" fill="#d5d5d5"/>
<rect x="176.55" y="384.87" width="5.52" height="4.33" fill="#d5d5d5"/>
<rect x="182.53" y="384.87" width="5.52" height="4.33" fill="#d5d5d5"/>
<rect x="188.51" y="384.87" width="5.52" height="4.33" fill="#d5d5d5"/>
<rect x="194.49" y="384.87" width="5.52" height="4.33" fill="#d5d5d5"/>
<rect x="200.47" y="384.87" width="5.52" height="4.33" fill="#d5d5d5"/>
<rect x="206.45" y="384.87" width="5.52" height="4.33" fill="#d5d5d5"/>
<rect x="33.03" y="389.66" width="5.52" height="4.33" fill="#d5d5d5"/>
<rect x="39.01" y="389.66" width="5.52" height="4.33" fill="#d5d5d5"/>
<rect x="44.99" y="389.66" width="5.52" height="4.33" fill="#d5d5d5"/>
<rect x="50.97" y="389.66" width="5.52" height="4.33" fill="#d5d5d5"/>
<rect x="56.95" y="389.66" width="5.52" height="4.33" fill="#d5d5d5"/>
<rect x="62.93" y="389.66" width="5.52" height="4.33" fill="#d5d5d5"/>
<rect x="68.91" y="389.66" width="5.52" height="4.33" fill="#d5d5d5"/>
<rect x="74.89" y="389.66" width="5.52" height="4.33" fill="#d5d5d5"/>
<rect x="80.87" y="389.66" width="5.52" height="4.33" fill="#d5d5d5"/>
<rect x="86.85" y="389.66" width="5.52" height="4.33" fill="#d5d5d5"/>
<rect x="92.83" y="389.66" width="5.52" height="4.33" fill="#d5d5d5"/>
<rect x="98.81" y="389.66" width="5.52" height="4.33" fill="#d5d5d5"/>
<rect x="104.79" y="389.66" width="5.52" height="4.33" fill="#d5d5d5"/>
<rect x="110.77" y="389.66" width="5.52" height="4.33" fill="#d5d5d5"/>
<rect x="116.75" y="389.66" width="5.52" height="4.33" fill="#d5d5d5"/>
<rect x="122.73" y="389.66" width="5.52" height="4.33" fill="#d5d5d5"/>
<rect x="128.71" y="389.66" width="5.52" height="4.33" fill="#d5d5d5"/>
<rect x="134.69" y="389.66" width="5.52" height="4.33" fill="#d5d5d5"/>
<rect x="140.67" y="389.66" width="5.52" height="4.33" fill="#2f9a3a"/>
<rect x="146.65" y="389.66" width="5.52" height="4.33" fill="#d5d5d5"/>
<rect x="152.63" y="389.66" width="5.52" height="4.33" fill="#d5d5d5"/>
<rect x="158.61" y="389.66" width="5.52" height="4.33" fill="#d5d5d5"/>
<rect x="164.59" y="389.66" width="5.52" height="4.33" fill="#d5d5d5"/>
<rect x="170.57" y="389.66" width="5.52" height="4.33" fill="#d5d5d5"/>
<rect x="176.55" y="389.66" width="5.52" height="4.33" fill="#d5d5d5"/>
<rect x="182.53" y="389.66" width="5.52" height="4.33" fill="#d5d5d5"/>
<rect x="188.51" y="389.66" width="5.52" height="4.33" fill="#2f9a3a"/>
<rect x="194.49" y="389.66" width="5.52" height="4.33" fill="#d5d5d5"/>
<rect x="200.47" y="389.66" width="5.52" height="4.33" fill="#d5d5d5"/>
<rect x="206.45" y="389.66" width="5.52" height="4.33" fill="#d5d5d5"/>
<rect x="33.03" y="394.45" width="5.52" height="4.33" fill="#d5d5d5"/>
<rect x="39.01" y="394.45" width="5.52" height="4.33" fill="#d5d5d5"/>
<rect x="44.99" y="394.45" width="5.52" height="4.33" fill="#d5d5d5"/>
<rect x="50.97" y="394.45" width="5.52" height="4.33" fill="#d5d5d5"/>
<rect x="56.95" y="394.45" width="5.52" height="4.33" fill="#d5d5d5"/>
<rect x="62.93" y="394.45" width="5.52" height="4.33" fill="#d5d5d5"/>
<rect x="68.91" y="394.45" width="5.52" height="4.33" fill="#d5d5d5"/>
<rect x="74.89" y="394.45" width="5.52" height="4.33" fill="#d5d5d5"/>
<rect x="80.87" y="394.45" width="5.52" height="4.33" fill="#d5d5d5"/>
<rect x="86.85" y="394.45" width="5.52" height="4.33" fill="#d5d5d5"/>
<rect x="92.83" y="394.45" width="5.52" height="4.33" fill="#d5d5d5"/>
<rect x="98.81" y="394.45" width="5.52" height="4.33" fill="#2f9a3a"/>
<rect x="104.79" y="394.45" width="5.52" height="4.33" fill="#1f68a9"/>
<rect x="110.77" y="394.45" width="5.52" height="4.33" fill="#d5d5d5"/>
<rect x="116.75" y="394.45" width="5.52" height="4.33" fill="#d5d5d5"/>
<rect x="122.73" y="394.45" width="5.52" height="4.33" fill="#d5d5d5"/>
<rect x="128.71" y="394.45" width="5.52" height="4.33" fill="#d5d5d5"/>
<rect x="134.69" y="394.45" width="5.52" height="4.33" fill="#d5d5d5"/>
<rect x="140.67" y="394.45" width="5.52" height="4.33" fill="#d5d5d5"/>
<rect x="146.65" y="394.45" width="5.52" height="4.33" fill="#d5d5d5"/>
<rect x="152.63" y="394.45" width="5.52" height="4.33" fill="#d5d5d5"/>
<rect x="158.61" y="394.45" width="5.52" height="4.33" fill="#d5d5d5"/>
<rect x="164.59" y="394.45" width="5.52" height="4.33" fill="#d5d5d5"/>
<rect x="170.57" y="394.45" width="5.52" height="4.33" fill="#d5d5d5"/>
<rect x="176.55" y="394.45" width="5.52" height="4.33" fill="#d5d5d5"/>
<rect x="182.53" y="394.45" width="5.52" height="4.33" fill="#d5d5d5"/>
<rect x="188.51" y="394.45" width="5.52" height="4.33" fill="#d5d5d5"/>
<rect x="194.49" y="394.45" width="5.52" height="4.33" fill="#d5d5d5"/>
<rect x="200.47" y="394.45" width="5.52" height="4.33" fill="#d5d5d5"/>
<rect x="206.45" y="394.45" width="5.52" height="4.33" fill="#d5d5d5"/>
<rect x="33.03" y="399.24" width="5.52" height="4.33" fill="#1f68a9"/>
<rect x="39.01" y="399.24" width="5.52" height="4.33" fill="#d5d5d5"/>
<rect x="44.99" y="399.24" width="5.52" height="4.33" fill="#d5d5d5"/>
<rect x="50.97" y="399.24" width="5.52" height="4.33" fill="#d5d5d5"/>
<rect x="56.95" y="399.24" width="5.52" height="4.33" fill="#d5d5d5"/>
<rect x="62.93" y="399.24" width="5.52" height="4.33" fill="#d5d5d5"/>
<rect x="68.91" y="399.24" width="5.52" height="4.33" fill="#d5d5d5"/>
<rect x="74.89" y="399.24" width="5.52" height="4.33" fill="#d5d5d5"/>
<rect x="80.87" y="399.24" width="5.52" height="4.33" fill="#d5d5d5"/>
<rect x="86.85" y="399.24" width="5.52" height="4.33" fill="#d5d5d5"/>
<rect x="92.83" y="399.24" width="5.52" height="4.33" fill="#d5d5d5"/>
<rect x="98.81" y="399.24" width="5.52" height="4.33" fill="#d5d5d5"/>
<rect x="104.79" y="399.24" width="5.52" height="4.33" fill="#d5d5d5"/>
<rect x="110.77" y="399.24" width="5.52" height="4.33" fill="#1f68a9"/>
<rect x="116.75" y="399.24" width="5.52" height="4.33" fill="#d5d5d5"/>
<rect x="122.73" y="399.24" width="5.52" height="4.33" fill="#d5d5d5"/>
<rect x="128.71" y="399.24" width="5.52" height="4.33" fill="#d5d5d5"/>
<rect x="134.69" y="399.24" width="5.52" height="4.33" fill="#d5d5d5"/>
<rect x="140.67" y="399.24" width="5.52" height="4.33" fill="#d5d5d5"/>
<rect x="146.65" y="399.24" width="5.52" height="4.33" fill="#d5d5d5"/>
<rect x="152.63" y="399.24" width="5.52" height="4.33" fill="#d5d5d5"/>
<rect x="158.61" y="399.24" width="5.52" height="4.33" fill="#d5d5d5"/>
<rect x="164.59" y="399.24" width="5.52" height="4.33" fill="#d5d5d5"/>
<rect x="170.57" y="399.24" width="5.52" height="4.33" fill="#d5d5d5"/>
<rect x="176.55" y="399.24" width="5.52" height="4.33" fill="#d5d5d5"/>
<rect x="182.53" y="399.24" width="5.52" height="4.33" fill="#d5d5d5"/>
<rect x="188.51" y="399.24" width="5.52" height="4.33" fill="#d5d5d5"/>
<rect x="194.49" y="399.24" width="5.52" height="4.33" fill="#d5d5d5"/>
<rect x="200.47" y="399.24" width="5.52" height="4.33" fill="#d5d5d5"/>
<rect x="206.45" y="399.24" width="5.52" height="4.33" fill="#d5d5d5"/>
<rect x="33.03" y="404.03" width="5.52" height="4.33" fill="#1f68a9"/>
<rect x="39.01" y="404.03" width="5.52" height="4.33" fill="#d5d5d5"/>
<rect x="44.99" y="404.03" width="5.52" height="4.33" fill="#d5d5d5"/>
<rect x="50.97" y="404.03" width="5.52" height="4.33" fill="#d5d5d5"/>
<rect x="56.95" y="404.03" width="5.52" height="4.33" fill="#d5d5d5"/>
<rect x="62.93" y="404.03" width="5.52" height="4.33" fill="#d5d5d5"/>
<rect x="68.91" y="404.03" width="5.52" height="4.33" fill="#d5d5d5"/>
<rect x="74.89" y="404.03" width="5.52" height="4.33" fill="#d5d5d5"/>
<rect x="80.87" y="404.03" width="5.52" height="4.33" fill="#d5d5d5"/>
<rect x="86.85" y="404.03" width="5.52" height="4.33" fill="#d5d5d5"/>
<rect x="92.83" y="404.03" width="5.52" height="4.33" fill="#d5d5d5"/>
<rect x="98.81" y="404.03" width="5.52" height="4.33" fill="#d5d5d5"/>
<rect x="104.79" y="404.03" width="5.52" height="4.33" fill="#d5d5d5"/>
<rect x="110.77" y="404.03" width="5.52" height="4.33" fill="#d5d5d5"/>
<rect x="116.75" y="404.03" width="5.52" height="4.33" fill="#1f68a9"/>
<rect x="122.73" y="404.03" width="5.52" height="4.33" fill="#d5d5d5"/>
<rect x="128.71" y="404.03" width="5.52" height="4.33" fill="#d5d5d5"/>
<rect x="134.69" y="404.03" width="5.52" height="4.33" fill="#d5d5d5"/>
<rect x="140.67" y="404.03" width="5.52" height="4.33" fill="#d5d5d5"/>
<rect x="146.65" y="404.03" width="5.52" height="4.33" fill="#d5d5d5"/>
<rect x="152.63" y="404.03" width="5.52" height="4.33" fill="#d5d5d5"/>
<rect x="158.61" y="404.03" width="5.52" height="4.33" fill="#d5d5d5"/>
<rect x="164.59" y="404.03" width="5.52" height="4.33" fill="#d5d5d5"/>
<rect x="170.57" y="404.03" width="5.52" height="4.33" fill="#d5d5d5"/>
<rect x="176.55" y="404.03" width="5.52" height="4.33" fill="#d5d5d5"/>
<rect x="182.53" y="404.03" width="5.52" height="4.33" fill="#d5d5d5"/>
<rect x="188.51" y="404.03" width="5.52" height="4.33" fill="#d5d5d5"/>
<rect x="194.49" y="404.03" width="5.52" height="4.33" fill="#d5d5d5"/>
<rect x="200.47" y="404.03" width="5.52" height="4.33" fill="#d5d5d5"/>
<rect x="206.45" y="404.03" width="5.52" height="4.33" fill="#d5d5d5"/>
<rect x="33.03" y="408.82" width="5.52" height="4.33" fill="#d5d5d5"/>
<rect x="39.01" y="408.82" width="5.52" height="4.33" fill="#d5d5d5"/>
<rect x="44.99" y="408.82" width="5.52" height="4.33" fill="#d5d5d5"/>
<rect x="50.97" y="408.82" width="5.52" height="4.33" fill="#d5d5d5"/>
<rect x="56.95" y="408.82" width="5.52" height="4.33" fill="#1f68a9"/>
<rect x="62.93" y="408.82" width="5.52" height="4.33" fill="#d5d5d5"/>
<rect x="68.91" y="408.82" width="5.52" height="4.33" fill="#d5d5d5"/>
<rect x="74.89" y="408.82" width="5.52" height="4.33" fill="#d5d5d5"/>
<rect x="80.87" y="408.82" width="5.52" height="4.33" fill="#d5d5d5"/>
<rect x="86.85" y="408.82" width="5.52" height="4.33" fill="#d5d5d5"/>
<rect x="92.83" y="408.82" width="5.52" height="4.33" fill="#d5d5d5"/>
<rect x="98.81" y="408.82" width="5.52" height="4.33" fill="#d5d5d5"/>
<rect x="104.79" y="408.82" width="5.52" height="4.33" fill="#d5d5d5"/>
<rect x="110.77" y="408.82" width="5.52" height="4.33" fill="#d5d5d5"/>
<rect x="116.75" y="408.82" width="5.52" height="4.33" fill="#1f68a9"/>
<rect x="122.73" y="408.82" width="5.52" height="4.33" fill="#d5d5d5"/>
<rect x="128.71" y="408.82" width="5.52" height="4.33" fill="#d5d5d5"/>
<rect x="134.69" y="408.82" width="5.52" height="4.33" fill="#d5d5d5"/>
<rect x="140.67" y="408.82" width="5.52" height="4.33" fill="#d5d5d5"/>
<rect x="146.65" y="408.82" width="5.52" height="4.33" fill="#d5d5d5"/>
<rect x="152.63" y="408.82" width="5.52" height="4.33" fill="#d5d5d5"/>
<rect x="158.61" y="408.82" width="5.52" height="4.33" fill="#d5d5d5"/>
<rect x="164.59" y="408.82" width="5.52" height="4.33" fill="#d5d5d5"/>
<rect x="170.57" y="408.82" width="5.52" height="4.33" fill="#d5d5d5"/>
<rect x="176.55" y="408.82" width="5.52" height="4.33" fill="#d5d5d5"/>
<rect x="182.53" y="408.82" width="5.52" height="4.33" fill="#d5d5d5"/>
<rect x="188.51" y="408.82" width="5.52" height="4.33" fill="#d5d5d5"/>
<rect x="194.49" y="408.82" width="5.52" height="4.33" fill="#d5d5d5"/>
<rect x="200.47" y="408.82" width="5.52" height="4.33" fill="#d5d5d5"/>
<rect x="206.45" y="408.82" width="5.52" height="4.33" fill="#d5d5d5"/>
<rect x="33.03" y="413.61" width="5.52" height="4.33" fill="#d5d5d5"/>
<rect x="39.01" y="413.61" width="5.52" height="4.33" fill="#d5d5d5"/>
<rect x="44.99" y="413.61" width="5.52" height="4.33" fill="#d5d5d5"/>
<rect x="50.97" y="413.61" width="5.52" height="4.33" fill="#d5d5d5"/>
<rect x="56.95" y="413.61" width="5.52" height="4.33" fill="#d5d5d5"/>
<rect x="62.93" y="413.61" width="5.52" height="4.33" fill="#d5d5d5"/>
<rect x="68.91" y="413.61" width="5.52" height="4.33" fill="#d5d5d5"/>
<rect x="74.89" y="413.61" width="5.52" height="4.33" fill="#d5d5d5"/>
<rect x="80.87" y="413.61" width="5.52" height="4.33" fill="#d5d5d5"/>
<rect x="86.85" y="413.61" width="5.52" height="4.33" fill="#d5d5d5"/>
<rect x="92.83" y="413.61" width="5.52" height="4.33" fill="#d5d5d5"/>
<rect x="98.81" y="413.61" width="5.52" height="4.33" fill="#d5d5d5"/>
<rect x="104.79" y="413.61" width="5.52" height="4.33" fill="#d5d5d5"/>
<rect x="110.77" y="413.61" width="5.52" height="4.33" fill="#d5d5d5"/>
<rect x="116.75" y="413.61" width="5.52" height="4.33" fill="#d5d5d5"/>
<rect x="122.73" y="413.61" width="5.52" height="4.33" fill="#d5d5d5"/>
<rect x="128.71" y="413.61" width="5.52" height="4.33" fill="#d5d5d5"/>
<rect x="134.69" y="413.61" width="5.52" height="4.33" fill="#d5d5d5"/>
<rect x="140.67" y="413.61" width="5.52" height="4.33" fill="#d5d5d5"/>
<rect x="146.65" y="413.61" width="5.52" height="4.33" fill="#d5d5d5"/>
<rect x="152.63" y="413.61" width="5.52" height="4.33" fill="#d5d5d5"/>
<rect x="158.61" y="413.61" width="5.52" height="4.33" fill="#d5d5d5"/>
<rect x="164.59" y="413.61" width="5.52" height="4.33" fill="#1f68a9"/>
<rect x="170.57" y="413.61" width="5.52" height="4.33" fill="#d5d5d5"/>
<rect x="176.55" y="413.61" width="5.52" height="4.33" fill="#a6cee3"/>
<rect x="182.53" y="413.61" width="5.52" height="4.33" fill="#d5d5d5"/>
<rect x="188.51" y="413.61" width="5.52" height="4.33" fill="#d5d5d5"/>
<rect x="194.49" y="413.61" width="5.52" height="4.33" fill="#d5d5d5"/>
<rect x="200.47" y="413.61" width="5.52" height="4.33" fill="#d5d5d5"/>
<rect x="206.45" y="413.61" width="5.52" height="4.33" fill="#d5d5d5"/>
<rect x="33.03" y="418.40" width="5.52" height="4.33" fill="#d5d5d5"/>
<rect x="39.01" y="418.40" width="5.52" height="4.33" fill="#d5d5d5"/>
<rect x="44.99" y="418.40" width="5.52" height="4.33" fill="#d5d5d5"/>
<rect x="50.97" y="418.40" width="5.52" height="4.33" fill="#d5d5d5"/>
<rect x="56.95" y="418.40" width="5.52" height="4.33" fill="#d5d5d5"/>
<rect x="62.93" y="418.40" width="5.52" height="4.33" fill="#d5d5d5"/>
<rect x="68.91" y="418.40" width="5.52" height="4.33" fill="#d5d5d5"/>
<rect x="74.89" y="418.40" width="5.52" height="4.33" fill="#d5d5d5"/>
<rect x="80.87" y="418.40" width="5.52" height="4.33" fill="#d5d5d5"/>
<rect x="86.85" y="418.40" width="5.52" height="4.33" fill="#d5d5d5"/>
<rect x="92.83" y="418.40" width="5.52" height="4.33" fill="#d5d5d5"/>
<rect x="98.81" y="418.40" width="5.52" height="4.33" fill="#a6cee3"/>
<rect x="104.79" y="418.40" width="5.52" height="4.33" fill="#d5d5d5"/>
<rect x="110.77" y="418.40" width="5.52" height="4.33" fill="#d5d5d5"/>
<rect x="116.75" y="418.40" width="5.52" height="4.33" fill="#d5d5d5"/>
<rect x="122.73" y="418.40" width="5.52" height="4.33" fill="#d5d5d5"/>
<rect x="128.71" y="418.40" width="5.52" height="4.33" fill="#1f68a9"/>
<rect x="134.69" y="418.40" width="5.52" height="4.33" fill="#d5d5d5"/>
<rect x="140.67" y="418.40" width="5.52" height="4.33" fill="#d5d5d5"/>
<rect x="146.65" y="418.40" width="5.52" height="4.33" fill="#d5d5d5"/>
<rect x="152.63" y="418.40" width="5.52" height="4.33" fill="#d5d5d5"/>
<rect x="158.61" y="418.40" width="5.52" height="4.33" fill="#d5d5d5"/>
<rect x="164.59" y="418.40" width="5.52" height="4.33" fill="#d5d5d5"/>
<rect x="170.57" y="418.40" width="5.52" height="4.33" fill="#d5d5d5"/>
<rect x="176.55" y="418.40" width="5.52" height="4.33" fill="#d5d5d5"/>
<rect x="182.53" y="418.40" width="5.52" height="4.33" fill="#d5d5d5"/>
<rect x="188.51" y="418.40" width="5.52" height="4.33" fill="#d5d5d5"/>
<rect x="194.49" y="418.40" width="5.52" height="4.33" fill="#d5d5d5"/>
<rect x="200.47" y="418.40" width="5.52" height="4.33" fill="#d5d5d5"/>
<rect x="206.45" y="418.40" width="5.52" height="4.33" fill="#d5d5d5"/>
<rect x="33.03" y="423.19" width="5.52" height="4.33" fill="#2f9a3a"/>
<rect x="39.01" y="423.19" width="5.52" height="4.33" fill="#d5d5d5"/>
<rect x="44.99" y="423.19" width="5.52" height="4.33" fill="#d5d5d5"/>
<rect x="50.97" y="423.19" width="5.52" height="4.33" fill="#d5d5d5"/>
<rect x="56.95" y="423.19" width="5.52" height="4.33" fill="#d5d5d5"/>
<rect x="62.93" y="423.19" width="5.52" height="4.33" fill="#d5d5d5"/>
<rect x="68.91" y="423.19" width="5.52" height="4.33" fill="#d5d5d5"/>
<rect x="74.89" y="423.19" width="5.52" height="4.33" fill="#d5d5d5"/>
<rect x="80.87" y="423.19" width="5.52" height="4.33" fill="#d5d5d5"/>
<rect x="86.85" y="423.19" width="5.52" height="4.33" fill="#d5d5d5"/>
<rect x="92.83" y="423.19" width="5.52" height="4.33" fill="#d5d5d5"/>
<rect x="98.81" y="423.19" width="5.52" height="4.33" fill="#a6cee3"/>
<rect x="104.79" y="423.19" width="5.52" height="4.33" fill="#d5d5d5"/>
<rect x="110.77" y="423.19" width="5.52" height="4.33" fill="#d5d5d5"/>
<rect x="116.75" y="423.19" width="5.52" height="4.33" fill="#d5d5d5"/>
<rect x="122.73" y="423.19" width="5.52" height="4.33" fill="#d5d5d5"/>
<rect x="128.71" y="423.19" width="5.52" height="4.33" fill="#d5d5d5"/>
<rect x="134.69" y="423.19" width="5.52" height="4.33" fill="#d5d5d5"/>
<rect x="140.67" y="423.19" width="5.52" height="4.33" fill="#d5d5d5"/>
<rect x="146.65" y="423.19" width="5.52" height="4.33" fill="#d5d5d5"/>
<rect x="152.63" y="423.19" width="5.52" height="4.33" fill="#d5d5d5"/>
<rect x="158.61" y="423.19" width="5.52" height="4.33" fill="#d5d5d5"/>
<rect x="164.59" y="423.19" width="5.52" height="4.33" fill="#d5d5d5"/>
<rect x="170.57" y="423.19" width="5.52" height="4.33" fill="#d5d5d5"/>
<rect x="176.55" y="423.19" width="5.52" height="4.33" fill="#d5d5d5"/>
<rect x="182.53" y="423.19" width="5.52" height="4.33" fill="#d5d5d5"/>
<rect x="188.51" y="423.19" width="5.52" height="4.33" fill="#d5d5d5"/>
<rect x="194.49" y="423.19" width="5.52" height="4.33" fill="#d5d5d5"/>
<rect x="200.47" y="423.19" width="5.52" height="4.33" fill="#d5d5d5"/>
<rect x="206.45" y="423.19" width="5.52" height="4.33" fill="#d5d5d5"/>
<rect x="33.03" y="427.98" width="5.52" height="4.33" fill="#d5d5d5"/>
<rect x="39.01" y="427.98" width="5.52" height="4.33" fill="#d5d5d5"/>
<rect x="44.99" y="427.98" width="5.52" height="4.33" fill="#d5d5d5"/>
<rect x="50.97" y="427.98" width="5.52" height="4.33" fill="#d5d5d5"/>
<rect x="56.95" y="427.98" width="5.52" height="4.33" fill="#d5d5d5"/>
<rect x="62.93" y="427.98" width="5.52" height="4.33" fill="#d5d5d5"/>
<rect x="68.91" y="427.98" width="5.52" height="4.33" fill="#d5d5d5"/>
<rect x="74.89" y="427.98" width="5.52" height="4.33" fill="#d5d5d5"/>
<rect x="80.87" y="427.98" width="5.52" height="4.33" fill="#d5d5d5"/>
<rect x="86.85" y="427.98" width="5.52" height="4.33" fill="#d5d5d5"/>
<rect x="92.83" y="427.98" width="5.52" height="4.33" fill="#d5d5d5"/>
<rect x="98.81" y="427.98" width="5.52" height="4.33" fill="#d5d5d5"/>
<rect x="104.79" y="427.98" width="5.52" height="4.33" fill="#d5d5d5"/>
<rect x="110.77" y="427.98" width="5.52" height="4.33" fill="#d5d5d5"/>
<rect x="116.75" y="427.98" width="5.52" height="4.33" fill="#2f9a3a"/>
<rect x="122.73" y="427.98" width="5.52" height="4.33" fill="#d5d5d5"/>
<rect x="128.71" y="427.98" width="5.52" height="4.33" fill="#a6cee3"/>
<rect x="134.69" y="427.98" width="5.52" height="4.33" fill="#d5d5d5"/>
<rect x="140.67" y="427.98" width="5.52" height="4.33" fill="#d5d5d5"/>
<rect x="146.65" y="427.98" width="5.52" height="4.33" fill="#d5d5d5"/>
<rect x="152.63" y="427.98" width="5.52" height="4.33" fill="#d5d5d5"/>
<rect x="158.61" y="427.98" width="5.52" height="4.33" fill="#d5d5d5"/>
<rect x="164.59" y="427.98" width="5.52" height="4.33" fill="#d5d5d5"/>
<rect x="170.57" y="427.98" width="5.52" height="4.33" fill="#d5d5d5"/>
<rect x="176.55" y="427.98" width="5.52" height="4.33" fill="#d5d5d5"/>
<rect x="182.53" y="427.98" width="5.52" height="4.33" fill="#d5d5d5"/>
<rect x="188.51" y="427.98" width="5.52" height="4.33" fill="#d5d5d5"/>
<rect x="194.49" y="427.98" width="5.52" height="4.33" fill="#d5d5d5"/>
<rect x="200.47" y="427.98" width="5.52" height="4.33" fill="#d5d5d5"/>
<rect x="206.45" y="427.98" width="5.52" height="4.33" fill="#d5d5d5"/>
<rect x="33.03" y="432.77" width="5.52" height="4.33" fill="#d5d5d5"/>
<rect x="39.01" y="432.77" width="5.52" height="4.33" fill="#d5d5d5"/>
<rect x="44.99" y="432.77" width="5.52" height="4.33" fill="#d5d5d5"/>
<rect x="50.97" y="432.77" width="5.52" height="4.33" fill="#d5d5d5"/>
<rect x="56.95" y="432.77" width="5.52" height="4.33" fill="#d5d5d5"/>
<rect x="62.93" y="432.77" width="5.52" height="4.33" fill="#d5d5d5"/>
<rect x="68.91" y="432.77" width="5.52" height="4.33" fill="#d5d5d5"/>
<rect x="74.89" y="432.77" width="5.52" height="4.33" fill="#d5d5d5"/>
<rect x="80.87" y="432.77" width="5.52" height="4.33" fill="#d5d5d5"/>
<rect x="86.85" y="432.77" width="5.52" height="4.33" fill="#d5d5d5"/>
<rect x="92.83" y="432.77" width="5.52" height="4.33" fill="#d5d5d5"/>
<rect x="98.81" y="432.77" width="5.52" height="4.33" fill="#1f68a9"/>
<rect x="104.79" y="432.77" width="5.52" height="4.33" fill="#d5d5d5"/>
<rect x="110.77" y="432.77" width="5.52" height="4.33" fill="#d5d5d5"/>
<rect x="116.75" y="432.77" width="5.52" height="4.33" fill="#2f9a3a"/>
<rect x="122.73" y="432.77" width="5.52" height="4.33" fill="#d5d5d5"/>
<rect x="128.71" y="432.77" width="5.52" height="4.33" fill="#d5d5d5"/>
<rect x="134.69" y="432.77" width="5.52" height="4.33" fill="#d5d5d5"/>
<rect x="140.67" y="432.77" width="5.52" height="4.33" fill="#d5d5d5"/>
<rect x="146.65" y="432.77" width="5.52" height="4.33" fill="#d5d5d5"/>
<rect x="152.63" y="432.77" width="5.52" height="4.33" fill="#d5d5d5"/>
<rect x="158.61" y="432.77" width="5.52" height="4.33" fill="#d5d5d5"/>
<rect x="164.59" y="432.77" width="5.52" height="4.33" fill="#d5d5d5"/>
<rect x="170.57" y="432.77" width="5.52" height="4.33" fill="#d5d5d5"/>
<rect x="176.55" y="432.77" width="5.52" height="4.33" fill="#d5d5d5"/>
<rect x="182.53" y="432.77" width="5.52" height="4.33" fill="#d5d5d5"/>
<rect x="188.51" y="432.77" width="5.52" height="4.33" fill="#d5d5d5"/>
<rect x="194.49" y="432.77" width="5.52" height="4.33" fill="#d5d5d5"/>
<rect x="200.47" y="432.77" width="5.52" height="4.33" fill="#d5d5d5"/>
<rect x="206.45" y="432.77" width="5.52" height="4.33" fill="#d5d5d5"/>
<rect x="33.03" y="437.56" width="5.52" height="4.33" fill="#d5d5d5"/>
<rect x="39.01" y="437.56" width="5.52" height="4.33" fill="#d5d5d5"/>
<rect x="44.99" y="437.56" width="5.52" height="4.33" fill="#d5d5d5"/>
<rect x="50.97" y="437.56" width="5.52" height="4.33" fill="#d5d5d5"/>
<rect x="56.95" y="437.56" width="5.52" height="4.33" fill="#d5d5d5"/>
<rect x="62.93" y="437.56" width="5.52" height="4.33" fill="#d5d5d5"/>
<rect x="68.91" y="437.56" width="5.52" height="4.33" fill="#d5d5d5"/>
<rect x="74.89" y="437.56" width="5.52" height="4.33" fill="#d5d5d5"/>
<rect x="80.87" y="437.56" width="5.52" height="4.33" fill="#d5d5d5"/>
<rect x="86.85" y="437.56" width="5.52" height="4.33" fill="#d5d5d5"/>
<rect x="92.83" y="437.56" width="5.52" height="4.33" fill="#d5d5d5"/>
<rect x="98.81" y="437.56" width="5.52" height="4.33" fill="#1f68a9"/>
<rect x="104.79" y="437.56" width="5.52" height="4.33" fill="#d5d5d5"/>
<rect x="110.77" y="437.56" width="5.52" height="4.33" fill="#d5d5d5"/>
<rect x="116.75" y="437.56" width="5.52" height="4.33" fill="#d5d5d5"/>
<rect x="122.73" y="437.56" width="5.52" height="4.33" fill="#d5d5d5"/>
<rect x="128.71" y="437.56" width="5.52" height="4.33" fill="#d5d5d5"/>
<rect x="134.69" y="437.56" width="5.52" height="4.33" fill="#d5d5d5"/>
<rect x="140.67" y="437.56" width="5.52" height="4.33" fill="#d5d5d5"/>
<rect x="146.65" y="437.56" width="5.52" height="4.33" fill="#d5d5d5"/>
<rect x="152.63" y="437.56" width="5.52" height="4.33" fill="#d5d5d5"/>
<rect x="158.61" y="437.56" width="5.52" height="4.33" fill="#d5d5d5"/>
<rect x="164.59" y="437.56" width="5.52" height="4.33" fill="#d5d5d5"/>
<rect x="170.57" y="437.56" width="5.52" height="4.33" fill="#d5d5d5"/>
<rect x="176.55" y="437.56" width="5.52" height="4.33" fill="#d5d5d5"/>
<rect x="182.53" y="437.56" width="5.52" height="4.33" fill="#d5d5d5"/>
<rect x="188.51" y="437.56" width="5.52" height="4.33" fill="#2f9a3a"/>
<rect x="194.49" y="437.56" width="5.52" height="4.33" fill="#d5d5d5"/>
<rect x="200.47" y="437.56" width="5.52" height="4.33" fill="#d5d5d5"/>
<rect x="206.45" y="437.56" width="5.52" height="4.33" fill="#d5d5d5"/>
<rect x="33.03" y="442.35" width="5.52" height="4.33" fill="#d5d5d5"/>
<rect x="39.01" y="442.35" width="5.52" height="4.33" fill="#d5d5d5"/>
<rect x="44.99" y="442.35" width="5.52" height="4.33" fill="#d5d5d5"/>
<rect x="50.97" y="442.35" width="5.52" height="4.33" fill="#d5d5d5"/>
<rect x="56.95" y="442.35" width="5.52" height="4.33" fill="#d5d5d5"/>
<rect x="62.93" y="442.35" width="5.52" height="4.33" fill="#d5d5d5"/>
<rect x="68.91" y="442.35" width="5.52" height="4.33" fill="#d5d5d5"/>
<rect x="74.89" y="442.35" width="5.52" height="4.33" fill="#d5d5d5"/>
<rect x="80.87" y="442.35" width="5.52" height="4.33" fill="#d5d5d5"/>
<rect x="86.85" y="442.35" width="5.52" height="4.33" fill="#d5d5d5"/>
<rect x="92.83" y="442.35" width="5.52" height="4.33" fill="#d5d5d5"/>
<rect x="98.81" y="442.35" width="5.52" height="4.33" fill="#d5d5d5"/>
<rect x="104.79" y="442.35" width="5.52" height="4.33" fill="#2f9a3a"/>
<rect x="110.77" y="442.35" width="5.52" height="4.33" fill="#d5d5d5"/>
<rect x="116.75" y="442.35" width="5.52" height="4.33" fill="#d5d5d5"/>
<rect x="122.73" y="442.35" width="5.52" height="4.33" fill="#d5d5d5"/>
<rect x="128.71" y="442.35" width="5.52" height="4.33" fill="#d5d5d5"/>
<rect x="134.69" y="442.35" width="5.52" height="4.33" fill="#d5d5d5"/>
<rect x="140.67" y="442.35" width="5.52" height="4.33" fill="#d5d5d5"/>
<rect x="146.65" y="442.35" width="5.52" height="4.33" fill="#d5d5d5"/>
<rect x="152.63" y="442.35" width="5.52" height="4.33" fill="#d5d5d5"/>
<rect x="158.61" y="442.35" width="5.52" height="4.33" fill="#2f9a3a"/>
<rect x="164.59" y="442.35" width="5.52" height="4.33" fill="#d5d5d5"/>
<rect x="170.57" y="442.35" width="5.52" height="4.33" fill="#d5d5d5"/>
<rect x="176.55" y="442.35" width="5.52" height="4.33" fill="#d5d5d5"/>
<rect x="182.53" y="442.35" width="5.52" height="4.33" fill="#d5d5d5"/>
<rect x="188.51" y="442.35" width="5.52" height="4.33" fill="#d5d5d5"/>
<rect x="194.49" y="442.35" width="5.52" height="4.33" fill="#d5d5d5"/>
<rect x="200.47" y="442.35" width="5.52" height="4.33" fill="#d5d5d5"/>
<rect x="206.45" y="442.35" width="5.52" height="4.33" fill="#d5d5d5"/>
<text x="31.30" y="216.45" font-size="4.9" text-anchor="end" font-weight="normal" font-style="italic" fill="#1a1a1a" stroke="#1a1a1a" stroke-width="0.14">FH</text>
<text x="214.30" y="216.55" font-size="4.9" text-anchor="start" font-weight="normal" font-style="normal" fill="#1a1a1a" stroke="#1a1a1a" stroke-width="0.14">57%</text>
<text x="31.30" y="221.24" font-size="4.9" text-anchor="end" font-weight="normal" font-style="italic" fill="#1a1a1a" stroke="#1a1a1a" stroke-width="0.14">KMT2C</text>
<text x="214.30" y="221.34" font-size="4.9" text-anchor="start" font-weight="normal" font-style="normal" fill="#1a1a1a" stroke="#1a1a1a" stroke-width="0.14">27%</text>
<text x="31.30" y="226.03" font-size="4.9" text-anchor="end" font-weight="normal" font-style="italic" fill="#1a1a1a" stroke="#1a1a1a" stroke-width="0.14">ARID1A</text>
<text x="214.30" y="226.12" font-size="4.9" text-anchor="start" font-weight="normal" font-style="normal" fill="#1a1a1a" stroke="#1a1a1a" stroke-width="0.14">20%</text>
<text x="31.30" y="230.82" font-size="4.9" text-anchor="end" font-weight="normal" font-style="italic" fill="#1a1a1a" stroke="#1a1a1a" stroke-width="0.14">PTCH1</text>
<text x="214.30" y="230.92" font-size="4.9" text-anchor="start" font-weight="normal" font-style="normal" fill="#1a1a1a" stroke="#1a1a1a" stroke-width="0.14">20%</text>
<text x="31.30" y="235.61" font-size="4.9" text-anchor="end" font-weight="normal" font-style="italic" fill="#1a1a1a" stroke="#1a1a1a" stroke-width="0.14">ANKRD11</text>
<text x="214.30" y="235.71" font-size="4.9" text-anchor="start" font-weight="normal" font-style="normal" fill="#1a1a1a" stroke="#1a1a1a" stroke-width="0.14">17%</text>
<text x="31.30" y="240.40" font-size="4.9" text-anchor="end" font-weight="normal" font-style="italic" fill="#1a1a1a" stroke="#1a1a1a" stroke-width="0.14">BCORL1</text>
<text x="214.30" y="240.50" font-size="4.9" text-anchor="start" font-weight="normal" font-style="normal" fill="#1a1a1a" stroke="#1a1a1a" stroke-width="0.14">13%</text>
<text x="31.30" y="245.19" font-size="4.9" text-anchor="end" font-weight="normal" font-style="italic" fill="#1a1a1a" stroke="#1a1a1a" stroke-width="0.14">KMT2B</text>
<text x="214.30" y="245.28" font-size="4.9" text-anchor="start" font-weight="normal" font-style="normal" fill="#1a1a1a" stroke="#1a1a1a" stroke-width="0.14">13%</text>
<text x="31.30" y="249.97" font-size="4.9" text-anchor="end" font-weight="normal" font-style="italic" fill="#1a1a1a" stroke="#1a1a1a" stroke-width="0.14">NCOR2</text>
<text x="214.30" y="250.07" font-size="4.9" text-anchor="start" font-weight="normal" font-style="normal" fill="#1a1a1a" stroke="#1a1a1a" stroke-width="0.14">13%</text>
<text x="31.30" y="254.77" font-size="4.9" text-anchor="end" font-weight="normal" font-style="italic" fill="#1a1a1a" stroke="#1a1a1a" stroke-width="0.14">ATM</text>
<text x="214.30" y="254.87" font-size="4.9" text-anchor="start" font-weight="normal" font-style="normal" fill="#1a1a1a" stroke="#1a1a1a" stroke-width="0.14">13%</text>
<text x="31.30" y="259.56" font-size="4.9" text-anchor="end" font-weight="normal" font-style="italic" fill="#1a1a1a" stroke="#1a1a1a" stroke-width="0.14">ZFHX3</text>
<text x="214.30" y="259.66" font-size="4.9" text-anchor="start" font-weight="normal" font-style="normal" fill="#1a1a1a" stroke="#1a1a1a" stroke-width="0.14">13%</text>
<text x="31.30" y="264.34" font-size="4.9" text-anchor="end" font-weight="normal" font-style="italic" fill="#1a1a1a" stroke="#1a1a1a" stroke-width="0.14">NOTCH3</text>
<text x="214.30" y="264.44" font-size="4.9" text-anchor="start" font-weight="normal" font-style="normal" fill="#1a1a1a" stroke="#1a1a1a" stroke-width="0.14">13%</text>
<text x="31.30" y="269.13" font-size="4.9" text-anchor="end" font-weight="normal" font-style="italic" fill="#1a1a1a" stroke="#1a1a1a" stroke-width="0.14">BRCA1</text>
<text x="214.30" y="269.24" font-size="4.9" text-anchor="start" font-weight="normal" font-style="normal" fill="#1a1a1a" stroke="#1a1a1a" stroke-width="0.14">10%</text>
<text x="31.30" y="273.92" font-size="4.9" text-anchor="end" font-weight="normal" font-style="italic" fill="#1a1a1a" stroke="#1a1a1a" stroke-width="0.14">COL5A1</text>
<text x="214.30" y="274.02" font-size="4.9" text-anchor="start" font-weight="normal" font-style="normal" fill="#1a1a1a" stroke="#1a1a1a" stroke-width="0.14">10%</text>
<text x="31.30" y="278.71" font-size="4.9" text-anchor="end" font-weight="normal" font-style="italic" fill="#1a1a1a" stroke="#1a1a1a" stroke-width="0.14">FAT1</text>
<text x="214.30" y="278.81" font-size="4.9" text-anchor="start" font-weight="normal" font-style="normal" fill="#1a1a1a" stroke="#1a1a1a" stroke-width="0.14">10%</text>
<text x="31.30" y="283.50" font-size="4.9" text-anchor="end" font-weight="normal" font-style="italic" fill="#1a1a1a" stroke="#1a1a1a" stroke-width="0.14">HLA-B</text>
<text x="214.30" y="283.61" font-size="4.9" text-anchor="start" font-weight="normal" font-style="normal" fill="#1a1a1a" stroke="#1a1a1a" stroke-width="0.14">10%</text>
<text x="31.30" y="288.29" font-size="4.9" text-anchor="end" font-weight="normal" font-style="italic" fill="#1a1a1a" stroke="#1a1a1a" stroke-width="0.14">HLA-C</text>
<text x="214.30" y="288.39" font-size="4.9" text-anchor="start" font-weight="normal" font-style="normal" fill="#1a1a1a" stroke="#1a1a1a" stroke-width="0.14">10%</text>
<text x="31.30" y="293.08" font-size="4.9" text-anchor="end" font-weight="normal" font-style="italic" fill="#1a1a1a" stroke="#1a1a1a" stroke-width="0.14">MYC</text>
<text x="214.30" y="293.19" font-size="4.9" text-anchor="start" font-weight="normal" font-style="normal" fill="#1a1a1a" stroke="#1a1a1a" stroke-width="0.14">10%</text>
<text x="31.30" y="297.88" font-size="4.9" text-anchor="end" font-weight="normal" font-style="italic" fill="#1a1a1a" stroke="#1a1a1a" stroke-width="0.14">NF2</text>
<text x="214.30" y="297.98" font-size="4.9" text-anchor="start" font-weight="normal" font-style="normal" fill="#1a1a1a" stroke="#1a1a1a" stroke-width="0.14">10%</text>
<text x="31.30" y="302.66" font-size="4.9" text-anchor="end" font-weight="normal" font-style="italic" fill="#1a1a1a" stroke="#1a1a1a" stroke-width="0.14">ANK3</text>
<text x="214.30" y="302.76" font-size="4.9" text-anchor="start" font-weight="normal" font-style="normal" fill="#1a1a1a" stroke="#1a1a1a" stroke-width="0.14">10%</text>
<text x="31.30" y="307.45" font-size="4.9" text-anchor="end" font-weight="normal" font-style="italic" fill="#1a1a1a" stroke="#1a1a1a" stroke-width="0.14">PHOX2B</text>
<text x="214.30" y="307.56" font-size="4.9" text-anchor="start" font-weight="normal" font-style="normal" fill="#1a1a1a" stroke="#1a1a1a" stroke-width="0.14">10%</text>
<text x="31.30" y="312.25" font-size="4.9" text-anchor="end" font-weight="normal" font-style="italic" fill="#1a1a1a" stroke="#1a1a1a" stroke-width="0.14">SMAD4</text>
<text x="214.30" y="312.35" font-size="4.9" text-anchor="start" font-weight="normal" font-style="normal" fill="#1a1a1a" stroke="#1a1a1a" stroke-width="0.14">10%</text>
<text x="31.30" y="317.03" font-size="4.9" text-anchor="end" font-weight="normal" font-style="italic" fill="#1a1a1a" stroke="#1a1a1a" stroke-width="0.14">SPEN</text>
<text x="214.30" y="317.13" font-size="4.9" text-anchor="start" font-weight="normal" font-style="normal" fill="#1a1a1a" stroke="#1a1a1a" stroke-width="0.14">10%</text>
<text x="31.30" y="321.82" font-size="4.9" text-anchor="end" font-weight="normal" font-style="italic" fill="#1a1a1a" stroke="#1a1a1a" stroke-width="0.14">TGFB1</text>
<text x="214.30" y="321.93" font-size="4.9" text-anchor="start" font-weight="normal" font-style="normal" fill="#1a1a1a" stroke="#1a1a1a" stroke-width="0.14">10%</text>
<text x="31.30" y="326.62" font-size="4.9" text-anchor="end" font-weight="normal" font-style="italic" fill="#1a1a1a" stroke="#1a1a1a" stroke-width="0.14">ASXL2</text>
<text x="214.30" y="326.72" font-size="4.9" text-anchor="start" font-weight="normal" font-style="normal" fill="#1a1a1a" stroke="#1a1a1a" stroke-width="0.14">7%</text>
<text x="31.30" y="331.40" font-size="4.9" text-anchor="end" font-weight="normal" font-style="italic" fill="#1a1a1a" stroke="#1a1a1a" stroke-width="0.14">ATR</text>
<text x="214.30" y="331.50" font-size="4.9" text-anchor="start" font-weight="normal" font-style="normal" fill="#1a1a1a" stroke="#1a1a1a" stroke-width="0.14">7%</text>
<text x="31.30" y="336.19" font-size="4.9" text-anchor="end" font-weight="normal" font-style="italic" fill="#1a1a1a" stroke="#1a1a1a" stroke-width="0.14">AXIN2</text>
<text x="214.30" y="336.30" font-size="4.9" text-anchor="start" font-weight="normal" font-style="normal" fill="#1a1a1a" stroke="#1a1a1a" stroke-width="0.14">7%</text>
<text x="31.30" y="340.99" font-size="4.9" text-anchor="end" font-weight="normal" font-style="italic" fill="#1a1a1a" stroke="#1a1a1a" stroke-width="0.14">AXL</text>
<text x="214.30" y="341.09" font-size="4.9" text-anchor="start" font-weight="normal" font-style="normal" fill="#1a1a1a" stroke="#1a1a1a" stroke-width="0.14">7%</text>
<text x="31.30" y="345.77" font-size="4.9" text-anchor="end" font-weight="normal" font-style="italic" fill="#1a1a1a" stroke="#1a1a1a" stroke-width="0.14">BRD4</text>
<text x="214.30" y="345.88" font-size="4.9" text-anchor="start" font-weight="normal" font-style="normal" fill="#1a1a1a" stroke="#1a1a1a" stroke-width="0.14">7%</text>
<text x="31.30" y="350.56" font-size="4.9" text-anchor="end" font-weight="normal" font-style="italic" fill="#1a1a1a" stroke="#1a1a1a" stroke-width="0.14">CDC73</text>
<text x="214.30" y="350.67" font-size="4.9" text-anchor="start" font-weight="normal" font-style="normal" fill="#1a1a1a" stroke="#1a1a1a" stroke-width="0.14">7%</text>
<text x="31.30" y="355.36" font-size="4.9" text-anchor="end" font-weight="normal" font-style="italic" fill="#1a1a1a" stroke="#1a1a1a" stroke-width="0.14">CREBBP</text>
<text x="214.30" y="355.46" font-size="4.9" text-anchor="start" font-weight="normal" font-style="normal" fill="#1a1a1a" stroke="#1a1a1a" stroke-width="0.14">7%</text>
<text x="31.30" y="360.14" font-size="4.9" text-anchor="end" font-weight="normal" font-style="italic" fill="#1a1a1a" stroke="#1a1a1a" stroke-width="0.14">CSF3R</text>
<text x="214.30" y="360.25" font-size="4.9" text-anchor="start" font-weight="normal" font-style="normal" fill="#1a1a1a" stroke="#1a1a1a" stroke-width="0.14">7%</text>
<text x="31.30" y="364.93" font-size="4.9" text-anchor="end" font-weight="normal" font-style="italic" fill="#1a1a1a" stroke="#1a1a1a" stroke-width="0.14">CYP2A13</text>
<text x="214.30" y="365.03" font-size="4.9" text-anchor="start" font-weight="normal" font-style="normal" fill="#1a1a1a" stroke="#1a1a1a" stroke-width="0.14">7%</text>
<text x="31.30" y="369.73" font-size="4.9" text-anchor="end" font-weight="normal" font-style="italic" fill="#1a1a1a" stroke="#1a1a1a" stroke-width="0.14">DNMT1</text>
<text x="214.30" y="369.83" font-size="4.9" text-anchor="start" font-weight="normal" font-style="normal" fill="#1a1a1a" stroke="#1a1a1a" stroke-width="0.14">7%</text>
<text x="31.30" y="374.51" font-size="4.9" text-anchor="end" font-weight="normal" font-style="italic" fill="#1a1a1a" stroke="#1a1a1a" stroke-width="0.14">EPAS1</text>
<text x="214.30" y="374.62" font-size="4.9" text-anchor="start" font-weight="normal" font-style="normal" fill="#1a1a1a" stroke="#1a1a1a" stroke-width="0.14">7%</text>
<text x="31.30" y="379.30" font-size="4.9" text-anchor="end" font-weight="normal" font-style="italic" fill="#1a1a1a" stroke="#1a1a1a" stroke-width="0.14">EPHA2</text>
<text x="214.30" y="379.40" font-size="4.9" text-anchor="start" font-weight="normal" font-style="normal" fill="#1a1a1a" stroke="#1a1a1a" stroke-width="0.14">7%</text>
<text x="31.30" y="384.09" font-size="4.9" text-anchor="end" font-weight="normal" font-style="italic" fill="#1a1a1a" stroke="#1a1a1a" stroke-width="0.14">EPPK1</text>
<text x="214.30" y="384.19" font-size="4.9" text-anchor="start" font-weight="normal" font-style="normal" fill="#1a1a1a" stroke="#1a1a1a" stroke-width="0.14">7%</text>
<text x="31.30" y="388.88" font-size="4.9" text-anchor="end" font-weight="normal" font-style="italic" fill="#1a1a1a" stroke="#1a1a1a" stroke-width="0.14">ERBB2</text>
<text x="214.30" y="388.99" font-size="4.9" text-anchor="start" font-weight="normal" font-style="normal" fill="#1a1a1a" stroke="#1a1a1a" stroke-width="0.14">7%</text>
<text x="31.30" y="393.67" font-size="4.9" text-anchor="end" font-weight="normal" font-style="italic" fill="#1a1a1a" stroke="#1a1a1a" stroke-width="0.14">GNAQ</text>
<text x="214.30" y="393.77" font-size="4.9" text-anchor="start" font-weight="normal" font-style="normal" fill="#1a1a1a" stroke="#1a1a1a" stroke-width="0.14">7%</text>
<text x="31.30" y="398.46" font-size="4.9" text-anchor="end" font-weight="normal" font-style="italic" fill="#1a1a1a" stroke="#1a1a1a" stroke-width="0.14">HLA-A</text>
<text x="214.30" y="398.56" font-size="4.9" text-anchor="start" font-weight="normal" font-style="normal" fill="#1a1a1a" stroke="#1a1a1a" stroke-width="0.14">7%</text>
<text x="31.30" y="403.25" font-size="4.9" text-anchor="end" font-weight="normal" font-style="italic" fill="#1a1a1a" stroke="#1a1a1a" stroke-width="0.14">KDM6A</text>
<text x="214.30" y="403.36" font-size="4.9" text-anchor="start" font-weight="normal" font-style="normal" fill="#1a1a1a" stroke="#1a1a1a" stroke-width="0.14">7%</text>
<text x="31.30" y="408.04" font-size="4.9" text-anchor="end" font-weight="normal" font-style="italic" fill="#1a1a1a" stroke="#1a1a1a" stroke-width="0.14">MAP3K13</text>
<text x="214.30" y="408.14" font-size="4.9" text-anchor="start" font-weight="normal" font-style="normal" fill="#1a1a1a" stroke="#1a1a1a" stroke-width="0.14">7%</text>
<text x="31.30" y="412.83" font-size="4.9" text-anchor="end" font-weight="normal" font-style="italic" fill="#1a1a1a" stroke="#1a1a1a" stroke-width="0.14">MDC1</text>
<text x="214.30" y="412.94" font-size="4.9" text-anchor="start" font-weight="normal" font-style="normal" fill="#1a1a1a" stroke="#1a1a1a" stroke-width="0.14">7%</text>
<text x="31.30" y="417.62" font-size="4.9" text-anchor="end" font-weight="normal" font-style="italic" fill="#1a1a1a" stroke="#1a1a1a" stroke-width="0.14">MECOM</text>
<text x="214.30" y="417.73" font-size="4.9" text-anchor="start" font-weight="normal" font-style="normal" fill="#1a1a1a" stroke="#1a1a1a" stroke-width="0.14">7%</text>
<text x="31.30" y="422.41" font-size="4.9" text-anchor="end" font-weight="normal" font-style="italic" fill="#1a1a1a" stroke="#1a1a1a" stroke-width="0.14">MEN1</text>
<text x="214.30" y="422.51" font-size="4.9" text-anchor="start" font-weight="normal" font-style="normal" fill="#1a1a1a" stroke="#1a1a1a" stroke-width="0.14">7%</text>
<text x="31.30" y="427.20" font-size="4.9" text-anchor="end" font-weight="normal" font-style="italic" fill="#1a1a1a" stroke="#1a1a1a" stroke-width="0.14">NOTCH2</text>
<text x="214.30" y="427.31" font-size="4.9" text-anchor="start" font-weight="normal" font-style="normal" fill="#1a1a1a" stroke="#1a1a1a" stroke-width="0.14">7%</text>
<text x="31.30" y="432.00" font-size="4.9" text-anchor="end" font-weight="normal" font-style="italic" fill="#1a1a1a" stroke="#1a1a1a" stroke-width="0.14">PAX5</text>
<text x="214.30" y="432.10" font-size="4.9" text-anchor="start" font-weight="normal" font-style="normal" fill="#1a1a1a" stroke="#1a1a1a" stroke-width="0.14">7%</text>
<text x="31.30" y="436.78" font-size="4.9" text-anchor="end" font-weight="normal" font-style="italic" fill="#1a1a1a" stroke="#1a1a1a" stroke-width="0.14">RET</text>
<text x="214.30" y="436.88" font-size="4.9" text-anchor="start" font-weight="normal" font-style="normal" fill="#1a1a1a" stroke="#1a1a1a" stroke-width="0.14">7%</text>
<text x="31.30" y="441.57" font-size="4.9" text-anchor="end" font-weight="normal" font-style="italic" fill="#1a1a1a" stroke="#1a1a1a" stroke-width="0.14">TET2</text>
<text x="214.30" y="441.68" font-size="4.9" text-anchor="start" font-weight="normal" font-style="normal" fill="#1a1a1a" stroke="#1a1a1a" stroke-width="0.14">7%</text>
<text x="31.30" y="446.37" font-size="4.9" text-anchor="end" font-weight="normal" font-style="italic" fill="#1a1a1a" stroke="#1a1a1a" stroke-width="0.14">ZRSR2</text>
<text x="214.30" y="446.47" font-size="4.9" text-anchor="start" font-weight="normal" font-style="normal" fill="#1a1a1a" stroke="#1a1a1a" stroke-width="0.14">7%</text>
<rect x="229.00" y="212.60" width="29.71" height="4.04" fill="#1f68a9"/>
<rect x="258.71" y="212.60" width="8.91" height="4.04" fill="#b2df8a"/>
<rect x="267.62" y="212.60" width="8.91" height="4.04" fill="#a6cee3"/>
<rect x="276.53" y="212.60" width="2.97" height="4.04" fill="#fb9a99"/>
<rect x="229.00" y="217.39" width="8.91" height="4.04" fill="#1f68a9"/>
<rect x="237.91" y="217.39" width="5.94" height="4.04" fill="#b2df8a"/>
<rect x="243.85" y="217.39" width="2.97" height="4.04" fill="#a6cee3"/>
<rect x="246.82" y="217.39" width="5.94" height="4.04" fill="#2f9a3a"/>
<rect x="229.00" y="222.18" width="11.88" height="4.04" fill="#1f68a9"/>
<rect x="240.88" y="222.18" width="5.94" height="4.04" fill="#2f9a3a"/>
<rect x="229.00" y="226.97" width="8.91" height="4.04" fill="#1f68a9"/>
<rect x="237.91" y="226.97" width="2.97" height="4.04" fill="#b2df8a"/>
<rect x="240.88" y="226.97" width="5.94" height="4.04" fill="#7b68ae"/>
<rect x="229.00" y="231.76" width="11.88" height="4.04" fill="#1f68a9"/>
<rect x="240.88" y="231.76" width="2.97" height="4.04" fill="#7b68ae"/>
<rect x="229.00" y="236.55" width="2.97" height="4.04" fill="#1f68a9"/>
<rect x="231.97" y="236.55" width="8.91" height="4.04" fill="#a6cee3"/>
<rect x="229.00" y="241.34" width="5.94" height="4.04" fill="#1f68a9"/>
<rect x="234.94" y="241.34" width="2.97" height="4.04" fill="#a6cee3"/>
<rect x="237.91" y="241.34" width="2.97" height="4.04" fill="#2f9a3a"/>
<rect x="229.00" y="246.13" width="2.97" height="4.04" fill="#1f68a9"/>
<rect x="231.97" y="246.13" width="2.97" height="4.04" fill="#b2df8a"/>
<rect x="234.94" y="246.13" width="2.97" height="4.04" fill="#d7191c"/>
<rect x="237.91" y="246.13" width="2.97" height="4.04" fill="#2f9a3a"/>
<rect x="229.00" y="250.92" width="5.94" height="4.04" fill="#1f68a9"/>
<rect x="234.94" y="250.92" width="2.97" height="4.04" fill="#a6cee3"/>
<rect x="237.91" y="250.92" width="2.97" height="4.04" fill="#7b68ae"/>
<rect x="229.00" y="255.71" width="2.97" height="4.04" fill="#1f68a9"/>
<rect x="231.97" y="255.71" width="2.97" height="4.04" fill="#a6cee3"/>
<rect x="234.94" y="255.71" width="5.94" height="4.04" fill="#f58220"/>
<rect x="229.00" y="260.50" width="2.97" height="4.04" fill="#1f68a9"/>
<rect x="231.97" y="260.50" width="2.97" height="4.04" fill="#a6cee3"/>
<rect x="234.94" y="260.50" width="2.97" height="4.04" fill="#2f9a3a"/>
<rect x="237.91" y="260.50" width="2.97" height="4.04" fill="#7b68ae"/>
<rect x="229.00" y="265.29" width="2.97" height="4.04" fill="#1f68a9"/>
<rect x="231.97" y="265.29" width="5.94" height="4.04" fill="#2f9a3a"/>
<rect x="229.00" y="270.08" width="5.94" height="4.04" fill="#1f68a9"/>
<rect x="234.94" y="270.08" width="2.97" height="4.04" fill="#a6cee3"/>
<rect x="229.00" y="274.87" width="2.97" height="4.04" fill="#1f68a9"/>
<rect x="231.97" y="274.87" width="5.94" height="4.04" fill="#2f9a3a"/>
<rect x="229.00" y="279.66" width="8.91" height="4.04" fill="#1f68a9"/>
<rect x="229.00" y="284.45" width="5.94" height="4.04" fill="#1f68a9"/>
<rect x="234.94" y="284.45" width="2.97" height="4.04" fill="#b2df8a"/>
<rect x="229.00" y="289.24" width="8.91" height="4.04" fill="#1f68a9"/>
<rect x="229.00" y="294.03" width="2.97" height="4.04" fill="#1f68a9"/>
<rect x="231.97" y="294.03" width="2.97" height="4.04" fill="#a6cee3"/>
<rect x="234.94" y="294.03" width="2.97" height="4.04" fill="#2f9a3a"/>
<rect x="229.00" y="298.82" width="5.94" height="4.04" fill="#1f68a9"/>
<rect x="234.94" y="298.82" width="2.97" height="4.04" fill="#2f9a3a"/>
<rect x="229.00" y="303.61" width="8.91" height="4.04" fill="#f58220"/>
<rect x="229.00" y="308.40" width="5.94" height="4.04" fill="#1f68a9"/>
<rect x="234.94" y="308.40" width="2.97" height="4.04" fill="#fb9a99"/>
<rect x="229.00" y="313.19" width="2.97" height="4.04" fill="#1f68a9"/>
<rect x="231.97" y="313.19" width="5.94" height="4.04" fill="#a6cee3"/>
<rect x="229.00" y="317.98" width="8.91" height="4.04" fill="#f58220"/>
<rect x="229.00" y="322.77" width="2.97" height="4.04" fill="#1f68a9"/>
<rect x="231.97" y="322.77" width="2.97" height="4.04" fill="#a6cee3"/>
<rect x="229.00" y="327.56" width="2.97" height="4.04" fill="#1f68a9"/>
<rect x="231.97" y="327.56" width="2.97" height="4.04" fill="#a6cee3"/>
<rect x="229.00" y="332.35" width="5.94" height="4.04" fill="#1f68a9"/>
<rect x="229.00" y="337.14" width="2.97" height="4.04" fill="#1f68a9"/>
<rect x="231.97" y="337.14" width="2.97" height="4.04" fill="#a6cee3"/>
<rect x="229.00" y="341.93" width="2.97" height="4.04" fill="#1f68a9"/>
<rect x="231.97" y="341.93" width="2.97" height="4.04" fill="#a6cee3"/>
<rect x="229.00" y="346.72" width="2.97" height="4.04" fill="#1f68a9"/>
<rect x="231.97" y="346.72" width="2.97" height="4.04" fill="#b2df8a"/>
<rect x="229.00" y="351.51" width="2.97" height="4.04" fill="#1f68a9"/>
<rect x="231.97" y="351.51" width="2.97" height="4.04" fill="#2f9a3a"/>
<rect x="229.00" y="356.30" width="2.97" height="4.04" fill="#1f68a9"/>
<rect x="231.97" y="356.30" width="2.97" height="4.04" fill="#a6cee3"/>
<rect x="229.00" y="361.09" width="5.94" height="4.04" fill="#1f68a9"/>
<rect x="229.00" y="365.88" width="5.94" height="4.04" fill="#1f68a9"/>
<rect x="229.00" y="370.67" width="2.97" height="4.04" fill="#1f68a9"/>
<rect x="231.97" y="370.67" width="2.97" height="4.04" fill="#2f9a3a"/>
<rect x="229.00" y="375.46" width="5.94" height="4.04" fill="#1f68a9"/>
<rect x="229.00" y="380.25" width="5.94" height="4.04" fill="#1f68a9"/>
<rect x="229.00" y="385.04" width="5.94" height="4.04" fill="#1f68a9"/>
<rect x="229.00" y="389.83" width="5.94" height="4.04" fill="#2f9a3a"/>
<rect x="229.00" y="394.62" width="2.97" height="4.04" fill="#1f68a9"/>
<rect x="231.97" y="394.62" width="2.97" height="4.04" fill="#2f9a3a"/>
<rect x="229.00" y="399.41" width="5.94" height="4.04" fill="#1f68a9"/>
<rect x="229.00" y="404.20" width="5.94" height="4.04" fill="#1f68a9"/>
<rect x="229.00" y="408.99" width="5.94" height="4.04" fill="#1f68a9"/>
<rect x="229.00" y="413.78" width="2.97" height="4.04" fill="#1f68a9"/>
<rect x="231.97" y="413.78" width="2.97" height="4.04" fill="#a6cee3"/>
<rect x="229.00" y="418.57" width="2.97" height="4.04" fill="#1f68a9"/>
<rect x="231.97" y="418.57" width="2.97" height="4.04" fill="#a6cee3"/>
<rect x="229.00" y="423.36" width="2.97" height="4.04" fill="#a6cee3"/>
<rect x="231.97" y="423.36" width="2.97" height="4.04" fill="#2f9a3a"/>
<rect x="229.00" y="428.15" width="2.97" height="4.04" fill="#a6cee3"/>
<rect x="231.97" y="428.15" width="2.97" height="4.04" fill="#2f9a3a"/>
<rect x="229.00" y="432.94" width="2.97" height="4.04" fill="#1f68a9"/>
<rect x="231.97" y="432.94" width="2.97" height="4.04" fill="#2f9a3a"/>
<rect x="229.00" y="437.73" width="2.97" height="4.04" fill="#1f68a9"/>
<rect x="231.97" y="437.73" width="2.97" height="4.04" fill="#2f9a3a"/>
<rect x="229.00" y="442.52" width="5.94" height="4.04" fill="#2f9a3a"/>
<path d="M229.0 205.8 V210.2 H279.5 V205.8" fill="none" stroke="#333" stroke-width="0.8"/>
<text x="227.80" y="201.70" font-size="4.7" text-anchor="start" font-weight="normal" font-style="normal" fill="#222" stroke="#222" stroke-width="0.14">0%</text>
<text x="275.40" y="201.70" font-size="4.7" text-anchor="start" font-weight="normal" font-style="normal" fill="#222" stroke="#222" stroke-width="0.14">100%</text>
<text x="37.84" y="457.80" font-size="5.2" text-anchor="start" font-weight="normal" font-style="normal" fill="#222" transform="rotate(-90 37.84 457.80)" stroke="#222" stroke-width="0.14">P05</text>
<text x="43.82" y="457.80" font-size="5.2" text-anchor="start" font-weight="normal" font-style="normal" fill="#222" transform="rotate(-90 43.82 457.80)" stroke="#222" stroke-width="0.14">P09</text>
<text x="49.80" y="457.80" font-size="5.2" text-anchor="start" font-weight="normal" font-style="normal" fill="#222" transform="rotate(-90 49.80 457.80)" stroke="#222" stroke-width="0.14">P30</text>
<text x="55.78" y="457.80" font-size="5.2" text-anchor="start" font-weight="normal" font-style="normal" fill="#222" transform="rotate(-90 55.78 457.80)" stroke="#222" stroke-width="0.14">P02</text>
<text x="61.76" y="457.80" font-size="5.2" text-anchor="start" font-weight="normal" font-style="normal" fill="#222" transform="rotate(-90 61.76 457.80)" stroke="#222" stroke-width="0.14">P13</text>
<text x="67.74" y="457.80" font-size="5.2" text-anchor="start" font-weight="normal" font-style="normal" fill="#222" transform="rotate(-90 67.74 457.80)" stroke="#222" stroke-width="0.14">P18</text>
<text x="73.72" y="457.80" font-size="5.2" text-anchor="start" font-weight="normal" font-style="normal" fill="#222" transform="rotate(-90 73.72 457.80)" stroke="#222" stroke-width="0.14">P19</text>
<text x="79.70" y="457.80" font-size="5.2" text-anchor="start" font-weight="normal" font-style="normal" fill="#222" transform="rotate(-90 79.70 457.80)" stroke="#222" stroke-width="0.14">P20</text>
<text x="85.68" y="457.80" font-size="5.2" text-anchor="start" font-weight="normal" font-style="normal" fill="#222" transform="rotate(-90 85.68 457.80)" stroke="#222" stroke-width="0.14">P27</text>
<text x="91.66" y="457.80" font-size="5.2" text-anchor="start" font-weight="normal" font-style="normal" fill="#222" transform="rotate(-90 91.66 457.80)" stroke="#222" stroke-width="0.14">P28</text>
<text x="97.64" y="457.80" font-size="5.2" text-anchor="start" font-weight="normal" font-style="normal" fill="#222" transform="rotate(-90 97.64 457.80)" stroke="#222" stroke-width="0.14">P29</text>
<text x="103.62" y="457.80" font-size="5.2" text-anchor="start" font-weight="normal" font-style="normal" fill="#222" transform="rotate(-90 103.62 457.80)" stroke="#222" stroke-width="0.14">P06</text>
<text x="109.60" y="457.80" font-size="5.2" text-anchor="start" font-weight="normal" font-style="normal" fill="#222" transform="rotate(-90 109.60 457.80)" stroke="#222" stroke-width="0.14">P08</text>
<text x="115.58" y="457.80" font-size="5.2" text-anchor="start" font-weight="normal" font-style="normal" fill="#222" transform="rotate(-90 115.58 457.80)" stroke="#222" stroke-width="0.14">P15</text>
<text x="121.56" y="457.80" font-size="5.2" text-anchor="start" font-weight="normal" font-style="normal" fill="#222" transform="rotate(-90 121.56 457.80)" stroke="#222" stroke-width="0.14">P10</text>
<text x="127.54" y="457.80" font-size="5.2" text-anchor="start" font-weight="normal" font-style="normal" fill="#222" transform="rotate(-90 127.54 457.80)" stroke="#222" stroke-width="0.14">P14</text>
<text x="133.52" y="457.80" font-size="5.2" text-anchor="start" font-weight="normal" font-style="normal" fill="#222" transform="rotate(-90 133.52 457.80)" stroke="#222" stroke-width="0.14">P04</text>
<text x="139.50" y="457.80" font-size="5.2" text-anchor="start" font-weight="normal" font-style="normal" fill="#222" transform="rotate(-90 139.50 457.80)" stroke="#222" stroke-width="0.14">P17</text>
<text x="145.48" y="457.80" font-size="5.2" text-anchor="start" font-weight="normal" font-style="normal" fill="#222" transform="rotate(-90 145.48 457.80)" stroke="#222" stroke-width="0.14">P22</text>
<text x="151.46" y="457.80" font-size="5.2" text-anchor="start" font-weight="normal" font-style="normal" fill="#222" transform="rotate(-90 151.46 457.80)" stroke="#222" stroke-width="0.14">P01</text>
<text x="157.44" y="457.80" font-size="5.2" text-anchor="start" font-weight="normal" font-style="normal" fill="#222" transform="rotate(-90 157.44 457.80)" stroke="#222" stroke-width="0.14">P21</text>
<text x="163.42" y="457.80" font-size="5.2" text-anchor="start" font-weight="normal" font-style="normal" fill="#222" transform="rotate(-90 163.42 457.80)" stroke="#222" stroke-width="0.14">P16</text>
<text x="169.40" y="457.80" font-size="5.2" text-anchor="start" font-weight="normal" font-style="normal" fill="#222" transform="rotate(-90 169.40 457.80)" stroke="#222" stroke-width="0.14">P03</text>
<text x="175.38" y="457.80" font-size="5.2" text-anchor="start" font-weight="normal" font-style="normal" fill="#222" transform="rotate(-90 175.38 457.80)" stroke="#222" stroke-width="0.14">P11</text>
<text x="181.36" y="457.80" font-size="5.2" text-anchor="start" font-weight="normal" font-style="normal" fill="#222" transform="rotate(-90 181.36 457.80)" stroke="#222" stroke-width="0.14">P07</text>
<text x="187.34" y="457.80" font-size="5.2" text-anchor="start" font-weight="normal" font-style="normal" fill="#222" transform="rotate(-90 187.34 457.80)" stroke="#222" stroke-width="0.14">P12</text>
<text x="193.32" y="457.80" font-size="5.2" text-anchor="start" font-weight="normal" font-style="normal" fill="#222" transform="rotate(-90 193.32 457.80)" stroke="#222" stroke-width="0.14">P24</text>
<text x="199.30" y="457.80" font-size="5.2" text-anchor="start" font-weight="normal" font-style="normal" fill="#222" transform="rotate(-90 199.30 457.80)" stroke="#222" stroke-width="0.14">P25</text>
<text x="205.28" y="457.80" font-size="5.2" text-anchor="start" font-weight="normal" font-style="normal" fill="#222" transform="rotate(-90 205.28 457.80)" stroke="#222" stroke-width="0.14">P26</text>
<text x="211.26" y="457.80" font-size="5.2" text-anchor="start" font-weight="normal" font-style="normal" fill="#222" transform="rotate(-90 211.26 457.80)" stroke="#222" stroke-width="0.14">P23</text>
<path d="M35.04 460.9 L36.94 460.9 L35.99 459.1 Z" fill="#b01c26"/>
<path d="M130.72 460.9 L132.62 460.9 L131.67 459.1 Z" fill="#b01c26"/>
<path d="M148.66 460.9 L150.56 460.9 L149.61 459.1 Z" fill="#b01c26"/>
<path d="M184.54 460.9 L186.44 460.9 L185.49 459.1 Z" fill="#b01c26"/>
<rect x="32.80" y="462.60" width="179.50" height="37.62" fill="#e9e4d8"/>
<rect x="33.10" y="462.90" width="5.48" height="4.19" fill="#9e1b2f"/>
<rect x="39.08" y="462.90" width="5.48" height="4.19" fill="#9e1b2f"/>
<rect x="45.06" y="462.90" width="5.48" height="4.19" fill="#9e1b2f"/>
<rect x="51.04" y="462.90" width="5.48" height="4.19" fill="#9e1b2f"/>
<rect x="57.02" y="462.90" width="5.48" height="4.19" fill="#9e1b2f"/>
<rect x="63.00" y="462.90" width="5.48" height="4.19" fill="#9e1b2f"/>
<rect x="68.98" y="462.90" width="5.48" height="4.19" fill="#9e1b2f"/>
<rect x="74.96" y="462.90" width="5.48" height="4.19" fill="#9e1b2f"/>
<rect x="80.94" y="462.90" width="5.48" height="4.19" fill="#9e1b2f"/>
<rect x="86.92" y="462.90" width="5.48" height="4.19" fill="#9e1b2f"/>
<rect x="92.90" y="462.90" width="5.48" height="4.19" fill="#9e1b2f"/>
<rect x="98.88" y="462.90" width="5.48" height="4.19" fill="#9e1b2f"/>
<rect x="104.86" y="462.90" width="5.48" height="4.19" fill="#9e1b2f"/>
<rect x="110.84" y="462.90" width="5.48" height="4.19" fill="#9e1b2f"/>
<rect x="116.82" y="462.90" width="5.48" height="4.19" fill="#9e1b2f"/>
<rect x="122.80" y="462.90" width="5.48" height="4.19" fill="#9e1b2f"/>
<rect x="128.78" y="462.90" width="5.48" height="4.19" fill="#9e1b2f"/>
<rect x="134.76" y="462.90" width="5.48" height="4.19" fill="#9e1b2f"/>
<rect x="140.74" y="462.90" width="5.48" height="4.19" fill="#9e1b2f"/>
<rect x="146.72" y="462.90" width="5.48" height="4.19" fill="#9e1b2f"/>
<rect x="152.70" y="462.90" width="5.48" height="4.19" fill="#c0202a"/>
<rect x="158.68" y="462.90" width="5.48" height="4.19" fill="#1f2f80"/>
<rect x="164.66" y="462.90" width="5.48" height="4.19" fill="#1f2f80"/>
<rect x="170.64" y="462.90" width="5.48" height="4.19" fill="#1f2f80"/>
<rect x="176.62" y="462.90" width="5.48" height="4.19" fill="#1f2f80"/>
<rect x="182.60" y="462.90" width="5.48" height="4.19" fill="#1f2f80"/>
<rect x="188.58" y="462.90" width="5.48" height="4.19" fill="#1f2f80"/>
<rect x="194.56" y="462.90" width="5.48" height="4.19" fill="#1f2f80"/>
<rect x="200.54" y="462.90" width="5.48" height="4.19" fill="#1f2f80"/>
<rect x="206.52" y="462.90" width="5.48" height="4.19" fill="#1f2f80"/>
<text x="214.5" y="466.65" font-size="4.6" fill="#222" stroke="#222" stroke-width="0.12"><tspan font-style="italic">FH</tspan> mutation type</text>
<rect x="33.10" y="467.59" width="5.48" height="4.19" fill="#1f5a99"/>
<rect x="39.08" y="467.59" width="5.48" height="4.19" fill="#1f5a99"/>
<rect x="45.06" y="467.59" width="5.48" height="4.19" fill="#a84a1f"/>
<rect x="51.04" y="467.59" width="5.48" height="4.19" fill="#a84a1f"/>
<rect x="57.02" y="467.59" width="5.48" height="4.19" fill="#a84a1f"/>
<rect x="63.00" y="467.59" width="5.48" height="4.19" fill="#a84a1f"/>
<rect x="68.98" y="467.59" width="5.48" height="4.19" fill="#a84a1f"/>
<rect x="74.96" y="467.59" width="5.48" height="4.19" fill="#1f5a99"/>
<rect x="80.94" y="467.59" width="5.48" height="4.19" fill="#1f5a99"/>
<rect x="86.92" y="467.59" width="5.48" height="4.19" fill="#1f5a99"/>
<rect x="92.90" y="467.59" width="5.48" height="4.19" fill="#1f5a99"/>
<rect x="98.88" y="467.59" width="5.48" height="4.19" fill="#a84a1f"/>
<rect x="104.86" y="467.59" width="5.48" height="4.19" fill="#a84a1f"/>
<rect x="110.84" y="467.59" width="5.48" height="4.19" fill="#1f5a99"/>
<rect x="116.82" y="467.59" width="5.48" height="4.19" fill="#1f5a99"/>
<rect x="122.80" y="467.59" width="5.48" height="4.19" fill="#1f5a99"/>
<rect x="128.78" y="467.59" width="5.48" height="4.19" fill="#a84a1f"/>
<rect x="134.76" y="467.59" width="5.48" height="4.19" fill="#1f5a99"/>
<rect x="140.74" y="467.59" width="5.48" height="4.19" fill="#1f5a99"/>
<rect x="146.72" y="467.59" width="5.48" height="4.19" fill="#1f5a99"/>
<rect x="152.70" y="467.59" width="5.48" height="4.19" fill="#a84a1f"/>
<rect x="158.68" y="467.59" width="5.48" height="4.19" fill="#1f5a99"/>
<rect x="164.66" y="467.59" width="5.48" height="4.19" fill="#1f5a99"/>
<rect x="170.64" y="467.59" width="5.48" height="4.19" fill="#1f5a99"/>
<rect x="176.62" y="467.59" width="5.48" height="4.19" fill="#1f5a99"/>
<rect x="182.60" y="467.59" width="5.48" height="4.19" fill="#1f5a99"/>
<rect x="188.58" y="467.59" width="5.48" height="4.19" fill="#1f5a99"/>
<rect x="194.56" y="467.59" width="5.48" height="4.19" fill="#1f5a99"/>
<rect x="200.54" y="467.59" width="5.48" height="4.19" fill="#1f5a99"/>
<rect x="206.52" y="467.59" width="5.48" height="4.19" fill="#1f5a99"/>
<text x="214.50" y="471.34" font-size="4.6" text-anchor="start" font-weight="normal" font-style="normal" fill="#222" stroke="#222" stroke-width="0.14">FH IHC</text>
<rect x="33.10" y="472.28" width="5.48" height="4.19" fill="#c09020"/>
<rect x="39.08" y="472.28" width="5.48" height="4.19" fill="#f0c030"/>
<rect x="45.06" y="472.28" width="5.48" height="4.19" fill="#c09020"/>
<rect x="51.04" y="472.28" width="5.48" height="4.19" fill="#f0c030"/>
<rect x="57.02" y="472.28" width="5.48" height="4.19" fill="#c09020"/>
<rect x="63.00" y="472.28" width="5.48" height="4.19" fill="#f0c030"/>
<rect x="68.98" y="472.28" width="5.48" height="4.19" fill="#f0c030"/>
<rect x="74.96" y="472.28" width="5.48" height="4.19" fill="#f0c030"/>
<rect x="80.94" y="472.28" width="5.48" height="4.19" fill="#c09020"/>
<rect x="86.92" y="472.28" width="5.48" height="4.19" fill="#c09020"/>
<rect x="92.90" y="472.28" width="5.48" height="4.19" fill="#f0c030"/>
<rect x="98.88" y="472.28" width="5.48" height="4.19" fill="#f0c030"/>
<rect x="104.86" y="472.28" width="5.48" height="4.19" fill="#c09020"/>
<rect x="110.84" y="472.28" width="5.48" height="4.19" fill="#f0c030"/>
<rect x="116.82" y="472.28" width="5.48" height="4.19" fill="#c09020"/>
<rect x="122.80" y="472.28" width="5.48" height="4.19" fill="#f0c030"/>
<rect x="128.78" y="472.28" width="5.48" height="4.19" fill="#f0c030"/>
<rect x="134.76" y="472.28" width="5.48" height="4.19" fill="#f0c030"/>
<rect x="140.74" y="472.28" width="5.48" height="4.19" fill="#c09020"/>
<rect x="146.72" y="472.28" width="5.48" height="4.19" fill="#c09020"/>
<rect x="152.70" y="472.28" width="5.48" height="4.19" fill="#c09020"/>
<rect x="158.68" y="472.28" width="5.48" height="4.19" fill="#c09020"/>
<rect x="164.66" y="472.28" width="5.48" height="4.19" fill="#c09020"/>
<rect x="170.64" y="472.28" width="5.48" height="4.19" fill="#f0c030"/>
<rect x="176.62" y="472.28" width="5.48" height="4.19" fill="#f0c030"/>
<rect x="182.60" y="472.28" width="5.48" height="4.19" fill="#f0c030"/>
<rect x="188.58" y="472.28" width="5.48" height="4.19" fill="#c09020"/>
<rect x="194.56" y="472.28" width="5.48" height="4.19" fill="#c09020"/>
<rect x="200.54" y="472.28" width="5.48" height="4.19" fill="#c09020"/>
<rect x="206.52" y="472.28" width="5.48" height="4.19" fill="#f0c030"/>
<text x="214.50" y="476.03" font-size="4.6" text-anchor="start" font-weight="normal" font-style="normal" fill="#222" stroke="#222" stroke-width="0.14">Age</text>
<rect x="33.10" y="476.97" width="5.48" height="4.19" fill="#7d99b5"/>
<rect x="39.08" y="476.97" width="5.48" height="4.19" fill="#b5d5e5"/>
<rect x="45.06" y="476.97" width="5.48" height="4.19" fill="#7d99b5"/>
<rect x="51.04" y="476.97" width="5.48" height="4.19" fill="#b5d5e5"/>
<rect x="57.02" y="476.97" width="5.48" height="4.19" fill="#7d99b5"/>
<rect x="63.00" y="476.97" width="5.48" height="4.19" fill="#b5d5e5"/>
<rect x="68.98" y="476.97" width="5.48" height="4.19" fill="#7d99b5"/>
<rect x="74.96" y="476.97" width="5.48" height="4.19" fill="#7d99b5"/>
<rect x="80.94" y="476.97" width="5.48" height="4.19" fill="#b5d5e5"/>
<rect x="86.92" y="476.97" width="5.48" height="4.19" fill="#7d99b5"/>
<rect x="92.90" y="476.97" width="5.48" height="4.19" fill="#b5d5e5"/>
<rect x="98.88" y="476.97" width="5.48" height="4.19" fill="#7d99b5"/>
<rect x="104.86" y="476.97" width="5.48" height="4.19" fill="#7d99b5"/>
<rect x="110.84" y="476.97" width="5.48" height="4.19" fill="#7d99b5"/>
<rect x="116.82" y="476.97" width="5.48" height="4.19" fill="#7d99b5"/>
<rect x="122.80" y="476.97" width="5.48" height="4.19" fill="#7d99b5"/>
<rect x="128.78" y="476.97" width="5.48" height="4.19" fill="#7d99b5"/>
<rect x="134.76" y="476.97" width="5.48" height="4.19" fill="#b5d5e5"/>
<rect x="140.74" y="476.97" width="5.48" height="4.19" fill="#7d99b5"/>
<rect x="146.72" y="476.97" width="5.48" height="4.19" fill="#7d99b5"/>
<rect x="152.70" y="476.97" width="5.48" height="4.19" fill="#7d99b5"/>
<rect x="158.68" y="476.97" width="5.48" height="4.19" fill="#7d99b5"/>
<rect x="164.66" y="476.97" width="5.48" height="4.19" fill="#7d99b5"/>
<rect x="170.64" y="476.97" width="5.48" height="4.19" fill="#b5d5e5"/>
<rect x="176.62" y="476.97" width="5.48" height="4.19" fill="#b5d5e5"/>
<rect x="182.60" y="476.97" width="5.48" height="4.19" fill="#7d99b5"/>
<rect x="188.58" y="476.97" width="5.48" height="4.19" fill="#7d99b5"/>
<rect x="194.56" y="476.97" width="5.48" height="4.19" fill="#7d99b5"/>
<rect x="200.54" y="476.97" width="5.48" height="4.19" fill="#7d99b5"/>
<rect x="206.52" y="476.97" width="5.48" height="4.19" fill="#7d99b5"/>
<text x="214.50" y="480.72" font-size="4.6" text-anchor="start" font-weight="normal" font-style="normal" fill="#222" stroke="#222" stroke-width="0.14">Gender</text>
<rect x="33.10" y="481.66" width="5.48" height="4.19" fill="#0c4a22"/>
<rect x="39.08" y="481.66" width="5.48" height="4.19" fill="#3daa6d"/>
<rect x="45.06" y="481.66" width="5.48" height="4.19" fill="#0c4a22"/>
<rect x="51.04" y="481.66" width="5.48" height="4.19" fill="#14703a"/>
<rect x="57.02" y="481.66" width="5.48" height="4.19" fill="#1f9a50"/>
<rect x="63.00" y="481.66" width="5.48" height="4.19" fill="#0c4a22"/>
<rect x="68.98" y="481.66" width="5.48" height="4.19" fill="#14703a"/>
<rect x="74.96" y="481.66" width="5.48" height="4.19" fill="#0c4a22"/>
<rect x="80.94" y="481.66" width="5.48" height="4.19" fill="#0c4a22"/>
<rect x="86.92" y="481.66" width="5.48" height="4.19" fill="#0c4a22"/>
<rect x="92.90" y="481.66" width="5.48" height="4.19" fill="#0c4a22"/>
<rect x="98.88" y="481.66" width="5.48" height="4.19" fill="#0c4a22"/>
<rect x="104.86" y="481.66" width="5.48" height="4.19" fill="#0c4a22"/>
<rect x="110.84" y="481.66" width="5.48" height="4.19" fill="#14703a"/>
<rect x="116.82" y="481.66" width="5.48" height="4.19" fill="#14703a"/>
<rect x="122.80" y="481.66" width="5.48" height="4.19" fill="#0c4a22"/>
<rect x="128.78" y="481.66" width="5.48" height="4.19" fill="#0c4a22"/>
<rect x="134.76" y="481.66" width="5.48" height="4.19" fill="#0c4a22"/>
<rect x="140.74" y="481.66" width="5.48" height="4.19" fill="#14703a"/>
<rect x="146.72" y="481.66" width="5.48" height="4.19" fill="#1f9a50"/>
<rect x="152.70" y="481.66" width="5.48" height="4.19" fill="#1f9a50"/>
<rect x="158.68" y="481.66" width="5.48" height="4.19" fill="#1f9a50"/>
<rect x="164.66" y="481.66" width="5.48" height="4.19" fill="#14703a"/>
<rect x="170.64" y="481.66" width="5.48" height="4.19" fill="#0c4a22"/>
<rect x="176.62" y="481.66" width="5.48" height="4.19" fill="#3daa6d"/>
<rect x="182.60" y="481.66" width="5.48" height="4.19" fill="#0c4a22"/>
<rect x="188.58" y="481.66" width="5.48" height="4.19" fill="#3daa6d"/>
<rect x="194.56" y="481.66" width="5.48" height="4.19" fill="#0c4a22"/>
<rect x="200.54" y="481.66" width="5.48" height="4.19" fill="#1f9a50"/>
<rect x="206.52" y="481.66" width="5.48" height="4.19" fill="#1f9a50"/>
<text x="214.50" y="485.41" font-size="4.6" text-anchor="start" font-weight="normal" font-style="normal" fill="#222" stroke="#222" stroke-width="0.14">Stage</text>
<rect x="33.10" y="486.35" width="5.48" height="4.19" fill="#1f3f99"/>
<rect x="39.08" y="486.35" width="5.48" height="4.19" fill="#1f3f99"/>
<rect x="45.06" y="486.35" width="5.48" height="4.19" fill="#1f3f99"/>
<rect x="51.04" y="486.35" width="5.48" height="4.19" fill="#1f3f99"/>
<rect x="57.02" y="486.35" width="5.48" height="4.19" fill="#f0a030"/>
<rect x="63.00" y="486.35" width="5.48" height="4.19" fill="#f0a030"/>
<rect x="68.98" y="486.35" width="5.48" height="4.19" fill="#1f3f99"/>
<rect x="74.96" y="486.35" width="5.48" height="4.19" fill="#1f3f99"/>
<rect x="80.94" y="486.35" width="5.48" height="4.19" fill="#1f3f99"/>
<rect x="86.92" y="486.35" width="5.48" height="4.19" fill="#8a80b0"/>
<rect x="92.90" y="486.35" width="5.48" height="4.19" fill="#1f3f99"/>
<rect x="98.88" y="486.35" width="5.48" height="4.19" fill="#f0a030"/>
<rect x="104.86" y="486.35" width="5.48" height="4.19" fill="#1f3f99"/>
<rect x="110.84" y="486.35" width="5.48" height="4.19" fill="#f0a030"/>
<rect x="116.82" y="486.35" width="5.48" height="4.19" fill="#f0a030"/>
<rect x="122.80" y="486.35" width="5.48" height="4.19" fill="#1f3f99"/>
<rect x="128.78" y="486.35" width="5.48" height="4.19" fill="#1f3f99"/>
<rect x="134.76" y="486.35" width="5.48" height="4.19" fill="#1f3f99"/>
<rect x="140.74" y="486.35" width="5.48" height="4.19" fill="#f0a030"/>
<rect x="146.72" y="486.35" width="5.48" height="4.19" fill="#f0a030"/>
<rect x="152.70" y="486.35" width="5.48" height="4.19" fill="#8a80b0"/>
<rect x="158.68" y="486.35" width="5.48" height="4.19" fill="#f0a030"/>
<rect x="164.66" y="486.35" width="5.48" height="4.19" fill="#1f3f99"/>
<rect x="170.64" y="486.35" width="5.48" height="4.19" fill="#1f3f99"/>
<rect x="176.62" y="486.35" width="5.48" height="4.19" fill="#1f3f99"/>
<rect x="182.60" y="486.35" width="5.48" height="4.19" fill="#1f3f99"/>
<rect x="188.58" y="486.35" width="5.48" height="4.19" fill="#8a80b0"/>
<rect x="194.56" y="486.35" width="5.48" height="4.19" fill="#1f3f99"/>
<rect x="200.54" y="486.35" width="5.48" height="4.19" fill="#8a80b0"/>
<rect x="206.52" y="486.35" width="5.48" height="4.19" fill="#8a80b0"/>
<text x="214.50" y="490.10" font-size="4.6" text-anchor="start" font-weight="normal" font-style="normal" fill="#222" stroke="#222" stroke-width="0.14">Type of therapy</text>
<rect x="33.10" y="491.04" width="5.48" height="4.19" fill="#5a2a90"/>
<rect x="39.08" y="491.04" width="5.48" height="4.19" fill="#b0207a"/>
<rect x="45.06" y="491.04" width="5.48" height="4.19" fill="#5a2a90"/>
<rect x="51.04" y="491.04" width="5.48" height="4.19" fill="#b0207a"/>
<rect x="57.02" y="491.04" width="5.48" height="4.19" fill="#5a2a90"/>
<rect x="63.00" y="491.04" width="5.48" height="4.19" fill="#5a2a90"/>
<rect x="68.98" y="491.04" width="5.48" height="4.19" fill="#b0207a"/>
<rect x="74.96" y="491.04" width="5.48" height="4.19" fill="#5a2a90"/>
<rect x="80.94" y="491.04" width="5.48" height="4.19" fill="#b0207a"/>
<rect x="86.92" y="491.04" width="5.48" height="4.19" fill="#b0207a"/>
<rect x="92.90" y="491.04" width="5.48" height="4.19" fill="#b0207a"/>
<rect x="98.88" y="491.04" width="5.48" height="4.19" fill="#5a2a90"/>
<rect x="104.86" y="491.04" width="5.48" height="4.19" fill="#b0207a"/>
<rect x="110.84" y="491.04" width="5.48" height="4.19" fill="#5a2a90"/>
<rect x="116.82" y="491.04" width="5.48" height="4.19" fill="#5a2a90"/>
<rect x="122.80" y="491.04" width="5.48" height="4.19" fill="#b0207a"/>
<rect x="128.78" y="491.04" width="5.48" height="4.19" fill="#b0207a"/>
<rect x="134.76" y="491.04" width="5.48" height="4.19" fill="#5a2a90"/>
<rect x="140.74" y="491.04" width="5.48" height="4.19" fill="#b0207a"/>
<rect x="146.72" y="491.04" width="5.48" height="4.19" fill="#5a2a90"/>
<rect x="152.70" y="491.04" width="5.48" height="4.19" fill="#b0207a"/>
<rect x="158.68" y="491.04" width="5.48" height="4.19" fill="#5a2a90"/>
<rect x="164.66" y="491.04" width="5.48" height="4.19" fill="#b0207a"/>
<rect x="170.64" y="491.04" width="5.48" height="4.19" fill="#5a2a90"/>
<rect x="176.62" y="491.04" width="5.48" height="4.19" fill="#b0207a"/>
<rect x="182.60" y="491.04" width="5.48" height="4.19" fill="#5a2a90"/>
<rect x="188.58" y="491.04" width="5.48" height="4.19" fill="#c8203a"/>
<rect x="194.56" y="491.04" width="5.48" height="4.19" fill="#5a2a90"/>
<rect x="200.54" y="491.04" width="5.48" height="4.19" fill="#b0207a"/>
<rect x="206.52" y="491.04" width="5.48" height="4.19" fill="#b0207a"/>
<text x="214.50" y="494.79" font-size="4.6" text-anchor="start" font-weight="normal" font-style="normal" fill="#222" stroke="#222" stroke-width="0.14">Response</text>
<rect x="33.10" y="495.73" width="5.48" height="4.19" fill="#2fb050"/>
<rect x="39.08" y="495.73" width="5.48" height="4.19" fill="#3a4a40"/>
<rect x="45.06" y="495.73" width="5.48" height="4.19" fill="#2fb050"/>
<rect x="51.04" y="495.73" width="5.48" height="4.19" fill="#3a4a40"/>
<rect x="57.02" y="495.73" width="5.48" height="4.19" fill="#2fb050"/>
<rect x="63.00" y="495.73" width="5.48" height="4.19" fill="#2fb050"/>
<rect x="68.98" y="495.73" width="5.48" height="4.19" fill="#2fb050"/>
<rect x="74.96" y="495.73" width="5.48" height="4.19" fill="#2fb050"/>
<rect x="80.94" y="495.73" width="5.48" height="4.19" fill="#2fb050"/>
<rect x="86.92" y="495.73" width="5.48" height="4.19" fill="#2fb050"/>
<rect x="92.90" y="495.73" width="5.48" height="4.19" fill="#2fb050"/>
<rect x="98.88" y="495.73" width="5.48" height="4.19" fill="#2fb050"/>
<rect x="104.86" y="495.73" width="5.48" height="4.19" fill="#2fb050"/>
<rect x="110.84" y="495.73" width="5.48" height="4.19" fill="#3a4a40"/>
<rect x="116.82" y="495.73" width="5.48" height="4.19" fill="#3a4a40"/>
<rect x="122.80" y="495.73" width="5.48" height="4.19" fill="#2fb050"/>
<rect x="128.78" y="495.73" width="5.48" height="4.19" fill="#2fb050"/>
<rect x="134.76" y="495.73" width="5.48" height="4.19" fill="#2fb050"/>
<rect x="140.74" y="495.73" width="5.48" height="4.19" fill="#2fb050"/>
<rect x="146.72" y="495.73" width="5.48" height="4.19" fill="#2fb050"/>
<rect x="152.70" y="495.73" width="5.48" height="4.19" fill="#2fb050"/>
<rect x="158.68" y="495.73" width="5.48" height="4.19" fill="#2fb050"/>
<rect x="164.66" y="495.73" width="5.48" height="4.19" fill="#3a4a40"/>
<rect x="170.64" y="495.73" width="5.48" height="4.19" fill="#2fb050"/>
<rect x="176.62" y="495.73" width="5.48" height="4.19" fill="#2fb050"/>
<rect x="182.60" y="495.73" width="5.48" height="4.19" fill="#3a4a40"/>
<rect x="188.58" y="495.73" width="5.48" height="4.19" fill="#2fb050"/>
<rect x="194.56" y="495.73" width="5.48" height="4.19" fill="#2fb050"/>
<rect x="200.54" y="495.73" width="5.48" height="4.19" fill="#2fb050"/>
<rect x="206.52" y="495.73" width="5.48" height="4.19" fill="#2fb050"/>
<text x="214.50" y="499.48" font-size="4.6" text-anchor="start" font-weight="normal" font-style="normal" fill="#222" stroke="#222" stroke-width="0.14">Status</text>
<rect x="10.00" y="505.50" width="2.90" height="2.90" fill="#1f68a9"/>
<text x="14.20" y="508.60" font-size="4.9" fill="#222" stroke="#222" stroke-width="0.14">Missense_Mutation</text>
<rect x="10.00" y="513.70" width="2.90" height="2.90" fill="#b2df8a"/>
<text x="14.20" y="516.80" font-size="4.9" fill="#222" stroke="#222" stroke-width="0.14">Nonsense_Mutation</text>
<rect x="10.00" y="521.80" width="2.90" height="2.90" fill="#a6cee3"/>
<text x="14.20" y="524.90" font-size="4.9" fill="#222" stroke="#222" stroke-width="0.14">Frame_Shift_Del</text>
<rect x="10.00" y="529.90" width="2.90" height="2.90" fill="#c8102e"/>
<text x="14.20" y="533.00" font-size="4.9" fill="#222" stroke="#222" stroke-width="0.14">In_Frame_Ins</text>
<rect x="60.00" y="505.50" width="2.90" height="2.90" fill="#f58220"/>
<text x="64.20" y="508.60" font-size="4.9" fill="#222" stroke="#222" stroke-width="0.14">In_Frame_Del</text>
<rect x="60.00" y="513.70" width="2.90" height="2.90" fill="#fb9a99"/>
<text x="64.20" y="516.80" font-size="4.9" fill="#222" stroke="#222" stroke-width="0.14">Frame_Shift_Ins</text>
<rect x="60.00" y="521.80" width="2.90" height="2.90" fill="#2f9a3a"/>
<text x="64.20" y="524.90" font-size="4.9" fill="#222" stroke="#222" stroke-width="0.14">Multi_Hit</text>
<rect x="60.00" y="529.90" width="2.90" height="2.90" fill="#7b68ae"/>
<text x="64.20" y="533.00" font-size="4.9" fill="#222" stroke="#222" stroke-width="0.14">Silent</text>
<text x="105.5" y="508.6" font-size="4.9" fill="#222" stroke="#222" stroke-width="0.14"><tspan font-style="italic">FH</tspan> mutation type</text>
<rect x="105.50" y="513.70" width="2.90" height="2.90" fill="#7a1420"/>
<text x="109.70" y="516.80" font-size="4.9" fill="#222" stroke="#222" stroke-width="0.14">Germline</text>
<rect x="105.50" y="521.80" width="2.90" height="2.90" fill="#1f2f80"/>
<text x="109.70" y="524.90" font-size="4.9" fill="#222" stroke="#222" stroke-width="0.14">Somatic</text>
<text x="145.00" y="508.60" font-size="4.9" text-anchor="start" font-weight="normal" font-style="normal" fill="#222" stroke="#222" stroke-width="0.14">FH IHC</text>
<rect x="145.50" y="513.70" width="2.90" height="2.90" fill="#8a2a1a"/>
<text x="149.70" y="516.80" font-size="4.9" fill="#222" stroke="#222" stroke-width="0.14">Positive</text>
<rect x="145.50" y="521.80" width="2.90" height="2.90" fill="#1f4f80"/>
<text x="149.70" y="524.90" font-size="4.9" fill="#222" stroke="#222" stroke-width="0.14">Negative</text>
<text x="172.50" y="508.60" font-size="4.9" text-anchor="start" font-weight="normal" font-style="normal" fill="#222" stroke="#222" stroke-width="0.14">Age</text>
<rect x="171.90" y="513.70" width="2.90" height="2.90" fill="#e3c23c"/>
<text x="177.60" y="516.80" font-size="4.9" fill="#222" stroke="#222" stroke-width="0.14">≤36</text>
<rect x="171.90" y="521.80" width="2.90" height="2.90" fill="#ad922a"/>
<text x="177.60" y="524.90" font-size="4.9" fill="#222" stroke="#222" stroke-width="0.14">&gt;36</text>
<text x="188.00" y="508.60" font-size="4.9" text-anchor="start" font-weight="normal" font-style="normal" fill="#222" stroke="#222" stroke-width="0.14">Gender</text>
<rect x="188.50" y="513.70" width="2.90" height="2.90" fill="#b5d5e5"/>
<text x="192.30" y="516.80" font-size="4.9" fill="#222" stroke="#222" stroke-width="0.14">Female</text>
<rect x="188.50" y="521.80" width="2.90" height="2.90" fill="#7d99b5"/>
<text x="192.30" y="524.90" font-size="4.9" fill="#222" stroke="#222" stroke-width="0.14">Male</text>
<text x="210.50" y="508.60" font-size="4.9" text-anchor="start" font-weight="normal" font-style="normal" fill="#222" stroke="#222" stroke-width="0.14">Stage</text>
<rect x="211.30" y="513.70" width="2.90" height="2.90" fill="#3daa6d"/>
<text x="216.80" y="516.80" font-size="4.9" fill="#222" stroke="#222" stroke-width="0.14">I</text>
<rect x="224.30" y="513.70" width="2.90" height="2.90" fill="#1f9a50"/>
<text x="229.30" y="516.80" font-size="4.9" fill="#222" stroke="#222" stroke-width="0.14">II</text>
<rect x="211.30" y="521.80" width="2.90" height="2.90" fill="#14703a"/>
<text x="216.80" y="524.90" font-size="4.9" fill="#222" stroke="#222" stroke-width="0.14">III</text>
<rect x="224.30" y="521.80" width="2.90" height="2.90" fill="#0c4a22"/>
<text x="229.80" y="524.90" font-size="4.9" fill="#222" stroke="#222" stroke-width="0.14">IV</text>
<text x="238.00" y="508.60" font-size="4.9" text-anchor="start" font-weight="normal" font-style="normal" fill="#222" stroke="#222" stroke-width="0.14">Type of therapy</text>
<rect x="238.00" y="513.70" width="2.90" height="2.90" fill="#8a80b0"/>
<text x="243.00" y="516.80" font-size="4.9" fill="#222" stroke="#222" stroke-width="0.14">1<tspan font-size="3" dy="-1.6">st</tspan><tspan dy="1.6"> TKI</tspan></text>
<rect x="238.00" y="521.80" width="2.90" height="2.90" fill="#f0a030"/>
<text x="243.00" y="524.90" font-size="4.9" fill="#222" stroke="#222" stroke-width="0.14">2<tspan font-size="3" dy="-1.6">nd</tspan><tspan dy="1.6"> without ICI</tspan></text>
<rect x="238.00" y="529.90" width="2.90" height="2.90" fill="#1f3f99"/>
<text x="243.00" y="533.00" font-size="4.9" fill="#222" stroke="#222" stroke-width="0.14">2<tspan font-size="3" dy="-1.6">nd</tspan><tspan dy="1.6"> with ICI</tspan></text>
<text x="276.30" y="508.60" font-size="4.9" text-anchor="start" font-weight="normal" font-style="normal" fill="#222" stroke="#222" stroke-width="0.14">Response</text>
<rect x="277.50" y="513.70" width="2.90" height="2.90" fill="#b0207a"/>
<text x="282.50" y="516.80" font-size="4.9" fill="#222" stroke="#222" stroke-width="0.14">PR</text>
<rect x="277.50" y="521.80" width="2.90" height="2.90" fill="#c8203a"/>
<text x="282.50" y="524.90" font-size="4.9" fill="#222" stroke="#222" stroke-width="0.14">SD</text>
<rect x="277.50" y="529.90" width="2.90" height="2.90" fill="#5a2a90"/>
<text x="282.50" y="533.00" font-size="4.9" fill="#222" stroke="#222" stroke-width="0.14">PD</text>
<text x="302.00" y="508.60" font-size="4.9" text-anchor="start" font-weight="normal" font-style="normal" fill="#222" stroke="#222" stroke-width="0.14">Status</text>
<rect x="303.00" y="513.70" width="2.90" height="2.90" fill="#2fb050"/>
<text x="307.50" y="516.80" font-size="4.9" fill="#222" stroke="#222" stroke-width="0.14">Alive</text>
<rect x="303.00" y="521.80" width="2.90" height="2.90" fill="#3a4a40"/>
<text x="307.50" y="524.90" font-size="4.9" fill="#222" stroke="#222" stroke-width="0.14">Dead</text>
</g>
<g id="panelC">
<text x="321.80" y="182.40" font-size="13" text-anchor="start" font-weight="bold" font-style="normal" fill="#111">C</text>
<text x="346.60" y="200.60" font-size="7.8" text-anchor="start" font-weight="bold" font-style="italic" fill="#111" stroke="#111" stroke-width="0.14">FH</text>
<text x="346.00" y="210.00" font-size="6.7" text-anchor="start" font-weight="normal" font-style="normal" fill="#222" stroke="#222" stroke-width="0.14">NM_000143</text>
<circle cx="451.8" cy="184.00" r="1.05" fill="#d7263d"/>
<text x="456.40" y="186.30" font-size="6.6" text-anchor="start" font-weight="normal" font-style="normal" fill="#222" stroke="#222" stroke-width="0.14">Nonsense_Mutation</text>
<circle cx="451.8" cy="192.30" r="1.05" fill="#4daf4a"/>
<text x="456.40" y="194.60" font-size="6.6" text-anchor="start" font-weight="normal" font-style="normal" fill="#222" stroke="#222" stroke-width="0.14">Missense_Mutation</text>
<circle cx="451.8" cy="200.60" r="1.05" fill="#4a8fc9"/>
<text x="456.40" y="202.90" font-size="6.6" text-anchor="start" font-weight="normal" font-style="normal" fill="#222" stroke="#222" stroke-width="0.14">Frame_Shift_Del</text>
<circle cx="451.8" cy="208.90" r="1.05" fill="#6a51a3"/>
<text x="456.40" y="211.20" font-size="6.6" text-anchor="start" font-weight="normal" font-style="normal" fill="#222" stroke="#222" stroke-width="0.14">Frame_Shift_Ins</text>
<line x1="348.40" y1="226.10" x2="348.40" y2="279.78" stroke="#555" stroke-width="0.5"/>
<line x1="346.60" y1="279.78" x2="348.40" y2="279.78" stroke="#555" stroke-width="0.5"/>
<text x="343.60" y="282.28" font-size="7.2" text-anchor="end" font-weight="normal" font-style="normal" fill="#222" stroke="#222" stroke-width="0.14">1</text>
<line x1="346.60" y1="266.36" x2="348.40" y2="266.36" stroke="#555" stroke-width="0.5"/>
<text x="343.60" y="268.86" font-size="7.2" text-anchor="end" font-weight="normal" font-style="normal" fill="#222" stroke="#222" stroke-width="0.14">2</text>
<line x1="346.60" y1="252.94" x2="348.40" y2="252.94" stroke="#555" stroke-width="0.5"/>
<text x="343.60" y="255.44" font-size="7.2" text-anchor="end" font-weight="normal" font-style="normal" fill="#222" stroke="#222" stroke-width="0.14">3</text>
<line x1="346.60" y1="239.52" x2="348.40" y2="239.52" stroke="#555" stroke-width="0.5"/>
<text x="343.60" y="242.02" font-size="7.2" text-anchor="end" font-weight="normal" font-style="normal" fill="#222" stroke="#222" stroke-width="0.14">4</text>
<line x1="346.60" y1="226.10" x2="348.40" y2="226.10" stroke="#555" stroke-width="0.5"/>
<text x="343.60" y="228.60" font-size="7.2" text-anchor="end" font-weight="normal" font-style="normal" fill="#222" stroke="#222" stroke-width="0.14">5</text>
<line x1="374.16" y1="293.40" x2="374.16" y2="279.78" stroke="#c4c4c4" stroke-width="0.45"/>
<circle cx="374.16" cy="279.78" r="0.7" fill="#d7263d"/>
<text x="374.76" y="276.58" font-size="4.9" text-anchor="start" font-weight="normal" font-style="normal" fill="#222" transform="rotate(-70 374.76 276.58)" stroke="#222" stroke-width="0.14">K80*</text>
<line x1="377.02" y1="293.40" x2="377.02" y2="279.78" stroke="#c4c4c4" stroke-width="0.45"/>
<circle cx="377.02" cy="279.78" r="0.7" fill="#4daf4a"/>
<text x="379.02" y="276.58" font-size="4.9" text-anchor="start" font-weight="normal" font-style="normal" fill="#222" transform="rotate(-70 379.02 276.58)" stroke="#222" stroke-width="0.14">G89L</text>
<line x1="392.26" y1="293.40" x2="392.26" y2="279.78" stroke="#c4c4c4" stroke-width="0.45"/>
<circle cx="392.26" cy="279.78" r="0.7" fill="#4a8fc9"/>
<path d="M392.26 279.08 V277.58 L387.06 274.78 V273.78" fill="none" stroke="#bdbdbd" stroke-width="0.35"/>
<text x="388.56" y="273.18" font-size="4.9" text-anchor="start" font-weight="normal" font-style="normal" fill="#222" transform="rotate(-70 388.56 273.18)" stroke="#222" stroke-width="0.14">H153Ifs*17/R</text>
<line x1="397.98" y1="293.40" x2="397.98" y2="279.78" stroke="#c4c4c4" stroke-width="0.45"/>
<circle cx="397.98" cy="279.78" r="0.7" fill="#4a8fc9"/>
<path d="M397.98 279.08 V277.58 L392.78 274.78 V273.78" fill="none" stroke="#bdbdbd" stroke-width="0.35"/>
<text x="394.28" y="273.18" font-size="4.9" text-anchor="start" font-weight="normal" font-style="normal" fill="#222" transform="rotate(-70 394.28 273.18)" stroke="#222" stroke-width="0.14">N154Sfs*3/H</text>
<line x1="405.91" y1="293.40" x2="405.91" y2="279.78" stroke="#c4c4c4" stroke-width="0.45"/>
<circle cx="405.91" cy="279.78" r="0.7" fill="#4a8fc9"/>
<path d="M405.91 279.08 V277.58 L398.81 274.78 V273.78" fill="none" stroke="#bdbdbd" stroke-width="0.35"/>
<text x="400.31" y="273.18" font-size="4.9" text-anchor="start" font-weight="normal" font-style="normal" fill="#222" transform="rotate(-70 400.31 273.18)" stroke="#222" stroke-width="0.14">D179Afs*16</text>
<line x1="408.14" y1="293.40" x2="408.14" y2="279.78" stroke="#c4c4c4" stroke-width="0.45"/>
<circle cx="408.14" cy="279.78" r="0.7" fill="#4daf4a"/>
<path d="M408.14 279.08 V277.58 L412.84 274.78 V273.78" fill="none" stroke="#bdbdbd" stroke-width="0.35"/>
<text x="414.34" y="273.18" font-size="4.9" text-anchor="start" font-weight="normal" font-style="normal" fill="#222" transform="rotate(-70 414.34 273.18)" stroke="#222" stroke-width="0.14">S187T</text>
<line x1="409.09" y1="293.40" x2="409.09" y2="239.52" stroke="#c4c4c4" stroke-width="0.45"/>
<circle cx="409.09" cy="239.52" r="0.7" fill="#4daf4a"/>
<text x="410.59" y="236.32" font-size="4.9" text-anchor="start" font-weight="normal" font-style="normal" fill="#222" transform="rotate(-70 410.59 236.32)" stroke="#222" stroke-width="0.14">N188I</text>
<line x1="416.39" y1="293.40" x2="416.39" y2="279.78" stroke="#c4c4c4" stroke-width="0.45"/>
<circle cx="416.39" cy="279.78" r="0.7" fill="#6a51a3"/>
<path d="M416.39 279.08 V277.58 L418.79 274.78 V273.78" fill="none" stroke="#bdbdbd" stroke-width="0.35"/>
<text x="420.29" y="273.18" font-size="4.9" text-anchor="start" font-weight="normal" font-style="normal" fill="#222" transform="rotate(-70 420.29 273.18)" stroke="#222" stroke-width="0.14">L211fs</text>
<line x1="423.38" y1="293.40" x2="423.38" y2="226.10" stroke="#c4c4c4" stroke-width="0.45"/>
<circle cx="423.38" cy="226.10" r="0.7" fill="#4daf4a"/>
<text x="424.88" y="222.90" font-size="4.9" text-anchor="start" font-weight="normal" font-style="normal" fill="#222" transform="rotate(-70 424.88 222.90)" stroke="#222" stroke-width="0.14">R233H</text>
<line x1="425.28" y1="293.40" x2="425.28" y2="279.78" stroke="#c4c4c4" stroke-width="0.45"/>
<circle cx="425.28" cy="279.78" r="0.7" fill="#4daf4a"/>
<text x="427.38" y="276.58" font-size="4.9" text-anchor="start" font-weight="normal" font-style="normal" fill="#222" transform="rotate(-70 427.38 276.58)" stroke="#222" stroke-width="0.14">G239V</text>
<line x1="433.85" y1="293.40" x2="433.85" y2="279.78" stroke="#c4c4c4" stroke-width="0.45"/>
<circle cx="433.85" cy="279.78" r="0.7" fill="#4daf4a"/>
<text x="435.35" y="276.58" font-size="4.9" text-anchor="start" font-weight="normal" font-style="normal" fill="#222" transform="rotate(-70 435.35 276.58)" stroke="#222" stroke-width="0.14">M266I</text>
<line x1="442.11" y1="293.40" x2="442.11" y2="279.78" stroke="#c4c4c4" stroke-width="0.45"/>
<circle cx="442.11" cy="279.78" r="0.7" fill="#d7263d"/>
<text x="443.61" y="276.58" font-size="4.9" text-anchor="start" font-weight="normal" font-style="normal" fill="#222" transform="rotate(-70 443.61 276.58)" stroke="#222" stroke-width="0.14">K292X</text>
<line x1="458.30" y1="293.40" x2="458.30" y2="266.36" stroke="#c4c4c4" stroke-width="0.45"/>
<circle cx="458.30" cy="266.36" r="0.7" fill="#d7263d"/>
<text x="459.80" y="263.16" font-size="4.9" text-anchor="start" font-weight="normal" font-style="normal" fill="#222" transform="rotate(-70 459.80 263.16)" stroke="#222" stroke-width="0.14">R343X</text>
<line x1="473.22" y1="293.40" x2="473.22" y2="279.78" stroke="#c4c4c4" stroke-width="0.45"/>
<circle cx="473.22" cy="279.78" r="0.7" fill="#4a8fc9"/>
<path d="M473.22 279.08 V277.58 L465.22 274.78 V273.78" fill="none" stroke="#bdbdbd" stroke-width="0.35"/>
<text x="466.72" y="273.18" font-size="4.9" text-anchor="start" font-weight="normal" font-style="normal" fill="#222" transform="rotate(-70 466.72 273.18)" stroke="#222" stroke-width="0.14">V390fs</text>
<line x1="474.50" y1="293.40" x2="474.50" y2="279.78" stroke="#c4c4c4" stroke-width="0.45"/>
<circle cx="474.50" cy="279.78" r="0.7" fill="#4daf4a"/>
<path d="M474.50 279.08 V277.58 L470.10 274.78 V273.78" fill="none" stroke="#bdbdbd" stroke-width="0.35"/>
<text x="471.60" y="273.18" font-size="4.9" text-anchor="start" font-weight="normal" font-style="normal" fill="#222" transform="rotate(-70 471.60 273.18)" stroke="#222" stroke-width="0.14">N399K</text>
<line x1="475.45" y1="293.40" x2="475.45" y2="252.94" stroke="#c4c4c4" stroke-width="0.45"/>
<circle cx="475.45" cy="252.94" r="0.7" fill="#4daf4a"/>
<text x="476.95" y="249.74" font-size="4.9" text-anchor="start" font-weight="normal" font-style="normal" fill="#222" transform="rotate(-70 476.95 249.74)" stroke="#222" stroke-width="0.14">G397R</text>
<line x1="477.99" y1="293.40" x2="477.99" y2="279.78" stroke="#c4c4c4" stroke-width="0.45"/>
<circle cx="477.99" cy="279.78" r="0.7" fill="#4daf4a"/>
<path d="M477.99 279.08 V277.58 L480.19 274.78 V273.78" fill="none" stroke="#bdbdbd" stroke-width="0.35"/>
<text x="481.69" y="273.18" font-size="4.9" text-anchor="start" font-weight="normal" font-style="normal" fill="#222" transform="rotate(-70 481.69 273.18)" stroke="#222" stroke-width="0.14">N408K</text>
<rect x="349.40" y="293.60" width="15.40" height="8.90" fill="#7f8c8d" stroke="#555" stroke-width="0.35"/>
<rect x="364.80" y="293.60" width="145.40" height="8.90" fill="#f3d590" stroke="#3a3320" stroke-width="0.6"/>
<rect x="509.60" y="293.60" width="1.60" height="8.90" fill="#c8553a"/>
<line x1="349.40" y1="307.00" x2="511.20" y2="307.00" stroke="#555" stroke-width="0.5"/>
<line x1="349.40" y1="307.00" x2="349.40" y2="309.00" stroke="#555" stroke-width="0.5"/>
<text x="349.40" y="318.40" font-size="7.3" text-anchor="middle" font-weight="normal" font-style="normal" fill="#222" stroke="#222" stroke-width="0.14">0</text>
<line x1="381.15" y1="307.00" x2="381.15" y2="309.00" stroke="#555" stroke-width="0.5"/>
<text x="381.15" y="318.40" font-size="7.3" text-anchor="middle" font-weight="normal" font-style="normal" fill="#222" stroke="#222" stroke-width="0.14">100</text>
<line x1="412.90" y1="307.00" x2="412.90" y2="309.00" stroke="#555" stroke-width="0.5"/>
<text x="412.90" y="318.40" font-size="7.3" text-anchor="middle" font-weight="normal" font-style="normal" fill="#222" stroke="#222" stroke-width="0.14">200</text>
<line x1="444.65" y1="307.00" x2="444.65" y2="309.00" stroke="#555" stroke-width="0.5"/>
<text x="444.65" y="318.40" font-size="7.3" text-anchor="middle" font-weight="normal" font-style="normal" fill="#222" stroke="#222" stroke-width="0.14">300</text>
<line x1="476.40" y1="307.00" x2="476.40" y2="309.00" stroke="#555" stroke-width="0.5"/>
<text x="476.40" y="318.40" font-size="7.3" text-anchor="middle" font-weight="normal" font-style="normal" fill="#222" stroke="#222" stroke-width="0.14">400</text>
<line x1="508.15" y1="307.00" x2="508.15" y2="309.00" stroke="#555" stroke-width="0.5"/>
<text x="508.15" y="318.40" font-size="7.3" text-anchor="middle" font-weight="normal" font-style="normal" fill="#222" stroke="#222" stroke-width="0.14">500</text>
<rect x="348.80" y="325.00" width="5.80" height="5.80" fill="#e8956a"/>
<text x="357.20" y="330.40" font-size="6.4" text-anchor="start" font-weight="normal" font-style="italic" fill="#222" stroke="#222" stroke-width="0.14">fumC</text>
<rect x="386.00" y="325.00" width="6.20" height="5.80" fill="#f3d590"/>
<text x="395.00" y="330.40" font-size="6.6" text-anchor="start" font-weight="normal" font-style="italic" fill="#222" stroke="#222" stroke-width="0.14">Fumarase_classII</text>
</g>
<g id="panelD">
<text x="304.20" y="355.20" font-size="13" text-anchor="start" font-weight="bold" font-style="normal" fill="#111">D</text>
<rect x="336.50" y="365.50" width="169.83" height="94.90" fill="#ffffff"/>
<line x1="336.50" y1="365.50" x2="506.33" y2="365.50" stroke="#666" stroke-width="0.45"/>
<line x1="336.50" y1="374.99" x2="506.33" y2="374.99" stroke="#9a9a9a" stroke-width="0.45"/>
<line x1="336.50" y1="384.48" x2="506.33" y2="384.48" stroke="#9a9a9a" stroke-width="0.45"/>
<line x1="336.50" y1="393.97" x2="506.33" y2="393.97" stroke="#9a9a9a" stroke-width="0.45"/>
<line x1="336.50" y1="403.46" x2="506.33" y2="403.46" stroke="#9a9a9a" stroke-width="0.45"/>
<line x1="336.50" y1="412.95" x2="506.33" y2="412.95" stroke="#9a9a9a" stroke-width="0.45"/>
<line x1="336.50" y1="422.44" x2="506.33" y2="422.44" stroke="#9a9a9a" stroke-width="0.45"/>
<line x1="336.50" y1="431.93" x2="506.33" y2="431.93" stroke="#9a9a9a" stroke-width="0.45"/>
<line x1="336.50" y1="441.42" x2="506.33" y2="441.42" stroke="#9a9a9a" stroke-width="0.45"/>
<line x1="336.50" y1="450.91" x2="506.33" y2="450.91" stroke="#9a9a9a" stroke-width="0.45"/>
<line x1="336.50" y1="460.40" x2="506.33" y2="460.40" stroke="#666" stroke-width="0.45"/>
<rect x="342.56" y="365.50" width="5.16" height="9.49" fill="#1f6aa8"/>
<rect x="382.88" y="365.50" width="5.16" height="9.49" fill="#1f6aa8"/>
<rect x="394.40" y="365.50" width="5.16" height="9.49" fill="#1f6aa8"/>
<rect x="405.92" y="365.50" width="5.16" height="9.49" fill="#1f6aa8"/>
<rect x="434.72" y="365.50" width="5.16" height="9.49" fill="#1f6aa8"/>
<rect x="452.00" y="365.50" width="5.47" height="9.49" fill="#1f6aa8"/>
<rect x="458.07" y="365.50" width="5.47" height="9.49" fill="#1f6aa8"/>
<rect x="470.21" y="365.50" width="5.47" height="9.49" fill="#1f6aa8"/>
<rect x="488.42" y="365.50" width="5.47" height="9.49" fill="#1f6aa8"/>
<rect x="494.49" y="365.50" width="5.47" height="9.49" fill="#1f6aa8"/>
<rect x="500.56" y="365.50" width="5.47" height="9.49" fill="#1f6aa8"/>
<rect x="354.08" y="374.99" width="5.16" height="9.49" fill="#1f6aa8"/>
<rect x="394.40" y="374.99" width="5.16" height="9.49" fill="#1f6aa8"/>
<rect x="400.16" y="374.99" width="5.16" height="9.49" fill="#1f6aa8"/>
<rect x="405.92" y="374.99" width="5.16" height="9.49" fill="#1f6aa8"/>
<rect x="411.68" y="374.99" width="5.16" height="9.49" fill="#1f6aa8"/>
<rect x="417.44" y="374.99" width="5.16" height="9.49" fill="#1f6aa8"/>
<rect x="452.00" y="374.99" width="5.47" height="9.49" fill="#1f6aa8"/>
<rect x="458.07" y="374.99" width="5.47" height="9.49" fill="#1f6aa8"/>
<rect x="476.28" y="374.99" width="5.47" height="9.49" fill="#1f6aa8"/>
<rect x="482.35" y="374.99" width="5.47" height="9.49" fill="#1f6aa8"/>
<rect x="354.08" y="384.48" width="5.16" height="9.49" fill="#1f6aa8"/>
<rect x="394.40" y="384.48" width="5.16" height="9.49" fill="#1f6aa8"/>
<rect x="411.68" y="384.48" width="5.16" height="9.49" fill="#1f6aa8"/>
<rect x="417.44" y="384.48" width="5.16" height="9.49" fill="#1f6aa8"/>
<rect x="452.00" y="384.48" width="5.47" height="9.49" fill="#1f6aa8"/>
<rect x="458.07" y="384.48" width="5.47" height="9.49" fill="#1f6aa8"/>
<rect x="470.21" y="384.48" width="5.47" height="9.49" fill="#1f6aa8"/>
<rect x="482.35" y="384.48" width="5.47" height="9.49" fill="#1f6aa8"/>
<rect x="336.80" y="393.97" width="5.16" height="9.49" fill="#1f6aa8"/>
<rect x="394.40" y="393.97" width="5.16" height="9.49" fill="#1f6aa8"/>
<rect x="411.68" y="393.97" width="5.16" height="9.49" fill="#1f6aa8"/>
<rect x="423.20" y="393.97" width="5.16" height="9.49" fill="#1f6aa8"/>
<rect x="440.48" y="393.97" width="5.16" height="9.49" fill="#1f6aa8"/>
<rect x="458.07" y="393.97" width="5.47" height="9.49" fill="#1f6aa8"/>
<rect x="482.35" y="393.97" width="5.47" height="9.49" fill="#1f6aa8"/>
<rect x="336.80" y="403.46" width="5.16" height="9.49" fill="#1f6aa8"/>
<rect x="342.56" y="403.46" width="5.16" height="9.49" fill="#1f6aa8"/>
<rect x="394.40" y="403.46" width="5.16" height="9.49" fill="#1f6aa8"/>
<rect x="405.92" y="403.46" width="5.16" height="9.49" fill="#1f6aa8"/>
<rect x="411.68" y="403.46" width="5.16" height="9.49" fill="#1f6aa8"/>
<rect x="452.00" y="403.46" width="5.47" height="9.49" fill="#1f6aa8"/>
<rect x="458.07" y="403.46" width="5.47" height="9.49" fill="#1f6aa8"/>
<rect x="394.40" y="412.95" width="5.16" height="9.49" fill="#1f6aa8"/>
<rect x="405.92" y="412.95" width="5.16" height="9.49" fill="#1f6aa8"/>
<rect x="434.72" y="412.95" width="5.16" height="9.49" fill="#1f6aa8"/>
<rect x="452.00" y="412.95" width="5.47" height="9.49" fill="#1f6aa8"/>
<rect x="458.07" y="412.95" width="5.47" height="9.49" fill="#1f6aa8"/>
<rect x="494.49" y="412.95" width="5.47" height="9.49" fill="#1f6aa8"/>
<rect x="500.56" y="412.95" width="5.47" height="9.49" fill="#1f6aa8"/>
<rect x="394.40" y="422.44" width="5.16" height="9.49" fill="#1f6aa8"/>
<rect x="423.20" y="422.44" width="5.16" height="9.49" fill="#1f6aa8"/>
<rect x="428.96" y="422.44" width="5.16" height="9.49" fill="#1f6aa8"/>
<rect x="446.24" y="422.44" width="5.16" height="9.49" fill="#1f6aa8"/>
<rect x="458.07" y="422.44" width="5.47" height="9.49" fill="#1f6aa8"/>
<rect x="476.28" y="422.44" width="5.47" height="9.49" fill="#1f6aa8"/>
<rect x="482.35" y="422.44" width="5.47" height="9.49" fill="#1f6aa8"/>
<rect x="336.80" y="431.93" width="5.16" height="9.49" fill="#1f6aa8"/>
<rect x="342.56" y="431.93" width="5.16" height="9.49" fill="#1f6aa8"/>
<rect x="354.08" y="431.93" width="5.16" height="9.49" fill="#1f6aa8"/>
<rect x="388.64" y="431.93" width="5.16" height="9.49" fill="#1f6aa8"/>
<rect x="394.40" y="431.93" width="5.16" height="9.49" fill="#1f6aa8"/>
<rect x="342.56" y="441.42" width="5.16" height="9.49" fill="#1f6aa8"/>
<rect x="394.40" y="441.42" width="5.16" height="9.49" fill="#1f6aa8"/>
<rect x="411.68" y="441.42" width="5.16" height="9.49" fill="#1f6aa8"/>
<rect x="423.20" y="441.42" width="5.16" height="9.49" fill="#1f6aa8"/>
<rect x="336.80" y="450.91" width="5.16" height="9.49" fill="#1f6aa8"/>
<rect x="411.68" y="450.91" width="5.16" height="9.49" fill="#1f6aa8"/>
<rect x="452.00" y="450.91" width="5.47" height="9.49" fill="#1f6aa8"/>
<rect x="500.56" y="450.91" width="5.47" height="9.49" fill="#1f6aa8"/>
<line x1="336.50" y1="374.99" x2="506.33" y2="374.99" stroke="#ffffff" stroke-width="0.35" opacity="0.28"/>
<line x1="336.50" y1="384.48" x2="506.33" y2="384.48" stroke="#ffffff" stroke-width="0.35" opacity="0.28"/>
<line x1="336.50" y1="393.97" x2="506.33" y2="393.97" stroke="#ffffff" stroke-width="0.35" opacity="0.28"/>
<line x1="336.50" y1="403.46" x2="506.33" y2="403.46" stroke="#ffffff" stroke-width="0.35" opacity="0.28"/>
<line x1="336.50" y1="412.95" x2="506.33" y2="412.95" stroke="#ffffff" stroke-width="0.35" opacity="0.28"/>
<line x1="336.50" y1="422.44" x2="506.33" y2="422.44" stroke="#ffffff" stroke-width="0.35" opacity="0.28"/>
<line x1="336.50" y1="431.93" x2="506.33" y2="431.93" stroke="#ffffff" stroke-width="0.35" opacity="0.28"/>
<line x1="336.50" y1="441.42" x2="506.33" y2="441.42" stroke="#ffffff" stroke-width="0.35" opacity="0.28"/>
<line x1="336.50" y1="450.91" x2="506.33" y2="450.91" stroke="#ffffff" stroke-width="0.35" opacity="0.28"/>
<line x1="336.50" y1="365.50" x2="336.50" y2="460.40" stroke="#555" stroke-width="0.5"/>
<line x1="506.33" y1="365.50" x2="506.33" y2="460.40" stroke="#888" stroke-width="0.45"/>
<text x="334.30" y="372.40" font-size="5.8" text-anchor="end" font-weight="normal" font-style="italic" fill="#222" stroke="#222" stroke-width="0.14">Transcription_factor</text>
<text x="508.40" y="372.60" font-size="6.0" text-anchor="start" font-weight="normal" font-style="normal" fill="#1a1a1a" stroke="#1a1a1a" stroke-width="0.14">37%</text>
<text x="334.30" y="382.07" font-size="5.8" text-anchor="end" font-weight="normal" font-style="italic" fill="#222" stroke="#222" stroke-width="0.14">Genome_integrity</text>
<text x="508.40" y="382.16" font-size="6.0" text-anchor="start" font-weight="normal" font-style="normal" fill="#1a1a1a" stroke="#1a1a1a" stroke-width="0.14">30%</text>
<text x="334.30" y="391.74" font-size="5.8" text-anchor="end" font-weight="normal" font-style="italic" fill="#222" stroke="#222" stroke-width="0.14">SWI/SNF_complex</text>
<text x="508.40" y="391.72" font-size="6.0" text-anchor="start" font-weight="normal" font-style="normal" fill="#1a1a1a" stroke="#1a1a1a" stroke-width="0.14">27%</text>
<text x="334.30" y="401.41" font-size="5.8" text-anchor="end" font-weight="normal" font-style="italic" fill="#222" stroke="#222" stroke-width="0.14">RTK_RAS_signaling</text>
<text x="508.40" y="401.28" font-size="6.0" text-anchor="start" font-weight="normal" font-style="normal" fill="#1a1a1a" stroke="#1a1a1a" stroke-width="0.14">23%</text>
<text x="334.30" y="411.08" font-size="5.8" text-anchor="end" font-weight="normal" font-style="italic" fill="#222" stroke="#222" stroke-width="0.14">NOTCH_signaling</text>
<text x="508.40" y="410.84" font-size="6.0" text-anchor="start" font-weight="normal" font-style="normal" fill="#1a1a1a" stroke="#1a1a1a" stroke-width="0.14">23%</text>
<text x="334.30" y="420.75" font-size="5.8" text-anchor="end" font-weight="normal" font-style="italic" fill="#222" stroke="#222" stroke-width="0.14">MYC_signaling</text>
<text x="508.40" y="420.40" font-size="6.0" text-anchor="start" font-weight="normal" font-style="normal" fill="#1a1a1a" stroke="#1a1a1a" stroke-width="0.14">23%</text>
<text x="334.30" y="430.42" font-size="5.8" text-anchor="end" font-weight="normal" font-style="italic" fill="#222" stroke="#222" stroke-width="0.14">Hippo_signaling</text>
<text x="508.40" y="429.96" font-size="6.0" text-anchor="start" font-weight="normal" font-style="normal" fill="#1a1a1a" stroke="#1a1a1a" stroke-width="0.14">23%</text>
<text x="334.30" y="440.09" font-size="5.8" text-anchor="end" font-weight="normal" font-style="italic" fill="#222" stroke="#222" stroke-width="0.14">PI3K_signaling</text>
<text x="508.40" y="439.52" font-size="6.0" text-anchor="start" font-weight="normal" font-style="normal" fill="#1a1a1a" stroke="#1a1a1a" stroke-width="0.14">17%</text>
<text x="334.30" y="449.76" font-size="5.8" text-anchor="end" font-weight="normal" font-style="italic" fill="#222" stroke="#222" stroke-width="0.14">Wnt_signaling</text>
<text x="508.40" y="449.08" font-size="6.0" text-anchor="start" font-weight="normal" font-style="normal" fill="#1a1a1a" stroke="#1a1a1a" stroke-width="0.14">13%</text>
<text x="334.30" y="459.43" font-size="5.8" text-anchor="end" font-weight="normal" font-style="italic" fill="#222" stroke="#222" stroke-width="0.14">TGFB_signaling</text>
<text x="508.40" y="458.64" font-size="6.0" text-anchor="start" font-weight="normal" font-style="normal" fill="#1a1a1a" stroke="#1a1a1a" stroke-width="0.14">13%</text>
<text x="341.38" y="472.60" font-size="5.8" text-anchor="start" font-weight="normal" font-style="normal" fill="#222" transform="rotate(-90 341.38 472.60)" stroke="#222" stroke-width="0.14">P05</text>
<text x="347.14" y="472.60" font-size="5.8" text-anchor="start" font-weight="normal" font-style="normal" fill="#222" transform="rotate(-90 347.14 472.60)" stroke="#222" stroke-width="0.14">P09</text>
<text x="352.90" y="472.60" font-size="5.8" text-anchor="start" font-weight="normal" font-style="normal" fill="#222" transform="rotate(-90 352.90 472.60)" stroke="#222" stroke-width="0.14">P30</text>
<text x="358.66" y="472.60" font-size="5.8" text-anchor="start" font-weight="normal" font-style="normal" fill="#222" transform="rotate(-90 358.66 472.60)" stroke="#222" stroke-width="0.14">P02</text>
<text x="364.42" y="472.60" font-size="5.8" text-anchor="start" font-weight="normal" font-style="normal" fill="#222" transform="rotate(-90 364.42 472.60)" stroke="#222" stroke-width="0.14">P13</text>
<text x="370.18" y="472.60" font-size="5.8" text-anchor="start" font-weight="normal" font-style="normal" fill="#222" transform="rotate(-90 370.18 472.60)" stroke="#222" stroke-width="0.14">P18</text>
<text x="375.94" y="472.60" font-size="5.8" text-anchor="start" font-weight="normal" font-style="normal" fill="#222" transform="rotate(-90 375.94 472.60)" stroke="#222" stroke-width="0.14">P19</text>
<text x="381.70" y="472.60" font-size="5.8" text-anchor="start" font-weight="normal" font-style="normal" fill="#222" transform="rotate(-90 381.70 472.60)" stroke="#222" stroke-width="0.14">P20</text>
<text x="387.46" y="472.60" font-size="5.8" text-anchor="start" font-weight="normal" font-style="normal" fill="#222" transform="rotate(-90 387.46 472.60)" stroke="#222" stroke-width="0.14">P27</text>
<text x="393.22" y="472.60" font-size="5.8" text-anchor="start" font-weight="normal" font-style="normal" fill="#222" transform="rotate(-90 393.22 472.60)" stroke="#222" stroke-width="0.14">P28</text>
<text x="398.98" y="472.60" font-size="5.8" text-anchor="start" font-weight="normal" font-style="normal" fill="#222" transform="rotate(-90 398.98 472.60)" stroke="#222" stroke-width="0.14">P06</text>
<text x="404.74" y="472.60" font-size="5.8" text-anchor="start" font-weight="normal" font-style="normal" fill="#222" transform="rotate(-90 404.74 472.60)" stroke="#222" stroke-width="0.14">P08</text>
<text x="410.50" y="472.60" font-size="5.8" text-anchor="start" font-weight="normal" font-style="normal" fill="#222" transform="rotate(-90 410.50 472.60)" stroke="#222" stroke-width="0.14">P15</text>
<text x="416.26" y="472.60" font-size="5.8" text-anchor="start" font-weight="normal" font-style="normal" fill="#222" transform="rotate(-90 416.26 472.60)" stroke="#222" stroke-width="0.14">P10</text>
<text x="422.02" y="472.60" font-size="5.8" text-anchor="start" font-weight="normal" font-style="normal" fill="#222" transform="rotate(-90 422.02 472.60)" stroke="#222" stroke-width="0.14">P14</text>
<text x="427.78" y="472.60" font-size="5.8" text-anchor="start" font-weight="normal" font-style="normal" fill="#222" transform="rotate(-90 427.78 472.60)" stroke="#222" stroke-width="0.14">P04</text>
<text x="433.54" y="472.60" font-size="5.8" text-anchor="start" font-weight="normal" font-style="normal" fill="#222" transform="rotate(-90 433.54 472.60)" stroke="#222" stroke-width="0.14">P17</text>
<text x="439.30" y="472.60" font-size="5.8" text-anchor="start" font-weight="normal" font-style="normal" fill="#222" transform="rotate(-90 439.30 472.60)" stroke="#222" stroke-width="0.14">P22</text>
<text x="445.06" y="472.60" font-size="5.8" text-anchor="start" font-weight="normal" font-style="normal" fill="#222" transform="rotate(-90 445.06 472.60)" stroke="#222" stroke-width="0.14">P01</text>
<text x="450.82" y="472.60" font-size="5.8" text-anchor="start" font-weight="normal" font-style="normal" fill="#222" transform="rotate(-90 450.82 472.60)" stroke="#222" stroke-width="0.14">P21</text>
<text x="456.74" y="472.60" font-size="5.8" text-anchor="start" font-weight="normal" font-style="normal" fill="#222" transform="rotate(-90 456.74 472.60)" stroke="#222" stroke-width="0.14">P16</text>
<text x="462.80" y="472.60" font-size="5.8" text-anchor="start" font-weight="normal" font-style="normal" fill="#222" transform="rotate(-90 462.80 472.60)" stroke="#222" stroke-width="0.14">P03</text>
<text x="468.88" y="472.60" font-size="5.8" text-anchor="start" font-weight="normal" font-style="normal" fill="#222" transform="rotate(-90 468.88 472.60)" stroke="#222" stroke-width="0.14">P11</text>
<text x="474.94" y="472.60" font-size="5.8" text-anchor="start" font-weight="normal" font-style="normal" fill="#222" transform="rotate(-90 474.94 472.60)" stroke="#222" stroke-width="0.14">P07</text>
<text x="481.01" y="472.60" font-size="5.8" text-anchor="start" font-weight="normal" font-style="normal" fill="#222" transform="rotate(-90 481.01 472.60)" stroke="#222" stroke-width="0.14">P12</text>
<text x="487.09" y="472.60" font-size="5.8" text-anchor="start" font-weight="normal" font-style="normal" fill="#222" transform="rotate(-90 487.09 472.60)" stroke="#222" stroke-width="0.14">P24</text>
<text x="493.15" y="472.60" font-size="5.8" text-anchor="start" font-weight="normal" font-style="normal" fill="#222" transform="rotate(-90 493.15 472.60)" stroke="#222" stroke-width="0.14">P25</text>
<text x="499.23" y="472.60" font-size="5.8" text-anchor="start" font-weight="normal" font-style="normal" fill="#222" transform="rotate(-90 499.23 472.60)" stroke="#222" stroke-width="0.14">P26</text>
<text x="505.29" y="472.60" font-size="5.8" text-anchor="start" font-weight="normal" font-style="normal" fill="#222" transform="rotate(-90 505.29 472.60)" stroke="#222" stroke-width="0.14">P23</text>
</g>
</svg>
</body></html>
